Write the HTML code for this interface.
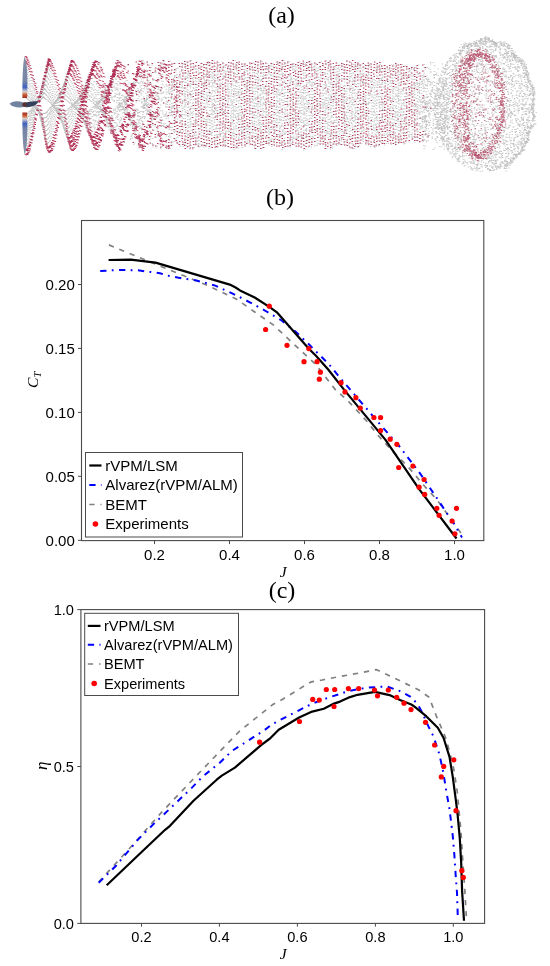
<!DOCTYPE html>
<html><head><meta charset="utf-8"><title>Figure</title>
<style>
html,body{margin:0;padding:0;background:#fff;}
svg{display:block;}
.s{font-family:"Liberation Sans",Arial,sans-serif;fill:#000;}
.t{font-family:"Liberation Serif","Times New Roman",serif;font-size:24px;fill:#000;}
.j{font-family:"Liberation Serif","Times New Roman",serif;font-style:italic;font-size:15.5px;fill:#000;}
</style></head>
<body>
<svg width="550" height="966" viewBox="0 0 550 966">
<rect width="550" height="966" fill="#fff"/>
<g id="wake"><g transform="scale(0.5)"><path d="M50 194l1 0m-1-10l1 0m-1-8l1 0m-1-9l1 0m-1-10l1 0m-1-8l1 0m-1-9l1 0m-1-9l1 0m-1 62l1 0m-1-9l1 0m-1-8l1 0m-1-10l1 0m-1-8l1 0m-1-9l1 0m-1-9l1 0m0-8l1 0m-2 62l1 0m-1-9l1 0m-1-9l1 0m0-8l1 0m-1-9l1 0m-1-9l1 0m-1-8l1 0m-1-9l1 0m-1 61l1 0m-1-8l1 0m-1-9l1 0m-1-8l1 0m0-8l1 0m-1-9l1 0m-1-9l1 0m0-8l1 0m-3 60l1 0m0-8l1 0m-1-9l1 0m0-8l1 0m-2-8l1 0m0-8l1 0m-1-8l1 0m0-8l1 0m-3 58l1 0m-1-8l1 0m0-8l1 0m-1-8l1 0m0-7l1 0m-1-8l1 0m-1-8l1 0m0-8l1 0m-3 56l1 0m0-7l1 0m0-8l1 0m-1-7l1 0m-1-8l1 0m0-7l1 0m-1-8l1 0m-1-7l1 0m-3 53l1 0m0-7l1 0m0-7l1 0m-1-7l1 0m0-7l1 0m0-7l1 0m-1-6l1 0m0-7l1 0m-4 49l1 0m0-6l1 0m-1-6l1 0m0-7l1 0m0-6l1 0m-1-6l1 0m0-7l1 0m0-6l1 0m-5 45l1 0m0-5l1 0m0-6l1 0m0-6l1 0m-1-5l1 0m0-6l1 0m0-5l1 0m0-6l1 0m-5 40l1 0m0-4l1 0m0-5l1 0m0-5l1 0m-1-5l1 0m1-6l1 0m-1-4l1 0m0-5l1 0m-5 36l1 0m0-4l1 0m0-4l1 0m-1-5l1 0m0-4l1 0m0-4l1 0m1-4l1 0m-1-4l1 0m-6 30l1 0m1-3l1 0m-1-3l1 0m0-4l1 0m0-3l1 0m0-3l1 0m1-4l1 0m-1-3l1 0m-6 25l1 0m1-3l1 0m-1-2l1 0m0-3l1 0m0-2l1 0m0-3l1 0m0-2l1 0m0-3l1 0m-6 19l1 0m0-1l1 0m0-2l1 0m0-2l1 0m0-1l1 0m0-2l1 0m0-2l1 0m0-1l1 0m-7 13l1 0m1-1l1 0m-1 0l1 0m0-1l1 0m1-1l1 0m0-1l1 0m0-1l1 0m0-1l1 0m-7 8l1 0m0 0l1 0m1 0l1 0m-1 0l1 0m0 0l1 0m1 0l1 0m0 0l1 0m0 0l1 0m-8 2l1 0m1 1l1 0m0 0l1 0m0 1l1 0m0 1l1 0m0 1l1 0m0 1l1 0m1 1l1 0m-8-5l1 0m0 2l1 0m0 2l1 0m0 1l1 0m0 2l1 0m1 2l1 0m0 2l1 0m0 1l1 0m-8-10l1 0m0 2l1 0m0 3l1 0m0 2l1 0m1 3l1 0m0 2l1 0m0 3l1 0m0 3l1 0m-8-17l1 0m0 4l1 0m1 3l1 0m0 3l1 0m0 4l1 0m1 3l1 0m0 3l1 0m0 3l1 0m-9-21l1 0m1 4l1 0m0 4l1 0m0 4l1 0m0 4l1 0m1 5l1 0m0 3l1 0m0 4l1 0m-9-27l1 0m0 5l1 0m1 5l1 0m0 5l1 0m0 5l1 0m1 4l1 0m0 5l1 0m0 5l1 0m-9-33l1 0m0 6l1 0m1 6l1 0m0 5l1 0m0 5l1 0m0 6l1 0m1 5l1 0m0 5l1 0m-9-36l1 0m0 6l1 0m1 6l1 0m0 6l1 0m0 6l1 0m0 6l1 0m1 6l1 0m0 6l1 0m-9-41l1 0m0 7l1 0m1 6l1 0m0 7l1 0m0 7l1 0m1 6l1 0m0 6l1 0m0 7l1 0m-9-45l1 0m0 7l1 0m1 7l1 0m0 7l1 0m0 7l1 0m1 7l1 0m0 7l1 0m0 8l1 0m-9-50l1 0m0 9l1 0m0 7l1 0m1 8l1 0m0 6l1 0m0 8l1 0m1 8l1 0m0 8l1 0m-9-52l1 0m0 7l1 0m0 8l1 0m1 8l1 0m0 8l1 0m0 7l1 0m0 8l1 0m1 8l1 0m-9-54l1 0m0 8l1 0m0 8l1 0m1 8l1 0m0 8l1 0m0 8l1 0m0 9l1 0m1 8l1 0m-9-56l1 0m0 8l1 0m0 8l1 0m1 8l1 0m0 9l1 0m0 8l1 0m0 8l1 0m0 9l1 0m-8-59l1 0m0 9l1 0m0 8l1 0m1 9l1 0m0 8l1 0m0 9l1 0m0 8l1 0m1 9l1 0m-9-60l1 0m0 9l1 0m0 9l1 0m0 8l1 0m1 9l1 0m-1 7l1 0m1 10l1 0m0 8l1 0m-8-60l1 0m0 9l1 0m1 8l1 0m0 9l1 0m0 8l1 0m0 8l1 0m0 9l1 0m1 8l1 0m-9-59l1 0m1 8l1 0m0 8l1 0m0 9l1 0m0 9l1 0m1 8l1 0m0 8l1 0m0 8l1 0m-9-58l1 0m0 8l1 0m1 8l1 0m1 8l1 0m0 8l1 0m0 8l1 0m0 8l1 0m1 8l1 0m-9-57l1 0m0 9l1 0m0 7l1 0m1 7l1 0m0 8l1 0m1 8l1 0m0 8l1 0m0 8l1 0m-10-55l1 0m1 7l1 0m0 7l1 0m1 8l1 0m1 7l1 0m0 7l1 0m0 8l1 0m1 7l1 0m-10-52l1 0m0 7l1 0m1 6l1 0m0 7l1 0m1 7l1 0m0 8l1 0m1 7l1 0m0 7l1 0m-10-50l1 0m0 6l1 0m0 7l1 0m1 6l1 0m1 6l1 0m1 7l1 0m0 7l1 0m1 6l1 0m-12-46l1 0m1 5l1 0m1 6l1 0m1 6l1 0m0 6l1 0m0 6l1 0m1 6l1 0m1 5l1 0m-11-42l1 0m1 6l1 0m0 5l1 0m1 5l1 0m0 5l1 0m1 6l1 0m1 5l1 0m0 5l1 0m-12-38l1 0m2 5l1 0m0 4l1 0m1 5l1 0m1 4l1 0m0 5l1 0m1 5l1 0m1 4l1 0m-12-34l1 0m1 4l1 0m0 4l1 0m1 4l1 0m1 4l1 0m1 4l1 0m1 4l1 0m0 4l1 0m-12-29l1 0m1 3l1 0m0 3l1 0m1 3l1 0m1 4l1 0m1 3l1 0m1 3l1 0m0 4l1 0m-12-25l1 0m1 3l1 0m1 3l1 0m1 2l1 0m0 2l1 0m1 3l1 0m1 2l1 0m1 2l1 0m-13-18l1 0m1 2l1 0m1 1l1 0m1 2l1 0m1 2l1 0m1 1l1 0m1 2l1 0m0 1l1 0m-12-12l1 0m1 0l1 0m1 1l1 0m0 1l1 0m2 1l1 0m0 1l1 0m2 0l1 0m0 1l1 0m-13-7l1 0m1 0l1 0m1 0l1 0m1 0l1 0m1 0l1 0m1 0l1 0m1 0l1 0m1-1l1 0m-14-1l1 0m2-1l1 0m1-1l1 0m0 0l1 0m2-1l1 0m0-1l1 0m2-1l1 0m0-1l1 0m-13 5l1 0m1-2l1 0m1-2l1 0m1-1l1 0m1-2l1 0m1-1l1 0m1-2l1 0m1-2l1 0m-14 10l1 0m1-2l1 0m2-3l1 0m1-2l1 0m1-2l1 0m1-2l1 0m0-3l1 0m2-3l1 0m-14 16l1 0m1-4l1 0m1-3l1 0m1-3l1 0m1-3l1 0m1-3l1 0m2-3l1 0m0-4l1 0m-14 21l1 0m2-4l1 0m0-4l1 0m1-4l1 0m2-3l1 0m1-4l1 0m1-4l1 0m1-4l1 0m-15 26l1 0m2-5l1 0m1-4l1 0m1-5l1 0m1-4l1 0m1-5l1 0m2-5l1 0m1-4l1 0m-15 31l1 0m1-6l1 0m1-5l1 0m1-5l1 0m2-5l1 0m1-6l1 0m1-5l1 0m1-5l1 0m-15 35l1 0m1-6l1 0m2-6l1 0m1-5l1 0m1-6l1 0m1-6l1 0m2-6l1 0m1-6l1 0m-16 40l1 0m2-6l1 0m1-7l1 0m1-6l1 0m1-6l1 0m2-6l1 0m1-7l1 0m1-7l1 0m-16 44l1 0m2-7l1 0m1-6l1 0m1-8l1 0m2-6l1 0m1-7l1 0m1-7l1 0m2-7l1 0m-16 47l1 0m1-7l1 0m1-7l1 0m2-6l1 0m1-8l1 0m1-8l1 0m1-7l1 0m2-7l1 0m-17 50l1 0m2-8l1 0m1-8l1 0m1-7l1 0m2-7l1 0m1-8l1 0m1-8l1 0m1-7l1 0m-16 52l1 0m2-7l1 0m1-9l1 0m1-7l1 0m2-8l1 0m1-8l1 0m1-8l1 0m1-8l1 0m-16 55l1 0m1-8l1 0m1-8l1 0m2-8l1 0m1-8l1 0m2-8l1 0m-12 39l1 0m1-8l1 0m1-7l1 0m1-8l1 0m2-9l1 0m1-8l1 0m-12 40l1 0m1-8l1 0m1-8l1 0m2-8l1 0m2-8l1 0m1-8l1 0m-13 41l1 0m2-8l1 0m1-8l1 0m2-9l1 0m1-8l1 0m2-8l1 0m-13 41l1 0m2-8l1 0m1-8l1 0m1-8l1 0m2-8l1 0m2-8l1 0m-13 40l1 0m1-7l1 0m3-9l1 0m1-8l1 0m2-7l1 0m1-8l1 0m-13 40l1 0m1-8l1 0m2-7l1 0m2-8l1 0m2-8l1 0m2-7l1 0m-14 39l1 0m2-7l1 0m1-8l1 0m3-7l1 0m1-7l1 0m2-7l1 0m-13 36l1 0m2-7l1 0m1-7l1 0m2-6l1 0m2-7l1 0m2-6l1 0m-14 35l1 0m2-7l1 0m2-6l1 0m2-6l1 0m2-7l1 0m2-6l1 0m-14 32l1 0m2-6l1 0m1-5l1 0m3-6l1 0m2-5l1 0m2-6l1 0m-15 29l1 0m3-5l1 0m2-5l1 0m1-4l1 0m3-7l1 0m1-4l1 0m-13 27l1 0m2-5l1 0m1-4l1 0m2-5l1 0m3-4l1 0m1-4l1 0m-14 23l1 0m3-4l1 0m1-3l1 0m2-4l1 0m2-4l1 0m2-4l1 0m-14 21l1 0m2-4l1 0m2-2l1 0m2-3l1 0m2-4l1 0m2-2l1 0m-15 16l1 0m2-2l1 0m3-3l1 0m2-2l1 0m1-3l1 0m3-1l1 0m-14 12l1 0m1-1l1 0m3-2l1 0m1-2l1 0m3-1l1 0m2-2l1 0m-15 10l1 0m2-1l1 0m2-1l1 0m2 0l1 0m2-1l1 0m2 0l1 0m-15 5l1 0m3-1l1 0m1 1l1 0m3-1l1 0m2 0l1 0m2 1l1 0m-16 1l1 0m3 1l1 0m2 1l1 0m2 1l1 0m3 0l1 0m1 2l1 0m-15-3l1 0m3 1l1 0m1 2l1 0m3 1l1 0m2 2l1 0m2 2l1 0m-15-7l1 0m2 3l1 0m2 2l1 0m2 4l1 0m2 0l1 0m2 2l1 0m-14-9l1 0m2 3l1 0m1 3l1 0m2 3l1 0m2 2l1 0m3 4l1 0m-15-14l1 0m2 4l1 0m1 4l1 0m3 3l1 0m2 5l1 0m2 3l1 0m-15-18l1 0m3 6l1 0m1 2l1 0m2 4l1 0m2 6l1 0m3 5l1 0m-15-21l1 0m2 3l1 0m1 7l1 0m3 6l1 0m1 6l1 0m3 2l1 0m-15-23l1 0m2 5l1 0m2 7l1 0m2 4l1 0m1 6l1 0m2 4l1 0m-14-25l1 0m2 7l1 0m2 5l1 0m2 7l1 0m2 4l1 0m2 9l1 0m-14-32l1 0m1 6l1 0m3 7l1 0m1 7l1 0m2 7l1 0m2 8l1 0m-14-33l1 0m2 7l1 0m3 6l1 0m0 8l1 0m2 8l1 0m2 8l1 0m-14-36l1 0m2 6l1 0m2 9l1 0m2 7l1 0m1 8l1 0m2 8l1 0m-13-38l1 0m2 8l1 0m1 7l1 0m2 7l1 0m1 9l1 0m2 6l1 0m-13-37l1 0m2 6l1 0m1 9l1 0m2 9l1 0m2 7l1 0m2 8l1 0m-14-39l1 0m2 8l1 0m1 8l1 0m3 9l1 0m1 8l1 0m1 7l1 0m-12-39l1 0m2 7l1 0m1 10l1 0m2 5l1 0m1 9l1 0m1 9l1 0m-12-40l1 0m2 8l1 0m2 6l1 0m0 8l1 0m3 10l1 0m0 8l1 0m-11-41l1 0m1 8l1 0m1 6l1 0m3 8l1 0m1 11l1 0m1 7l1 0m-12-42l1 0m2 10l1 0m3 6l1 0m0 10l1 0m1 6l1 0m2 7l1 0m-12-37l1 0m2 6l1 0m1 6l1 0m1 12l1 0m2 3l1 0m1 10l1 0m-11-39l1 0m0 8l1 0m2 7l1 0m2 7l1 0m3 8l1 0m2 2l1 0m-14-31l1 0m2 2l1 0m2 9l1 0m0 11l1 0m3 3l1 0m1 8l1 0m-12-36l1 0m1 7l1 0m0 8l1 0m3 3l1 0m3 8l1 0m0 6l1 0m-12-32l1 0m1 5l1 0m2 6l1 0m2 7l1 0m1 2l1 0m3 7l1 0m-14-30l1 0m1 4l1 0m4 7l1 0m0 2l1 0m2 11l1 0m3 2l1 0m-14-25l1 0m2 5l1 0m1 4l1 0m3 2l1 0m-1 10l1 0m3 3l1 0m-13-25l1 0m2 4l1 0m1 6l1 0m2 0l1 0m1 3l1 0m3 6l1 0m-14-23l1 0m2 7l1 0m2 0l1 0m2 3l1 0m2 6l1 0m1-5l1 0m-13-12l1 0m2 3l1 0m0-3l1 0m3 9l1 0m2 2l1 0m0 4l1 0m-13-15l1 0m4 1l1 0m1 3l1 0m1-2l1 0m0 7l1 0m2 0l1 0m-11-10l1 0m0-2l1 0m4 5l1 0m2-3l1 0m2 3l1 0m0 5l1 0m-12-11l1 0m2 1l1 0m0-3l1 0m3 5l1 0m0 0l1 0m4-4l1 0m-14-1l1 0m1-3l1 0m3 1l1 0m1-2l1 0m1 5l1 0m2-3l1 0m-13 1l1 0m2-3l1 0m2 1l1 0m1-5l1 0m3 2l1 0m1-8l1 0m-12 13l1 0m1-4l1 0m0 0l1 0m4-1l1 0m3-4l1 0m-1-2l1 0m-15 8l1 0m3-2l1 0m2-3l1 0m2-3l1 0m2-3l1 0m2-3l1 0m-13 13l1 0m2-4l1 0m2 0l1 0m2-4l1 0m0-9l1 0m1 0l1 0m-12 15l1 0m2-5l1 0m3-4l1 0m0-5l1 0m2-6l1 0m3-1l1 0m-13 20l1 0m0-4l1 0m0-3l1 0m4-8l1 0m0-7l1 0m3 2l1 0m-13 19l1 0m4-6l1 0m-1-5l1 0m3-7l1 0m-1-6l1 0m3-4l1 0m-11 27l1 0m-1-4l1 0m3-11l1 0m0-5l1 0m2-5l1 0m4-3l1 0m-13 23l1 0m1-1l1 0m1-8l1 0m3-3l1 0m1-11l1 0m2-4l1 0m-13 31l1 0m2-5l1 0m-2-7l1 0m3-13l1 0m4-6l1 0m1 0l1 0m-14 31l1 0m2-5l1 0m2-12l1 0m2-5l1 0m1-8l1 0m2-7l1 0m-13 34l1 0m2-9l1 0m3-6l1 0m1-6l1 0m0-4l1 0m1-12l1 0m-12 39l1 0m1-9l1 0m2-7l1 0m4-10l1 0m-1-4l1 0m1-8l1 0m-11 35l1 0m2-6l1 0m1-6l1 0m2-7l1 0m0-9l1 0m3-10l1 0m-12 41l1 0m0-12l1 0m1-4l1 0m3-13l1 0m3-4l1 0m1-10l1 0m-12 45l1 0m0-17l1 0m4-2l1 0m-1-8l1 0m3-9l1 0m1-7l1 0m-11 42l1 0m-2-9l1 0m4-8l1 0m1-8l1 0m1-8l1 0m3-8l1 0m-13 40l1 0m2-5l1 0m2-10l1 0m2-7l1 0m0-2l1 0m3-14l1 0m-13 37l1 0m1-9l1 0m1-6l1 0m4-4l1 0m0-9l1 0m1-8l1 0m-9 36l1 0m0-12l1 0m6-7l1 0m0-8l1 0m-1-1l1 0m-11 27l1 0m6-14l1 0m1 0l1 0m1-4l1 0m1-13l1 0m-14 35l1 0m3-5l1 0m2-6l1 0m3-8l1 0m0-8l1 0m2-3l1 0m-14 32l1 0m3-6l1 0m0-3l1 0m5-9l1 0m-2-4l1 0m4-8l1 0m-13 31l1 0m1-8l1 0m1-5l1 0m3 0l1 0m2-1l1 0m0-10l1 0m-13 26l1 0m5-8l1 0m-1-6l1 0m3 1l1 0m7-10l1 0m-14 21l1 0m3-5l1 0m1-11l1 0m-1 4l1 0m4-10l1 0m-12 26l1 0m1-4l1 0m2-5l1 0m1 0l1 0m2-5l1 0m2 1l1 0m-9 8l1 0m3-5l1 0m2-5l1 0m3 9l1 0m-12 8l1 0m-1-2l1 0m2 2l1 0m1 1l1 0m5-4l1 0m2-3l1 0m-16 8l1 0m1 0l1 0m2-1l1 0m1-2l1 0m4-1l1 0m-11 5l1 0m4 0l1 0m2-6l1 0m1 8l1 0m2-7l1 0m-17 6l1 0m5 3l1 0m3 5l1 0m3-3l1 0m-1-8l1 0m-5 8l1 0m5 4l1 0m2-1l1 0m-12-6l1 0m1 6l1 0m3 0l1 0m3 1l1 0m3 6l1 0m-16-7l1 0m4 2l1 0m2 3l1 0m5 7l1 0m-13-13l1 0m4 0l1 0m3 7l1 0m-1 10l1 0m5 3l1 0m-14-20l1 0m0 7l1 0m5 6l1 0m3 7l1 0m2 0l1 0m-13-19l1 0m-1 9l1 0m3-1l1 0m4 10l1 0m1 7l1 0m-1 7l1 0m-4-15l1 0m-1 0l1 0m3 12l1 0m2 1l1 0m-16-27l1 0m7 9l1 0m-1 3l1 0m4 12l1 0m2 6l1 0m-17-25l1 0m3 7l1 0m5-1l1 0m5 22l1 0m-12-31l1 0m2 3l1 0m4 7l1 0m0 15l1 0m1 4l1 0m3 9l1 0m-14-34l1 0m0 6l1 0m3 6l1 0m1 1l1 0m2 9l1 0m-9-25l1 0m3 23l1 0m4 3l1 0m3 18l1 0m-16-43l1 0m8 15l1 0m6 14l1 0m-2 7l1 0m-13-33l1 0m3 2l1 0m0 12l1 0m4 12l1 0m1 7l1 0m-12-40l1 0m2 10l1 0m3 17l1 0m-2 0l1 0m5 9l1 0m-11-27l1 0m7 19l1 0m-2 9l1 0m7 7l1 0m-14-39l1 0m2 20l1 0m5 4l1 0m-2 9l1 0m-5-26l1 0m-2 10l1 0m4 3l1 0m-7-26l1 0m-1 9l1 0m9 23l1 0m-12-25l1 0m4-1l1 0m3 12l1 0m1 3l1 0m1 11l1 0m0 4l1 0m-10-34l1 0m4 3l1 0m0 6l1 0m0 13l1 0m3 10l1 0m0 2l1 0m-13-39l1 0m4 8l1 0m-1 7l1 0m4 14l1 0m2 13l1 0m-7-35l1 0m-3 6l1 0m5 6l1 0m4 7l1 0m-13-26l1 0m3 7l1 0m0 13l1 0m1-4l1 0m2 2l1 0m-1 7l1 0m-9-23l1 0m2 4l1 0m1-1l1 0m3 6l1 0m1-6l1 0m1 14l1 0m-3-20l1 0m-2 8l1 0m6 4l1 0m-9-17l1 0m-2 11l1 0m-3-9l1 0m7 3l1 0m3 7l1 0m-3-13l1 0m0 16l1 0m-8-10l1 0m0-9l1 0m0 3l1 0m-5 2l1 0m7-7l1 0m1 6l1 0m4-1l1 0m-5-6l1 0m-7 1l1 0m1 3l1 0m0-7l1 0m7-10l1 0m-9 10l1 0m9-10l1 0m-14 10l1 0m3-8l1 0m1 3l1 0m8-9l1 0m-12 9l1 0m4-1l1 0m7-10l1 0m-10 8l1 0m3-10l1 0m6-3l1 0m-11 11l1 0m2-7l1 0m-4 16l1 0m1-8l1 0m1-15l1 0m5 0l1 0m-12 11l1 0m9-9l1 0m-1-9l1 0m-3 19l1 0m0-9l1 0m-3 11l1 0m4-17l1 0m2-2l1 0m-3-12l1 0m7-11l1 0m-10 36l1 0m7-30l1 0m-5 18l1 0m3 1l1 0m-2-11l1 0m-6 27l1 0m-2-4l1 0m10-6l1 0m1-19l1 0m-6 13l1 0m5-7l1 0m-11 25l1 0m0 6l1 0m0 0l1 0m11-25l1 0m-7 14l1 0m3-2l1 0m0-2l1 0m-11 12l1 0m14-27l1 0m-2 26l1 0m4 0l1 0m4-16l1 0m-18 21l1 0m1 6l1 0m4-9l1 0m-1 11l1 0m3-3l1 0m11-7l1 0m-9 11l1 0m4 3l1 0m-13 1l1 0m13 1l1 0m-5 1l1 0m2 9l1 0m3 14l1 0m-7-8l1 0m5 7l1 0m4 1l1 0m4-5l1 0m-310-4l1 0m-1 8l1 0m-1 9l1 0m-1 10l1 0m-1 8l1 0m-1 9l1 0m-1 9l1 0m-1 9l1 0m0-63l1 0m-1 9l1 0m-1 10l1 0m0 8l1 0m-2 9l1 0m-1 9l1 0m-1 9l1 0m0 9l1 0m-1-62l1 0m0 8l1 0m-2 9l1 0m0 8l1 0m-2 9l1 0m0 9l1 0m-1 9l1 0m-1 9l1 0m0-62l1 0m-1 8l1 0m-1 9l1 0m-1 9l1 0m-1 8l1 0m-1 8l1 0m-1 9l1 0m-1 8l1 0m-1-60l1 0m-1 9l1 0m0 7l1 0m-1 9l1 0m-1 7l1 0m0 9l1 0m-1 8l1 0m-1 9l1 0m-2-58l1 0m0 7l1 0m-1 8l1 0m-1 8l1 0m0 8l1 0m-1 8l1 0m-1 7l1 0m-1 9l1 0m-1-56l1 0m-1 7l1 0m0 7l1 0m-2 7l1 0m0 8l1 0m-1 7l1 0m0 8l1 0m-1 7l1 0m-2-53l1 0m-1 7l1 0m-1 7l1 0m0 7l1 0m-1 6l1 0m-1 7l1 0m0 7l1 0m-1 7l1 0m-3-49l1 0m0 7l1 0m0 6l1 0m-1 5l1 0m-1 7l1 0m0 6l1 0m-1 6l1 0m-1 7l1 0m-2-45l1 0m-1 5l1 0m-1 6l1 0m0 6l1 0m-1 6l1 0m0 4l1 0m-1 6l1 0m0 6l1 0m-3-40l1 0m0 4l1 0m-2 5l1 0m0 5l1 0m0 5l1 0m-1 5l1 0m0 4l1 0m-1 5l1 0m-3-35l1 0m-1 4l1 0m0 4l1 0m-1 4l1 0m0 5l1 0m0 4l1 0m-1 4l1 0m0 4l1 0m-4-30l1 0m0 3l1 0m-1 3l1 0m0 4l1 0m0 3l1 0m-1 4l1 0m-1 3l1 0m0 3l1 0m-4-25l1 0m0 2l1 0m-1 3l1 0m0 2l1 0m0 3l1 0m0 3l1 0m-1 2l1 0m0 3l1 0m-5-20l1 0m0 2l1 0m0 2l1 0m-1 1l1 0m0 2l1 0m0 2l1 0m0 2l1 0m-1 1l1 0m-4-13l1 0m0 0l1 0m-1 1l1 0m0 1l1 0m0 1l1 0m-1 1l1 0m0 0l1 0m0 2l1 0m-5-8l1 0m0 0l1 0m0 0l1 0m0 0l1 0m-1 0l1 0m0 0l1 0m0 0l1 0m-1 0l1 0m-4-2l1 0m0-1l1 0m0-1l1 0m-1 0l1 0m0-1l1 0m0-1l1 0m0-1l1 0m-1-1l1 0m-5 5l1 0m0-2l1 0m0-2l1 0m0-2l1 0m0-1l1 0m0-2l1 0m-1-2l1 0m0-1l1 0m-5 10l1 0m0-3l1 0m-1-2l1 0m1-3l1 0m0-2l1 0m-1-3l1 0m0-2l1 0m0-2l1 0m-6 15l1 0m0-3l1 0m0-3l1 0m0-4l1 0m0-3l1 0m0-3l1 0m0-3l1 0m0-4l1 0m-6 22l1 0m0-4l1 0m0-5l1 0m0-3l1 0m0-4l1 0m0-4l1 0m0-4l1 0m0-4l1 0m-6 27l1 0m0-5l1 0m0-5l1 0m0-5l1 0m-1-4l1 0m0-5l1 0m0-5l1 0m0-4l1 0m-7 31l1 0m1-5l1 0m0-6l1 0m0-5l1 0m0-5l1 0m0-6l1 0m0-5l1 0m0-6l1 0m-7 37l1 0m1-6l1 0m0-6l1 0m0-7l1 0m0-5l1 0m-1-6l1 0m1-6l1 0m0-7l1 0m-7 42l1 0m0-7l1 0m0-6l1 0m-1-7l1 0m1-7l1 0m0-6l1 0m0-7l1 0m0-7l1 0m-7 46l1 0m0-7l1 0m-1-7l1 0m1-7l1 0m0-8l1 0m0-7l1 0m0-7l1 0m0-6l1 0m-8 48l1 0m1-7l1 0m0-8l1 0m0-8l1 0m0-7l1 0m0-7l1 0m0-8l1 0m1-7l1 0m-8 52l1 0m0-8l1 0m0-8l1 0m0-8l1 0m0-8l1 0m0-8l1 0m0-8l1 0m0-8l1 0m-8 55l1 0m0-9l1 0m1-7l1 0m-1-9l1 0m0-7l1 0m1-8l1 0m0-9l1 0m0-8l1 0m-9 57l1 0m1-9l1 0m0-8l1 0m0-8l1 0m0-8l1 0m0-9l1 0m1-9l1 0m0-8l1 0m-9 58l1 0m0-8l1 0m0-9l1 0m0-8l1 0m1-8l1 0m0-9l1 0m0-9l1 0m0-8l1 0m-9 59l1 0m0-9l1 0m0-8l1 0m1-8l1 0m0-9l1 0m0-8l1 0m0-8l1 0m0-8l1 0m-9 59l1 0m0-9l1 0m1-8l1 0m0-9l1 0m0-8l1 0m1-8l1 0m0-9l1 0m0-9l1 0m-9 59l1 0m0-8l1 0m0-8l1 0m1-8l1 0m0-9l1 0m1-8l1 0m0-8l1 0m0-8l1 0m-10 58l1 0m1-8l1 0m0-8l1 0m0-8l1 0m1-8l1 0m0-8l1 0m1-8l1 0m1-8l1 0m-11 57l1 0m1-8l1 0m0-8l1 0m1-8l1 0m0-8l1 0m1-7l1 0m0-8l1 0m1-7l1 0m-11 54l1 0m1-7l1 0m0-8l1 0m1-7l1 0m1-7l1 0m0-8l1 0m1-7l1 0m1-8l1 0m-12 53l1 0m1-7l1 0m0-7l1 0m1-7l1 0m0-7l1 0m2-7l1 0m0-7l1 0m1-7l1 0m-12 50l1 0m1-7l1 0m1-6l1 0m1-6l1 0m1-7l1 0m0-7l1 0m1-6l1 0m1-6l1 0m-13 46l1 0m2-6l1 0m1-6l1 0m1-6l1 0m0-6l1 0m1-6l1 0m1-5l1 0m1-6l1 0m-12 42l1 0m0-5l1 0m1-5l1 0m1-5l1 0m1-6l1 0m1-5l1 0m0-5l1 0m2-5l1 0m-13 38l1 0m1-5l1 0m1-4l1 0m1-5l1 0m1-5l1 0m1-5l1 0m1-4l1 0m1-5l1 0m-14 34l1 0m1-4l1 0m1-4l1 0m2-4l1 0m0-4l1 0m2-4l1 0m1-4l1 0m1-3l1 0m-14 29l1 0m1-4l1 0m1-3l1 0m1-3l1 0m1-3l1 0m2-3l1 0m1-4l1 0m1-2l1 0m-14 23l1 0m0-2l1 0m2-3l1 0m1-2l1 0m1-3l1 0m1-2l1 0m1-3l1 0m1-2l1 0m-14 19l1 0m1-2l1 0m1-2l1 0m1-1l1 0m2-2l1 0m1-1l1 0m1-2l1 0m1-2l1 0m-15 13l1 0m2-1l1 0m1-1l1 0m1 0l1 0m1-1l1 0m2-1l1 0m1 0l1 0m1-1l1 0m-15 7l1 0m1 0l1 0m2 0l1 0m1 0l1 0m1 0l1 0m1 0l1 0m2 0l1 0m1 0l1 0m-16 1l1 0m1 1l1 0m2 1l1 0m1 1l1 0m2 1l1 0m1 1l1 0m1 0l1 0m2 1l1 0m-17-4l1 0m1 2l1 0m2 1l1 0m2 2l1 0m1 2l1 0m1 1l1 0m2 1l1 0m1 2l1 0m-16-9l1 0m1 2l1 0m2 2l1 0m1 3l1 0m1 2l1 0m1 2l1 0m2 3l1 0m1 2l1 0m-16-15l1 0m2 3l1 0m1 3l1 0m1 3l1 0m1 4l1 0m2 3l1 0m1 3l1 0m2 3l1 0m-17-21l1 0m1 4l1 0m2 4l1 0m1 4l1 0m2 4l1 0m1 4l1 0m1 4l1 0m2 4l1 0m-17-26l1 0m1 4l1 0m2 5l1 0m1 5l1 0m2 4l1 0m1 5l1 0m1 4l1 0m2 5l1 0m-17-31l1 0m1 5l1 0m2 6l1 0m1 5l1 0m2 4l1 0m1 6l1 0m1 6l1 0m2 5l1 0m-17-36l1 0m1 6l1 0m2 6l1 0m1 6l1 0m2 6l1 0m1 6l1 0m1 5l1 0m2 6l1 0m-17-40l1 0m2 7l1 0m1 6l1 0m1 6l1 0m2 6l1 0m1 7l1 0m1 6l1 0m2 7l1 0m-17-44l1 0m1 7l1 0m2 7l1 0m1 7l1 0m2 6l1 0m1 7l1 0m1 7l1 0m2 7l1 0m-17-47l1 0m1 8l1 0m2 7l1 0m2 6l1 0m1 8l1 0m1 7l1 0m1 7l1 0m2 7l1 0m-17-49l1 0m1 7l1 0m2 8l1 0m1 7l1 0m2 8l1 0m0 8l1 0m2 7l1 0m2 8l1 0m-17-53l1 0m1 8l1 0m2 8l1 0m1 8l1 0m1 7l1 0m2 8l1 0m1 8l1 0m2 8l1 0m-17-54l1 0m1 7l1 0m2 9l1 0m2 8l1 0m0 8l1 0m2 8l1 0m-12-40l1 0m1 8l1 0m1 8l1 0m2 8l1 0m2 8l1 0m0 8l1 0m-11-39l1 0m1 6l1 0m2 9l1 0m1 8l1 0m1 9l1 0m2 7l1 0m-12-40l1 0m2 8l1 0m0 8l1 0m2 8l1 0m1 8l1 0m2 9l1 0m-12-41l1 0m2 8l1 0m1 7l1 0m2 8l1 0m1 9l1 0m1 7l1 0m-12-40l1 0m2 8l1 0m1 8l1 0m2 8l1 0m1 7l1 0m2 8l1 0m-13-39l1 0m2 7l1 0m1 7l1 0m2 9l1 0m2 7l1 0m1 7l1 0m-13-38l1 0m2 7l1 0m1 7l1 0m2 7l1 0m2 8l1 0m2 6l1 0m-13-36l1 0m1 7l1 0m2 7l1 0m2 6l1 0m1 8l1 0m2 6l1 0m-13-35l1 0m2 7l1 0m2 6l1 0m1 6l1 0m2 6l1 0m2 6l1 0m-14-32l1 0m3 6l1 0m1 5l1 0m2 6l1 0m2 6l1 0m1 6l1 0m-13-30l1 0m2 5l1 0m2 6l1 0m2 5l1 0m1 4l1 0m2 6l1 0m-13-27l1 0m1 4l1 0m2 5l1 0m2 4l1 0m2 5l1 0m1 4l1 0m-13-24l1 0m2 4l1 0m2 4l1 0m2 4l1 0m1 3l1 0m2 4l1 0m-14-20l1 0m2 2l1 0m2 4l1 0m1 4l1 0m3 2l1 0m1 3l1 0m-13-17l1 0m2 3l1 0m1 2l1 0m2 3l1 0m2 2l1 0m1 2l1 0m-12-13l1 0m1 1l1 0m2 2l1 0m2 2l1 0m2 0l1 0m1 4l1 0m-13-11l1 0m2 1l1 0m2 0l1 0m1 1l1 0m2 1l1 0m2 3l1 0m-13-7l1 0m2-1l1 0m1 0l1 0m2 1l1 0m2 0l1 0m2 1l1 0m-14-3l1 0m2 0l1 0m1-2l1 0m3-1l1 0m1 0l1 0m1 0l1 0m-12 2l1 0m2-3l1 0m2-1l1 0m1 0l1 0m3-3l1 0m0 0l1 0m-12 5l1 0m1-1l1 0m2-3l1 0m1-2l1 0m2-4l1 0m2-2l1 0m-13 10l1 0m2-2l1 0m1-2l1 0m3-4l1 0m2-4l1 0m1-2l1 0m-13 13l1 0m2-3l1 0m2-5l1 0m1-3l1 0m2-5l1 0m2-2l1 0m-13 17l1 0m1-5l1 0m2-4l1 0m1-4l1 0m2-4l1 0m2-5l1 0m-13 21l1 0m2-5l1 0m1-6l1 0m2-5l1 0m2-5l1 0m1-3l1 0m-13 22l1 0m3-5l1 0m1-7l1 0m1-3l1 0m3-6l1 0m1-7l1 0m-13 27l1 0m2-5l1 0m2-7l1 0m1-7l1 0m1-6l1 0m2-6l1 0m-13 31l1 0m3-8l1 0m1-6l1 0m2-6l1 0m1-7l1 0m1-6l1 0m-13 31l1 0m3-7l1 0m1-6l1 0m2-8l1 0m2-5l1 0m1-10l1 0m-13 37l1 0m1-9l1 0m2-5l1 0m2-10l1 0m1-8l1 0m3-6l1 0m-14 36l1 0m2-6l1 0m2-10l1 0m1-9l1 0m2-6l1 0m1-7l1 0m-12 37l1 0m1-5l1 0m1-12l1 0m1-4l1 0m3-9l1 0m1-9l1 0m-11 40l1 0m1-9l1 0m1-7l1 0m1-9l1 0m1-7l1 0m3-8l1 0m-12 40l1 0m0-8l1 0m1-7l1 0m2-10l1 0m2-9l1 0m0-7l1 0m-11 41l1 0m2-10l1 0m1-5l1 0m3-8l1 0m0-8l1 0m1-8l1 0m-12 39l1 0m2-9l1 0m2-6l1 0m1-8l1 0m1-8l1 0m2-7l1 0m-11 40l1 0m0-10l1 0m3-6l1 0m0-7l1 0m3-7l1 0m1-10l1 0m-13 40l1 0m2-9l1 0m2-7l1 0m1-6l1 0m2-8l1 0m1-10l1 0m-11 39l1 0m0-6l1 0m3-7l1 0m1-5l1 0m2-8l1 0m1-7l1 0m-13 37l1 0m3-8l1 0m1-9l1 0m1-8l1 0m2-5l1 0m2-6l1 0m-12 35l1 0m0-7l1 0m2-4l1 0m2-10l1 0m2-4l1 0m3-5l1 0m-15 30l1 0m3-5l1 0m2-4l1 0m1-9l1 0m2-2l1 0m2-12l1 0m-14 34l1 0m2-6l1 0m1-7l1 0m3-3l1 0m3-4l1 0m1-8l1 0m-14 30l1 0m3-3l1 0m1-6l1 0m2-5l1 0m2-4l1 0m2-5l1 0m-15 23l1 0m1-4l1 0m2-2l1 0m3-5l1 0m2-3l1 0m1-4l1 0m-12 21l1 0m0-5l1 0m2-5l1 0m2 1l1 0m3-8l1 0m3 1l1 0m-15 15l1 0m2-2l1 0m1-1l1 0m2-2l1 0m2-3l1 0m3-3l1 0m-16 13l1 0m4-3l1 0m1 1l1 0m2-2l1 0m4-3l1 0m1-1l1 0m-16 10l1 0m3-1l1 0m3-2l1 0m0 2l1 0m2-5l1 0m2 3l1 0m-15 3l1 0m2 3l1 0m2-3l1 0m3 3l1 0m4-1l1 0m-1 1l1 0m-14 0l1 0m3 0l1 0m2 1l1 0m1 2l1 0m2 2l1 0m4-1l1 0m-16-1l1 0m1 0l1 0m3 3l1 0m3 0l1 0m1 0l1 0m2 2l1 0m-16-6l1 0m2 3l1 0m3 4l1 0m3-2l1 0m3 7l1 0m1 2l1 0m-15-11l1 0m3 2l1 0m2 1l1 0m1 4l1 0m2 4l1 0m0 0l1 0m-13-10l1 0m2 4l1 0m1 7l1 0m3 1l1 0m3 5l1 0m0 3l1 0m-14-19l1 0m2 5l1 0m3 6l1 0m2 2l1 0m2 5l1 0m1 8l1 0m-14-22l1 0m2 2l1 0m1 5l1 0m2 10l1 0m2 0l1 0m3 7l1 0m-15-26l1 0m2 5l1 0m2 7l1 0m3 6l1 0m1 3l1 0m1 12l1 0m-14-34l1 0m5 7l1 0m-1 6l1 0m3 6l1 0m0 13l1 0m2 1l1 0m-13-28l1 0m1 6l1 0m3 4l1 0m1 13l1 0m2-1l1 0m1 13l1 0m-14-37l1 0m3 10l1 0m3 4l1 0m2 8l1 0m1 7l1 0m3 8l1 0m-17-34l1 0m3 8l1 0m2 8l1 0m2 6l1 0m1 4l1 0m1 8l1 0m-12-35l1 0m1 8l1 0m3 6l1 0m3 9l1 0m0 8l1 0m3 8l1 0m-15-41l1 0m1 11l1 0m6 7l1 0m-1 11l1 0m3 9l1 0m-3 4l1 0m-10-38l1 0m2 3l1 0m3 13l1 0m0 7l1 0m1 6l1 0m3 5l1 0m-15-37l1 0m3 11l1 0m0 5l1 0m3 10l1 0m1 9l1 0m1 8l1 0m-11-40l1 0m-1 9l1 0m4 7l1 0m2 9l1 0m0 5l1 0m3 11l1 0m-12-43l1 0m0 11l1 0m3 10l1 0m-1 2l1 0m4 10l1 0m0 5l1 0m-12-37l1 0m3 8l1 0m2 4l1 0m0 10l1 0m4 6l1 0m1 11l1 0m-14-41l1 0m3 7l1 0m0 11l1 0m1 9l1 0m1 4l1 0m3 4l1 0m-12-38l1 0m1 11l1 0m1 9l1 0m2 4l1 0m4 8l1 0m0-3l1 0m-13-26l1 0m1 10l1 0m1 2l1 0m3 9l1 0m1 1l1 0m4 11l1 0m-14-32l1 0m3 3l1 0m2 8l1 0m2 14l1 0m2 3l1 0m-11-32l1 0m3 6l1 0m1 6l1 0m0 2l1 0m3 5l1 0m0 13l1 0m-14-35l1 0m1 7l1 0m5 5l1 0m0 9l1 0m3 7l1 0m-1-2l1 0m-11-24l1 0m1 4l1 0m4 4l1 0m-1 4l1 0m4 9l1 0m0-2l1 0m-13-21l1 0m0 2l1 0m2 3l1 0m2 6l1 0m5 8l1 0m-3-2l1 0m-6-16l1 0m2 4l1 0m5 3l1 0m0 7l1 0m-15-19l1 0m2 3l1 0m2 4l1 0m4-2l1 0m-4 0l1 0m-6-6l1 0m2 1l1 0m0 1l1 0m2 6l1 0m3-7l1 0m0 11l1 0m-13-9l1 0m1-1l1 0m2-2l1 0m4 1l1 0m1 2l1 0m3-7l1 0m-14 1l1 0m5 3l1 0m0 0l1 0m6-5l1 0m-12 3l1 0m-2 1l1 0m8-4l1 0m0-2l1 0m0-3l1 0m-14 4l1 0m8-4l1 0m-2-1l1 0m2 0l1 0m3 5l1 0m-11-1l1 0m1-8l1 0m4 2l1 0m1-5l1 0m1-3l1 0m-14 14l1 0m3-7l1 0m3-3l1 0m1-1l1 0m-10 6l1 0m6-6l1 0m-3 5l1 0m6-13l1 0m2-7l1 0m-11 22l1 0m4-4l1 0m1-10l1 0m4-5l1 0m-1 0l1 0m-13 17l1 0m3-4l1 0m-3-2l1 0m6-10l1 0m-7 10l1 0m1-1l1 0m2-7l1 0m1-1l1 0m7-11l1 0m-15 28l1 0m1-9l1 0m1-5l1 0m2-12l1 0m1-9l1 0m3-1l1 0m-12 30l1 0m2-4l1 0m-1-6l1 0m1-4l1 0m5-10l1 0m2-3l1 0m-15 28l1 0m3-17l1 0m3-7l1 0m0-5l1 0m2 3l1 0m-6 9l1 0m5-12l1 0m-1-11l1 0m-9 31l1 0m0-4l1 0m6-17l1 0m3-8l1 0m-13 34l1 0m-1-3l1 0m0-9l1 0m2-7l1 0m4-9l1 0m1-5l1 0m-10 28l1 0m2-7l1 0m7-25l1 0m-11 36l1 0m5-2l1 0m-5-9l1 0m7-16l1 0m-8 23l1 0m3-20l1 0m2-2l1 0m-11 29l1 0m13-30l1 0m0-12l1 0m-2 24l1 0m-11 21l1 0m11-32l1 0m-6 20l1 0m-2-5l1 0m5-1l1 0m2-6l1 0m1-11l1 0m-1 8l1 0m-10 19l1 0m1-9l1 0m5 0l1 0m1-23l1 0m-3 21l1 0m1-2l1 0m1-10l1 0m-11 30l1 0m2-4l1 0m4-12l1 0m3-4l1 0m0-6l1 0m-11 31l1 0m3-12l1 0m0 8l1 0m5-22l1 0m-11 24l1 0m2-13l1 0m3-4l1 0m4 4l1 0m-5 7l1 0m5-3l1 0m0 8l1 0m-12 4l1 0m4-4l1 0m-1 0l1 0m7-7l1 0m-14 14l1 0m3 4l1 0m1-9l1 0m1 6l1 0m3 3l1 0m1-2l1 0m-13 5l1 0m2 2l1 0m3-14l1 0m4 7l1 0m-10 4l1 0m12 8l1 0m-17-6l1 0m10 6l1 0m6 2l1 0m-17-7l1 0m3 6l1 0m6-1l1 0m0 6l1 0m-2 2l1 0m-11-11l1 0m11 13l1 0m2-1l1 0m-1 12l1 0m-11-23l1 0m5 12l1 0m4 14l1 0m-10-21l1 0m5 8l1 0m1 2l1 0m6 16l1 0m-10-22l1 0m6 11l1 0m-5-3l1 0m0 3l1 0m-5-4l1 0m12 19l1 0m-16-30l1 0m8 14l1 0m-2 1l1 0m6 20l1 0m-5-22l1 0m-8-6l1 0m4 8l1 0m2-5l1 0m-1 4l1 0m-4-4l1 0m5 29l1 0m2 10l1 0m0 2l1 0m-7-30l1 0m10 9l1 0m-3-8l1 0m-9-10l1 0m8 9l1 0m-3 1l1 0m7 19l1 0m-5-13l1 0m-9-24l1 0m7 12l1 0m2 14l1 0m-5-19l1 0m12 2l1 0m-18-19l1 0m12 7l1 0m1-15l1 0m1-9l1 0m8-6l1 0m3-4l1 0m-8 7l1 0m13-8l1 0m-7-19l1 0m0 5l1 0m-105 4l1 0m3-17l1 0m2-1l1 0m1-30l1 0m2 100l1 0m-3 1l1 0m7-62l1 0m-1 17l1 0m-1 49l1 0m-4 34l1 0m1 0l1 0m-3 3l1 0m-2 4l1 0m2-1l1 0m-5 3l1 0m7-115l1 0m-2 4l1 0m2 58l1 0m-1 3l1 0m-3 5l1 0m0 16l1 0m1 10l1 0m-3 6l1 0m-1 20l1 0m-3 3l1 0m6-105l1 0m-3 3l1 0m3 3l1 0m-2 11l1 0m-4 3l1 0m-1 15l1 0m1 2l1 0m-3 2l1 0m-1 26l1 0m2-1l1 0m-4 4l1 0m5-102l1 0m2-1l1 0m-5 18l1 0m2-1l1 0m0 18l1 0m-5 49l1 0m1 0l1 0m-2 7l1 0m0 0l1 0m-1 11l1 0m0 23l1 0m0 8l1 0m-6 8l1 0m3 4l1 0m-3 2l1 0m7-175l1 0m-4 4l1 0m4 1l1 0m-4 25l1 0m-5 3l1 0m2 10l1 0m1 0l1 0m-4 41l1 0m0 29l1 0m2-1l1 0m-5 8l1 0m0 11l1 0m-2 4l1 0m-1 9l1 0m1 14l1 0m1 11l1 0m4-148l1 0m-2 4l1 0m-1 5l1 0m-4 4l1 0m2 0l1 0m0 44l1 0m-5 1l1 0m-1 3l1 0m-1 6l1 0m1 1l1 0m-2 5l1 0m-2 18l1 0m1 1l1 0m-3 2l1 0m-1 18l1 0m4 15l1 0m-3 6l1 0m2-147l1 0m3 2l1 0m-2 11l1 0m-2 13l1 0m-3 3l1 0m2 4l1 0m-3 2l1 0m-2 3l1 0m1 0l1 0m-4 3l1 0m2 3l1 0m-4 4l1 0m0 2l1 0m1 1l1 0m1 5l1 0m-5 25l1 0m-2 3l1 0m0 8l1 0m1 1l1 0m-2 2l1 0m-2 27l1 0m3-1l1 0m-6 4l1 0m3 3l1 0m-2 15l1 0m-3 2l1 0m7-138l1 0m-2 7l1 0m-3 5l1 0m2 1l1 0m-2 4l1 0m0 15l1 0m-3 2l1 0m1 21l1 0m-5 2l1 0m3 3l1 0m-3 25l1 0m-3 4l1 0m3 1l1 0m-3 3l1 0m1 5l1 0m-1 16l1 0m-2 6l1 0m-3 7l1 0m1 1l1 0m-1 9l1 0m-1 6l1 0m2 9l1 0m-1-157l1 0m3 15l1 0m-1 14l1 0m-3 2l1 0m0 65l1 0m-1 4l1 0m-1 18l1 0m-3 2l1 0m1 11l1 0m-3 16l1 0m1 13l1 0m-2 4l1 0m3-155l1 0m1 3l1 0m-2 3l1 0m-2 27l1 0m1-1l1 0m0 15l1 0m-5 13l1 0m2 9l1 0m1 18l1 0m-2 5l1 0m-4 21l1 0m2 15l1 0m-1 7l1 0m0 18l1 0m-3 4l1 0m5-171l1 0m0 5l1 0m-3 5l1 0m0 3l1 0m-2 35l1 0m-2 3l1 0m-1 3l1 0m2 1l1 0m-3 7l1 0m-4 2l1 0m1 3l1 0m0 2l1 0m-3 4l1 0m2 0l1 0m-2 6l1 0m1 11l1 0m-5 3l1 0m2 8l1 0m-2 6l1 0m1 20l1 0m-3 13l1 0m-1 4l1 0m0 19l1 0m5-162l1 0m-3 4l1 0m0 3l1 0m-1 6l1 0m0 10l1 0m-4 5l1 0m2 2l1 0m-1 20l1 0m-2 1l1 0m-3 6l1 0m0 3l1 0m2 0l1 0m-4 12l1 0m-1 4l1 0m-2 8l1 0m-2 12l1 0m3-1l1 0m-4 14l1 0m-1 5l1 0m3 1l1 0m-5 5l1 0m1 1l1 0m-1 3l1 0m-1 16l1 0m0 12l1 0m-5 2l1 0m4 8l1 0m-2 5l1 0m-4 4l1 0m6-176l1 0m-2 2l1 0m0 6l1 0m1 5l1 0m-5 29l1 0m-1 7l1 0m-1 25l1 0m2-1l1 0m-5 30l1 0m-1 4l1 0m2 2l1 0m2-1l1 0m-4 4l1 0m-2 15l1 0m2-1l1 0m-4 4l1 0m-1 2l1 0m3-113l1 0m0 3l1 0m2 0l1 0m-4 6l1 0m0 0l1 0m-2 2l1 0m1 5l1 0m-3 3l1 0m-1 13l1 0m1 0l1 0m-3 7l1 0m-1 5l1 0m2 0l1 0m-3 4l1 0m-2 8l1 0m-1 7l1 0m2 0l1 0m-4 5l1 0m-2 6l1 0m2 0l1 0m-3 13l1 0m-2 4l1 0m0 2l1 0m2 0l1 0m-4 4l1 0m0 14l1 0m0 0l1 0m-4 6l1 0m2-1l1 0m-1 13l1 0m-3 3l1 0m1 8l1 0m-1 12l1 0m-2 4l1 0m6-174l1 0m-2 8l1 0m-4 4l1 0m2 7l1 0m-2 12l1 0m0 1l1 0m-3 8l1 0m1 4l1 0m1 4l1 0m-4 5l1 0m-2 3l1 0m2 0l1 0m-4 3l1 0m-1 3l1 0m2 0l1 0m-3 3l1 0m-1 1l1 0m1 0l1 0m-4 7l1 0m2 7l1 0m-2 13l1 0m0 5l1 0m-3 5l1 0m1 0l1 0m-2 3l1 0m0 3l1 0m-2 23l1 0m-2 2l1 0m2-1l1 0m-4 4l1 0m-2 8l1 0m2 0l1 0m-2 3l1 0m-3 3l1 0m3 1l1 0m-5 0l1 0m0 5l1 0m-1 2l1 0m0 10l1 0m-4 3l1 0m3 3l1 0m4-169l1 0m-4 16l1 0m-2 5l1 0m4 9l1 0m-4 2l1 0m2 4l1 0m-5 6l1 0m2-1l1 0m-3 3l1 0m1 4l1 0m-3 6l1 0m1-1l1 0m-2 8l1 0m-2 1l1 0m-1 7l1 0m-1 10l1 0m2-1l1 0m-5 6l1 0m2 1l1 0m-3 4l1 0m1-1l1 0m-4 4l1 0m2 3l1 0m-3 7l1 0m2-1l1 0m-2 3l1 0m-1 14l1 0m-4 8l1 0m2 1l1 0m-4 5l1 0m2 0l1 0m-1 7l1 0m-1 17l1 0m-4 4l1 0m2 2l1 0m4-163l1 0m1 13l1 0m-4 1l1 0m1 3l1 0m-3 7l1 0m2-1l1 0m-4 3l1 0m-3 4l1 0m1-2l1 0m-3 5l1 0m3 3l1 0m-4 2l1 0m2 5l1 0m-3 2l1 0m-2 3l1 0m1 3l1 0m0 20l1 0m-1 8l1 0m-1 3l1 0m-4 5l1 0m4 3l1 0m-5 2l1 0m1 5l1 0m-1 5l1 0m-2 13l1 0m-2 3l1 0m0 2l1 0m0 6l1 0m-1 7l1 0m-5 2l1 0m0 3l1 0m1-2l1 0m-1 15l1 0m-3 5l1 0m1-1l1 0m2-145l1 0m2-1l1 0m-3 13l1 0m2 5l1 0m-1 7l1 0m-3 5l1 0m-3 3l1 0m2 5l1 0m0 7l1 0m-3 0l1 0m-3 10l1 0m2 5l1 0m-4 4l1 0m2 2l1 0m-3 16l1 0m2 3l1 0m-3 2l1 0m-1 3l1 0m-2 18l1 0m1 7l1 0m-1 6l1 0m0 7l1 0m-4 1l1 0m2 1l1 0m-5 9l1 0m1-1l1 0m-2 8l1 0m-2 3l1 0m2 1l1 0m5-160l1 0m-1 8l1 0m-4 10l1 0m0 4l1 0m-1 5l1 0m-3 3l1 0m2 0l1 0m0 7l1 0m-4 4l1 0m1 1l1 0m0 7l1 0m-1 6l1 0m-1 6l1 0m-3 6l1 0m-4 2l1 0m4 3l1 0m-1 13l1 0m-5 4l1 0m4 9l1 0m-2 6l1 0m-6 2l1 0m4 1l1 0m-3 8l1 0m1 0l1 0m-2 3l1 0m-1 9l1 0m-2 7l1 0m0 0l1 0m-2 3l1 0m1 2l1 0m-1 6l1 0m-3 19l1 0m-1 3l1 0m6-165l1 0m-4 2l1 0m1 10l1 0m-5 3l1 0m4 3l1 0m-2 2l1 0m0 4l1 0m-1 6l1 0m-1 5l1 0m-4 7l1 0m-1 3l1 0m-1 3l1 0m1 0l1 0m0 5l1 0m0 7l1 0m-4 2l1 0m-1 11l1 0m2-1l1 0m-4 3l1 0m-2 9l1 0m-1 5l1 0m1-1l1 0m-2 5l1 0m-2 8l1 0m2 0l1 0m-4 7l1 0m2 1l1 0m0 13l1 0m-5 2l1 0m1 2l1 0m-1 6l1 0m-1 4l1 0m1 13l1 0m-6 4l1 0m4 4l1 0m-3 3l1 0m1 1l1 0m-3 4l1 0m5-169l1 0m-4 3l1 0m4 1l1 0m-6 5l1 0m2-1l1 0m-2 5l1 0m-2 8l1 0m1 1l1 0m-2 7l1 0m2 1l1 0m-5 2l1 0m0 2l1 0m-2 7l1 0m1 0l1 0m-1 6l1 0m-2 5l1 0m-2 7l1 0m2 0l1 0m-4 3l1 0m-2 4l1 0m1-1l1 0m-2 4l1 0m-1 1l1 0m-1 4l1 0m1 3l1 0m-4 3l1 0m0 2l1 0m2-1l1 0m-4 4l1 0m-2 3l1 0m2 0l1 0m-4 2l1 0m-1 5l1 0m1 3l1 0m-2 2l1 0m1 1l1 0m-4 5l1 0m2 0l1 0m-3 7l1 0m0 5l1 0m0 7l1 0m-3 2l1 0m0 8l1 0m-2 2l1 0m0 3l1 0m1 3l1 0m-1 6l1 0m-3 3l1 0m-1 3l1 0m-2 3l1 0m2 4l1 0m-4 2l1 0m1 3l1 0m0 4l1 0m1-162l1 0m1 4l1 0m0 7l1 0m-3 2l1 0m-2 2l1 0m2 0l1 0m-3 3l1 0m-2 4l1 0m1 1l1 0m-5 1l1 0m1 4l1 0m1 7l1 0m0 4l1 0m-5 2l1 0m-1 5l1 0m0 1l1 0m-1 5l1 0m2 1l1 0m0 3l1 0m-5 4l1 0m-2 4l1 0m2-1l1 0m-2 7l1 0m0 0l1 0m-1 2l1 0m-2 3l1 0m-2 7l1 0m1-1l1 0m-3 7l1 0m0 3l1 0m1 4l1 0m-4 3l1 0m-1 2l1 0m1-1l1 0m-3 7l1 0m3 0l1 0m-5 6l1 0m1 0l1 0m-3 6l1 0m1 1l1 0m-3 4l1 0m1-1l1 0m0 8l1 0m-4 5l1 0m1 1l1 0m-3 2l1 0m3 3l1 0m-5 4l1 0m2 2l1 0m-1 12l1 0m3-171l1 0m0 6l1 0m-4 3l1 0m3 4l1 0m-1 6l1 0m-5 3l1 0m3 3l1 0m-3 6l1 0m2 5l1 0m-6 3l1 0m1 3l1 0m-2 4l1 0m-2 3l1 0m2-1l1 0m-3 4l1 0m-2 3l1 0m-1 7l1 0m1 0l1 0m0 6l1 0m-3 2l1 0m-1 3l1 0m2 0l1 0m-5 6l1 0m1-1l1 0m-3 7l1 0m0 7l1 0m1 0l1 0m-1 4l1 0m-5 3l1 0m1 4l1 0m2 1l1 0m-3 2l1 0m-3 3l1 0m3 0l1 0m-5 6l1 0m1-1l1 0m-2 3l1 0m-2 5l1 0m1 1l1 0m-3 4l1 0m2 0l1 0m-4 2l1 0m-1 4l1 0m3-1l1 0m-4 7l1 0m2 1l1 0m-3 6l1 0m-4 3l1 0m3 3l1 0m-1 4l1 0m-5 10l1 0m2 4l1 0m1 4l1 0m-6 3l1 0m7-168l1 0m2 2l1 0m-5 6l1 0m2 0l1 0m-2 7l1 0m0 7l1 0m-5 4l1 0m1-1l1 0m-2 5l1 0m-1 7l1 0m2 1l1 0m-4 7l1 0m0 2l1 0m-3 4l1 0m3 0l1 0m-7 2l1 0m2 4l1 0m0 12l1 0m1-1l1 0m-4 7l1 0m-2 2l1 0m3 3l1 0m-3 7l1 0m1 1l1 0m-4 5l1 0m-1 5l1 0m3 0l1 0m-4 13l1 0m1 1l1 0m-1 6l1 0m-3 2l1 0m0 9l1 0m-4 4l1 0m3 3l1 0m-2 2l1 0m0 3l1 0m-1 4l1 0m-1 8l1 0m-2 12l1 0m-4 3l1 0m8-174l1 0m0 8l1 0m-5 6l1 0m1 0l1 0m0 12l1 0m-1 7l1 0m-5 5l1 0m2 1l1 0m-1 6l1 0m-3 6l1 0m2 0l1 0m0 6l1 0m-2 5l1 0m-4 3l1 0m1 9l1 0m0 6l1 0m-4 3l1 0m2 4l1 0m-1 6l1 0m-2 3l1 0m1 2l1 0m-1 7l1 0m-5 4l1 0m2 0l1 0m-4 3l1 0m1 4l1 0m-3 3l1 0m2 3l1 0m-4 4l1 0m0 2l1 0m-2 6l1 0m0 12l1 0m2 2l1 0m-1 5l1 0m-4 3l1 0m1 3l1 0m-4 2l1 0m1 4l1 0m-4 1l1 0m9-158l1 0m-2 5l1 0m-4 5l1 0m1 3l1 0m1 2l1 0m-1 8l1 0m-4 5l1 0m1 0l1 0m-2 3l1 0m-3 8l1 0m3 14l1 0m-4 3l1 0m0 2l1 0m-1 6l1 0m-4 4l1 0m3 3l1 0m-4 2l1 0m3 3l1 0m-4 2l1 0m2 4l1 0m-2 6l1 0m-4 4l1 0m3 3l1 0m-6 2l1 0m3 21l1 0m0 8l1 0m-4 1l1 0m-1 5l1 0m1-1l1 0m0 5l1 0m-6 8l1 0m0 5l1 0m1 0l1 0m-3 6l1 0m2 1l1 0m-4 2l1 0m2 3l1 0m-3 1l1 0m6-167l1 0m0 6l1 0m-5 5l1 0m3 2l1 0m0 6l1 0m-2 6l1 0m-4 2l1 0m2 3l1 0m-5 2l1 0m1 5l1 0m2 3l1 0m-4 4l1 0m1 4l1 0m-4 9l1 0m2 4l1 0m-4 3l1 0m2 2l1 0m-4 2l1 0m2 4l1 0m-2 7l1 0m-2 6l1 0m1 6l1 0m-4 2l1 0m3 4l1 0m-3 4l1 0m-4 4l1 0m4 4l1 0m-5 2l1 0m2 4l1 0m-1 6l1 0m-2 4l1 0m-3 3l1 0m-1 10l1 0m3-1l1 0m-5 8l1 0m1-1l1 0m0 6l1 0m-1 8l1 0m0 5l1 0m-4 2l1 0m5-163l1 0m-3 2l1 0m3 6l1 0m-3 5l1 0m-4 2l1 0m3 5l1 0m0 4l1 0m-5 3l1 0m0 3l1 0m2 2l1 0m-4 1l1 0m2 5l1 0m-4 2l1 0m-2 3l1 0m2 5l1 0m-4 3l1 0m-2 7l1 0m0 2l1 0m1 0l1 0m-3 6l1 0m2 1l1 0m-1 5l1 0m-4 6l1 0m2 7l1 0m-3 1l1 0m2 3l1 0m-3 6l1 0m-5 9l1 0m2 4l1 0m1 2l1 0m-1 4l1 0m0 4l1 0m-1 9l1 0m-1 5l1 0m-3 3l1 0m0 8l1 0m-2 8l1 0m0 5l1 0m-2 5l1 0m-3 4l1 0m8-171l1 0m-2 4l1 0m-2 3l1 0m0 6l1 0m-3 4l1 0m0 5l1 0m-1 4l1 0m-3 2l1 0m3 2l1 0m-1 7l1 0m-5 3l1 0m4 1l1 0m-7 3l1 0m3 3l1 0m-4 4l1 0m0 11l1 0m2 0l1 0m-4 5l1 0m2 1l1 0m-3 2l1 0m-3 4l1 0m2-1l1 0m-3 3l1 0m-1 3l1 0m2-1l1 0m-4 4l1 0m-2 3l1 0m2 0l1 0m-4 7l1 0m2-2l1 0m-3 8l1 0m-1 4l1 0m2 6l1 0m-4 3l1 0m-1 5l1 0m2-1l1 0m-4 4l1 0m-2 2l1 0m2 0l1 0m-4 3l1 0m1 3l1 0m-3 4l1 0m0 2l1 0m2 6l1 0m-3 2l1 0m1 3l1 0m-3 6l1 0m0 15l1 0m-4 2l1 0m8-164l1 0m-4 2l1 0m1 2l1 0m-1 7l1 0m0 6l1 0m-6 3l1 0m4 3l1 0m-4 4l1 0m2 1l1 0m-4 7l1 0m3 0l1 0m-4 4l1 0m-2 8l1 0m3 0l1 0m-5 6l1 0m-1 3l1 0m2 4l1 0m-3 1l1 0m-1 5l1 0m1 0l1 0m-3 2l1 0m1 4l1 0m-3 2l1 0m1 3l1 0m-4 6l1 0m-1 6l1 0m2 0l1 0m-3 6l1 0m2-1l1 0m-6 8l1 0m3 1l1 0m-4 1l1 0m2 4l1 0m-3 5l1 0m2 2l1 0m-4 1l1 0m-2 3l1 0m2 1l1 0m-4 5l1 0m1 0l1 0m-2 6l1 0m1-1l1 0m-4 5l1 0m3 3l1 0m-3 2l1 0m0 3l1 0m-2 13l1 0m-2 8l1 0m1 4l1 0m-5 3l1 0m9-175l1 0m-5 3l1 0m2 2l1 0m0 7l1 0m-2 5l1 0m-3 6l1 0m2 1l1 0m-4 2l1 0m-2 4l1 0m2 0l1 0m-2 3l1 0m-2 2l1 0m-1 4l1 0m-2 3l1 0m2 1l1 0m-2 2l1 0m-2 3l1 0m1 2l1 0m-3 4l1 0m-1 5l1 0m1 0l1 0m-2 3l1 0m-3 4l1 0m1 5l1 0m1 1l1 0m-4 6l1 0m2-1l1 0m-4 7l1 0m1 1l1 0m-3 2l1 0m-1 3l1 0m1 1l1 0m-3 2l1 0m-1 3l1 0m0 3l1 0m-2 3l1 0m2-1l1 0m-5 4l1 0m-1 2l1 0m2 0l1 0m-3 7l1 0m2 0l1 0m-4 6l1 0m-2 6l1 0m2 0l1 0m-3 6l1 0m1-1l1 0m-3 7l1 0m2-1l1 0m-5 7l1 0m0-1l1 0m-3 3l1 0m0 3l1 0m-1 8l1 0m2 4l1 0m5-156l1 0m-2 6l1 0m1 6l1 0m-4 3l1 0m-1 1l1 0m2 9l1 0m-6 2l1 0m0 2l1 0m1 1l1 0m-5 2l1 0m3 2l1 0m-3 4l1 0m-1 3l1 0m2-1l1 0m-4 7l1 0m2 1l1 0m-3 5l1 0m-2 3l1 0m0 3l1 0m-3 5l1 0m3 0l1 0m-4 7l1 0m-1 3l1 0m-1 3l1 0m1 0l1 0m-1 7l1 0m0 6l1 0m-3 2l1 0m-3 3l1 0m3-1l1 0m-5 3l1 0m0 3l1 0m1 0l1 0m-1 5l1 0m-3 7l1 0m3 0l1 0m-6 3l1 0m0 3l1 0m-1 6l1 0m2 0l1 0m-3 7l1 0m1 0l1 0m-4 13l1 0m2-1l1 0m-2 6l1 0m-3 2l1 0m2 3l1 0m-5 3l1 0m3 9l1 0m4-168l1 0m-4 3l1 0m3 3l1 0m-4 2l1 0m2 9l1 0m-5 7l1 0m1-1l1 0m0 7l1 0m-3 2l1 0m-1 3l1 0m2-1l1 0m-3 3l1 0m1 7l1 0m-5 1l1 0m2 4l1 0m-3 2l1 0m-2 3l1 0m1 1l1 0m-3 2l1 0m2 2l1 0m-2 6l1 0m0 7l1 0m-4 6l1 0m2 0l1 0m-4 6l1 0m3 0l1 0m-5 6l1 0m2 0l1 0m-5 6l1 0m1 0l1 0m-2 3l1 0m3 3l1 0m-5 3l1 0m2 2l1 0m-4 3l1 0m1 9l1 0m2-1l1 0m-3 6l1 0m-6 5l1 0m1 3l1 0m2 0l1 0m0 7l1 0m-5 5l1 0m2 0l1 0m-3 3l1 0m1 3l1 0m-4 1l1 0m3 12l1 0m-5 1l1 0m1 4l1 0m-3 2l1 0m7-165l1 0m-3 2l1 0m1 4l1 0m-4 3l1 0m2 3l1 0m-5 2l1 0m5 4l1 0m-3 12l1 0m-3 6l1 0m2 1l1 0m-3 1l1 0m0 4l1 0m-4 3l1 0m4 4l1 0m-3 17l1 0m0 5l1 0m-4 4l1 0m1 9l1 0m-2 5l1 0m-2 4l1 0m1 3l1 0m0 5l1 0m-2 13l1 0m-2 3l1 0m0 3l1 0m1 6l1 0m-6 2l1 0m-1 4l1 0m2 1l1 0m0 4l1 0m-4 4l1 0m-1 2l1 0m-3 8l1 0m4 4l1 0m-4 3l1 0m6-162l1 0m0 6l1 0m-3 4l1 0m0 5l1 0m-5 2l1 0m3 3l1 0m2-2l1 0m-5 8l1 0m1 1l1 0m-3 1l1 0m0 3l1 0m-3 7l1 0m1 5l1 0m-1 7l1 0m0 5l1 0m-2 8l1 0m0 4l1 0m-4 4l1 0m1 9l1 0m-4 3l1 0m2 3l1 0m-3 2l1 0m0 5l1 0m-4 2l1 0m4 4l1 0m-5 2l1 0m3 3l1 0m-1 13l1 0m-3 2l1 0m1 3l1 0m-2 5l1 0m1 5l1 0m-5 8l1 0m1 0l1 0m-2 6l1 0m2 0l1 0m-4 2l1 0m1 2l1 0m-3 5l1 0m0 2l1 0m0 7l1 0m-4 3l1 0m7-164l1 0m-4 6l1 0m-1 7l1 0m3 1l1 0m-5 8l1 0m1 3l1 0m1 6l1 0m-3 6l1 0m0 6l1 0m-3 4l1 0m2 4l1 0m-1 10l1 0m-6 8l1 0m3 4l1 0m0 5l1 0m-5 3l1 0m5 5l1 0m-8 8l1 0m3 2l1 0m0 8l1 0m-3 9l1 0m1 2l1 0m-5 9l1 0m2 2l1 0m-4 7l1 0m2 0l1 0m-3 3l1 0m0 3l1 0m-3 3l1 0m1 7l1 0m-4 6l1 0m0 2l1 0m3 0l1 0m-5 3l1 0m1 2l1 0m7-165l1 0m-3 6l1 0m-4 3l1 0m2 2l1 0m-4 3l1 0m3 4l1 0m-1 5l1 0m-3 3l1 0m1 5l1 0m-4 10l1 0m2 0l1 0m-5 3l1 0m0 4l1 0m-2 3l1 0m0 2l1 0m1 0l1 0m-3 5l1 0m1 0l1 0m-2 4l1 0m1 4l1 0m-4 5l1 0m2 0l1 0m-4 3l1 0m-1 4l1 0m2 6l1 0m-5 2l1 0m0 3l1 0m1 0l1 0m-4 10l1 0m2 2l1 0m-3 6l1 0m0 10l1 0m0 1l1 0m0 7l1 0m-1 5l1 0m-3 4l1 0m-2 3l1 0m2 0l1 0m0 5l1 0m-1 7l1 0m-3 6l1 0m-1 13l1 0m6-167l1 0m-3 12l1 0m-3 2l1 0m2 3l1 0m-4 10l1 0m3 3l1 0m-2 5l1 0m0 6l1 0m-4 3l1 0m-2 3l1 0m1 0l1 0m-2 6l1 0m1 0l1 0m-3 4l1 0m-1 3l1 0m3 1l1 0m-5 4l1 0m2 1l1 0m-4 6l1 0m-2 3l1 0m0 2l1 0m1-1l1 0m-1 4l1 0m-3 3l1 0m1 0l1 0m-3 7l1 0m-1 5l1 0m2-1l1 0m-3 3l1 0m-2 4l1 0m2-1l1 0m-5 4l1 0m0 3l1 0m3 1l1 0m-6 1l1 0m0 4l1 0m2-1l1 0m-2 6l1 0m-4 4l1 0m3 10l1 0m-5 1l1 0m2 5l1 0m0 5l1 0m-3 4l1 0m0 2l1 0m-4 4l1 0m2 3l1 0m-1 5l1 0m-1 7l1 0m5-174l1 0m-1 7l1 0m-5 4l1 0m3 1l1 0m-2 5l1 0m0 9l1 0m-3 1l1 0m-2 15l1 0m1-2l1 0m-3 10l1 0m2 0l1 0m-4 6l1 0m2 0l1 0m-3 3l1 0m-2 3l1 0m2 0l1 0m0 4l1 0m-5 7l1 0m1-2l1 0m-4 8l1 0m1 0l1 0m-4 4l1 0m2 1l1 0m-2 7l1 0m2 1l1 0m-5 2l1 0m0 3l1 0m3 0l1 0m-4 3l1 0m-2 3l1 0m2-1l1 0m-4 6l1 0m2 1l1 0m-5 2l1 0m0 3l1 0m3 0l1 0m-6 8l1 0m-1 5l1 0m1-1l1 0m-2 7l1 0m3-1l1 0m-5 3l1 0m-1 4l1 0m2-2l1 0m-4 6l1 0m-2 3l1 0m2 0l1 0m-3 5l1 0m1 0l1 0m0 6l1 0m-1 14l1 0m0 4l1 0m-4 3l1 0m7-173l1 0m-3 6l1 0m-3 1l1 0m2 4l1 0m-4 2l1 0m0 3l1 0m2-1l1 0m-5 8l1 0m1 0l1 0m-1 4l1 0m-1 9l1 0m-4 3l1 0m0 1l1 0m1-1l1 0m-3 8l1 0m0 0l1 0m-2 6l1 0m2-1l1 0m-3 6l1 0m2 0l1 0m-5 4l1 0m-1 3l1 0m1 0l1 0m-3 6l1 0m2-1l1 0m-4 4l1 0m0 3l1 0m3-1l1 0m-5 13l1 0m2 0l1 0m-5 6l1 0m2 1l1 0m-3 5l1 0m2 0l1 0m-6 6l1 0m3 0l1 0m-4 3l1 0m0 3l1 0m1 1l1 0m-4 6l1 0m2 0l1 0m-4 5l1 0m0 6l1 0m-2 5l1 0m2 7l1 0m-3 3l1 0m-2 3l1 0m2 6l1 0m-1 5l1 0m-3 3l1 0m2 7l1 0m-5 0l1 0m3-169l1 0m3 9l1 0m-1 6l1 0m-5 3l1 0m3 9l1 0m0 4l1 0m-5 7l1 0m0 6l1 0m-1 4l1 0m-1 4l1 0m1 0l1 0m-4 4l1 0m-2 1l1 0m1 0l1 0m-3 3l1 0m0 3l1 0m2 0l1 0m-3 3l1 0m1 3l1 0m-3 5l1 0m2-2l1 0m-5 8l1 0m-1 6l1 0m2-1l1 0m-3 7l1 0m1 1l1 0m-3 6l1 0m2-1l1 0m-6 4l1 0m0 2l1 0m2-1l1 0m-4 4l1 0m2 5l1 0m-4 4l1 0m2 1l1 0m0 5l1 0m-2 6l1 0m-5 2l1 0m3 3l1 0m-4 4l1 0m1 7l1 0m-3 3l1 0m-1 3l1 0m2 2l1 0m0 8l1 0m4-159l1 0m-1 5l1 0m-1 6l1 0m0 9l1 0m-2 4l1 0m-4 3l1 0m2 4l1 0m-1 4l1 0m0 7l1 0m-4 7l1 0m-3 5l1 0m1 1l1 0m-3 2l1 0m2 2l1 0m-3 8l1 0m2 0l1 0m-1 6l1 0m-2 6l1 0m-4 6l1 0m0 2l1 0m1 4l1 0m2 5l1 0m-5 3l1 0m-2 3l1 0m3 1l1 0m-5 2l1 0m2 4l1 0m-5 2l1 0m3 3l1 0m-1 6l1 0m-2 7l1 0m-3 5l1 0m2 1l1 0m-4 2l1 0m0 3l1 0m-3 3l1 0m2 3l1 0m-2 8l1 0m-1 6l1 0m-1 9l1 0m6-167l1 0m-3 3l1 0m-3 1l1 0m2 1l1 0m-3 6l1 0m1 1l1 0m-1 5l1 0m-3 2l1 0m1 2l1 0m-3 8l1 0m1-1l1 0m-3 4l1 0m1 4l1 0m1 6l1 0m-5 2l1 0m0 2l1 0m2 0l1 0m-2 6l1 0m-3 2l1 0m1 5l1 0m-1 5l1 0m-4 4l1 0m3 4l1 0m-2 3l1 0m-4 3l1 0m3 4l1 0m-3 19l1 0m-4 3l1 0m3 10l1 0m-4 1l1 0m1 4l1 0m0 7l1 0m-3 3l1 0m1 1l1 0m-1 7l1 0m-4 3l1 0m2 3l1 0m-1 6l1 0m-3 2l1 0m1 5l1 0m-1 5l1 0m-2 4l1 0m6-157l1 0m-4 5l1 0m-1 2l1 0m-1 12l1 0m2 0l1 0m-1 6l1 0m-3 3l1 0m1 1l1 0m-1 6l1 0m-5 3l1 0m2 5l1 0m-1 3l1 0m-2 9l1 0m0 6l1 0m0 5l1 0m-2 5l1 0m0 7l1 0m-3 6l1 0m-4 3l1 0m3 4l1 0m-1 6l1 0m0 6l1 0m0 6l1 0m-3 5l1 0m-3 3l1 0m-1 4l1 0m2 1l1 0m-2 5l1 0m-3 5l1 0m3 0l1 0m-6 6l1 0m2 1l1 0m-3 5l1 0m2 0l1 0m-4 4l1 0m0 3l1 0m6-161l1 0m-3 3l1 0m-2 7l1 0m1 3l1 0m-2 2l1 0m-2 4l1 0m-1 2l1 0m4 3l1 0m-6 4l1 0m1 2l1 0m-2 3l1 0m1 4l1 0m-3 2l1 0m1 4l1 0m-1 5l1 0m-4 3l1 0m2 4l1 0m-5 2l1 0m2 4l1 0m-2 6l1 0m1 4l1 0m-4 4l1 0m3 2l1 0m-3 8l1 0m0 6l1 0m-3 3l1 0m1 3l1 0m-1 4l1 0m0 7l1 0m-2 7l1 0m-2 6l1 0m-1 6l1 0m-4 2l1 0m0 4l1 0m2-1l1 0m0 7l1 0m-5 3l1 0m0 2l1 0m-3 3l1 0m4 2l1 0m-6 10l1 0m4 3l1 0m2-162l1 0m-3 10l1 0m3 4l1 0m-4 5l1 0m2 0l1 0m-3 7l1 0m-1 11l1 0m-3 12l1 0m2 1l1 0m-4 2l1 0m0 4l1 0m1 1l1 0m-3 1l1 0m1 4l1 0m-1 5l1 0m-4 4l1 0m0 2l1 0m2-1l1 0m-3 3l1 0m-3 4l1 0m2 1l1 0m-3 6l1 0m2-1l1 0m-1 6l1 0m-1 8l1 0m-4 2l1 0m-1 3l1 0m2-1l1 0m-4 5l1 0m2 2l1 0m-5 6l1 0m3 0l1 0m-5 3l1 0m0 1l1 0m2 1l1 0m-4 2l1 0m2 3l1 0m-1 6l1 0m-5 4l1 0m0 4l1 0m1 0l1 0m-1 6l1 0m-1 3l1 0m-1 9l1 0m-1 7l1 0m6-166l1 0m-6 1l1 0m1 6l1 0m0 8l1 0m-4 6l1 0m3 1l1 0m-2 6l1 0m-3 6l1 0m2 0l1 0m-3 3l1 0m1 3l1 0m-4 4l1 0m-1 1l1 0m2 2l1 0m-4 4l1 0m2 0l1 0m-3 7l1 0m2 0l1 0m-5 5l1 0m0 7l1 0m2-1l1 0m-4 3l1 0m-2 3l1 0m1-1l1 0m-3 8l1 0m2 0l1 0m-5 6l1 0m2-1l1 0m-3 6l1 0m0 1l1 0m2 5l1 0m-6 7l1 0m2 0l1 0m-3 5l1 0m2 0l1 0m-5 7l1 0m2 1l1 0m-4 4l1 0m3 2l1 0m-2 5l1 0m0 4l1 0m-3 3l1 0m-1 5l1 0m1 0l1 0m-1 5l1 0m0 4l1 0m-5 12l1 0m1 3l1 0m-4 3l1 0m2 3l1 0m4-167l1 0m-3 4l1 0m2 3l1 0m-3 8l1 0m-2 3l1 0m1 4l1 0m-1 6l1 0m-2 3l1 0m1-1l1 0m-2 7l1 0m-3 5l1 0m1 0l1 0m0 6l1 0m-4 7l1 0m-1 5l1 0m0 3l1 0m1 3l1 0m-4 4l1 0m2 3l1 0m-4 5l1 0m1 0l1 0m-5 2l1 0m1 4l1 0m2-1l1 0m-4 5l1 0m1 7l1 0m-3 2l1 0m2 1l1 0m-4 5l1 0m2 0l1 0m-3 7l1 0m1 0l1 0m-3 4l1 0m2 1l1 0m-3 2l1 0m-2 3l1 0m2 0l1 0m-2 7l1 0m-4 2l1 0m3 3l1 0m-2 8l1 0m-3 2l1 0m1 3l1 0m-4 2l1 0m2 2l1 0m-4 4l1 0m3 4l1 0m-2 6l1 0m5-169l1 0m-5 1l1 0m2 3l1 0m0 7l1 0m-3 5l1 0m0 6l1 0m-3 6l1 0m3 1l1 0m-4 6l1 0m1 0l1 0m-3 2l1 0m-2 2l1 0m0 8l1 0m-2 3l1 0m-1 3l1 0m0 0l1 0m-1 3l1 0m-2 1l1 0m1 1l1 0m-4 7l1 0m2-1l1 0m-4 3l1 0m0 4l1 0m-1 3l1 0m-1 2l1 0m1-2l1 0m-4 6l1 0m-1 2l1 0m0 3l1 0m-1 3l1 0m-1 6l1 0m2 0l1 0m-2 5l1 0m-1 7l1 0m-2 5l1 0m1-1l1 0m-5 7l1 0m2 0l1 0m-3 4l1 0m-1 3l1 0m1 1l1 0m-4 5l1 0m1 0l1 0m-3 4l1 0m0 2l1 0m2 0l1 0m-3 3l1 0m0 3l1 0m-1 6l1 0m1 5l1 0m-2 8l1 0m-1 5l1 0m-2 7l1 0m2-168l1 0m1 4l1 0m-1 5l1 0m-3 3l1 0m-1 4l1 0m2 0l1 0m-3 3l1 0m-2 2l1 0m2 1l1 0m-4 3l1 0m2 2l1 0m-4 18l1 0m2 0l1 0m-3 4l1 0m-2 3l1 0m1 1l1 0m-3 2l1 0m-2 2l1 0m2 1l1 0m-3 6l1 0m-1 2l1 0m0 3l1 0m1 2l1 0m-3 5l1 0m2 1l1 0m-5 1l1 0m-2 3l1 0m2-1l1 0m-3 8l1 0m3 1l1 0m-5 3l1 0m0 3l1 0m1-1l1 0m-5 5l1 0m0 3l1 0m2 3l1 0m-1 7l1 0m-3 8l1 0m-3 1l1 0m4 2l1 0m-2 8l1 0m-3 5l1 0m-1 3l1 0m-1 4l1 0m-4 3l1 0m1 5l1 0m3 4l1 0m-3 5l1 0m0 6l1 0m4-168l1 0m0 6l1 0m-3 4l1 0m0 1l1 0m0 7l1 0m-2 5l1 0m-2 6l1 0m1 7l1 0m-4 5l1 0m-2 3l1 0m2 2l1 0m-6 4l1 0m5 2l1 0m-3 3l1 0m1 5l1 0m-4 2l1 0m-1 3l1 0m1 6l1 0m-2 9l1 0m-3 6l1 0m1 6l1 0m-2 4l1 0m1 0l1 0m-3 2l1 0m-1 4l1 0m1 1l1 0m-2 5l1 0m0 5l1 0m0 7l1 0m0 5l1 0m-6 2l1 0m3 4l1 0m-5 2l1 0m1 4l1 0m-2 9l1 0m2 2l1 0m-3 7l1 0m-1 3l1 0m0 2l1 0m5-155l1 0m-3 2l1 0m2 3l1 0m-6 2l1 0m1 4l1 0m-2 2l1 0m0 3l1 0m2 1l1 0m-2 7l1 0m-3 5l1 0m1 6l1 0m-2 7l1 0m-2 4l1 0m-1 4l1 0m-1 3l1 0m-2 3l1 0m1 2l1 0m-3 8l1 0m1 5l1 0m-3 2l1 0m2 5l1 0m0 4l1 0m-2 11l1 0m-5 5l1 0m3 4l1 0m0 5l1 0m-2 6l1 0m-3 3l1 0m-2 8l1 0m3-1l1 0m-3 4l1 0m-3 3l1 0m1 2l1 0m-5 1l1 0m1 3l1 0m1 0l1 0m-1 7l1 0m-3 3l1 0m-1 3l1 0m1-1l1 0m-1 6l1 0m-2 4l1 0m6-163l1 0m-3 3l1 0m-2 3l1 0m3 0l1 0m-2 6l1 0m-4 12l1 0m2-1l1 0m1 8l1 0m-4 5l1 0m1 6l1 0m-3 10l1 0m1 2l1 0m-3 4l1 0m1 1l1 0m-1 10l1 0m-2 10l1 0m-5 2l1 0m3 5l1 0m-1 10l1 0m-1 6l1 0m-1 6l1 0m0 7l1 0m-2 4l1 0m-1 8l1 0m-4 5l1 0m2-1l1 0m-4 5l1 0m4 5l1 0m-6 10l1 0m1 0l1 0m-3 3l1 0m2 2l1 0m1 5l1 0m-5 5l1 0m7-159l1 0m-5 4l1 0m0 3l1 0m1 1l1 0m-2 3l1 0m-1 2l1 0m0 6l1 0m-2 1l1 0m2 5l1 0m-1 5l1 0m-3 7l1 0m0 6l1 0m-4 2l1 0m3 4l1 0m-6 5l1 0m2 1l1 0m1 12l1 0m-3 5l1 0m-4 4l1 0m0 9l1 0m2 0l1 0m-1 7l1 0m-4 4l1 0m1-1l1 0m0 8l1 0m-3 4l1 0m0 3l1 0m0 5l1 0m-3 5l1 0m-1-2l1 0m1 8l1 0m-3 3l1 0m0 3l1 0m-1 8l1 0m-1 3l1 0m-4 5l1 0m8-158l1 0m-2 3l1 0m0 1l1 0m-1 8l1 0m-1 5l1 0m-1 5l1 0m-1 8l1 0m-1 5l1 0m-1 7l1 0m0 5l1 0m-2 9l1 0m-4 4l1 0m2 0l1 0m-4 2l1 0m-1 4l1 0m2-1l1 0m-4 4l1 0m0 3l1 0m-1 6l1 0m1 0l1 0m-4 5l1 0m1-3l1 0m-3 6l1 0m-1 3l1 0m2 1l1 0m-5 1l1 0m1 5l1 0m1 2l1 0m-3 3l1 0m2 0l1 0m-5 7l1 0m1-1l1 0m-3 7l1 0m1 0l1 0m-2 2l1 0m-2 5l1 0m2 0l1 0m-2 5l1 0m-3 3l1 0m-1 2l1 0m2 6l1 0m-1 8l1 0m-4 2l1 0m2 3l1 0m1 6l1 0m-4 5l1 0m-3 3l1 0m3 4l1 0m3-166l1 0m-3 1l1 0m1 5l1 0m0 6l1 0m-4 2l1 0m1 2l1 0m-4 7l1 0m2 0l1 0m-5 4l1 0m1 2l1 0m2 0l1 0m-4 5l1 0m2 0l1 0m-5 8l1 0m2 0l1 0m-3 4l1 0m1-1l1 0m-4 9l1 0m0 6l1 0m1 0l1 0m-3 3l1 0m-2 2l1 0m2-1l1 0m-3 7l1 0m-1 3l1 0m-1 4l1 0m-2 11l1 0m2-1l1 0m0 6l1 0m-5 7l1 0m1-1l1 0m-3 7l1 0m2 0l1 0m-3 3l1 0m-1 3l1 0m2 0l1 0m-3 2l1 0m-2 4l1 0m-1 7l1 0m2 0l1 0m-3 3l1 0m-2 2l1 0m-1 3l1 0m-1 9l1 0m1-1l1 0m-3 3l1 0m2 2l1 0m-1 8l1 0m-4 4l1 0m2 2l1 0m-2 4l1 0m5-170l1 0m-3 3l1 0m0 9l1 0m-3 4l1 0m1 1l1 0m-4 4l1 0m0 4l1 0m1 1l1 0m-3 2l1 0m3 1l1 0m-3 8l1 0m1 6l1 0m-4 4l1 0m-2 8l1 0m-1 3l1 0m-3 3l1 0m2-2l1 0m1 8l1 0m-4 5l1 0m2 0l1 0m-5 6l1 0m3 2l1 0m-5 0l1 0m0 4l1 0m2 0l1 0m-3 6l1 0m1-1l1 0m-4 12l1 0m2 3l1 0m-4 4l1 0m-1 6l1 0m3 1l1 0m-5 5l1 0m2 0l1 0m-4 6l1 0m-2 3l1 0m-1 3l1 0m2-1l1 0m-3 8l1 0m2 0l1 0m-3 3l1 0m-2 3l1 0m3 0l1 0m-3 3l1 0m-3 3l1 0m2 12l1 0m-4 4l1 0m1 3l1 0m1 5l1 0m-5 3l1 0m6-173l1 0m-4 3l1 0m3 2l1 0m-2 7l1 0m-1 6l1 0m1 12l1 0m-4 1l1 0m-2 5l1 0m-1 3l1 0m3 8l1 0m-4 6l1 0m-3 7l1 0m2-1l1 0m-3 6l1 0m-1 6l1 0m0 0l1 0m-1 6l1 0m1 0l1 0m-1 6l1 0m-4 7l1 0m0 3l1 0m-1 3l1 0m-2 6l1 0m0 0l1 0m2 5l1 0m-4 7l1 0m1 0l1 0m-2 10l1 0m-4 5l1 0m2 2l1 0m-2 7l1 0m1 0l1 0m-3 3l1 0m-2 2l1 0m-1 7l1 0m-1 8l1 0m1 3l1 0m0 6l1 0m5-170l1 0m-4 4l1 0m1 4l1 0m0 7l1 0m-1 12l1 0m-2 2l1 0m-5 5l1 0m5 3l1 0m-5 7l1 0m0 6l1 0m-1 2l1 0m0 4l1 0m-3 3l1 0m-1 3l1 0m1 0l1 0m-3 9l1 0m1 2l1 0m-4 7l1 0m0 3l1 0m1 4l1 0m-4 4l1 0m0-2l1 0m-2 14l1 0m0 3l1 0m1 3l1 0m-3 6l1 0m1 1l1 0m-2 7l1 0m-2 2l1 0m1 1l1 0m-2 8l1 0m0 7l1 0m-1 4l1 0m0 8l1 0m0 4l1 0m-5 3l1 0m2 3l1 0m-1 7l1 0m4-164l1 0m-3 4l1 0m1 2l1 0m-3 12l1 0m-3 4l1 0m1 3l1 0m1 0l1 0m-2 3l1 0m-2 3l1 0m1-1l1 0m-2 4l1 0m-3 2l1 0m-1 2l1 0m0 3l1 0m-2 11l1 0m1 3l1 0m-3 2l1 0m3 3l1 0m-3 8l1 0m-2 1l1 0m0 3l1 0m-2 11l1 0m2 3l1 0m-5 3l1 0m2 1l1 0m-4 3l1 0m2 5l1 0m-2 4l1 0m-1 6l1 0m-3 3l1 0m1 4l1 0m1 6l1 0m-4 3l1 0m1 3l1 0m0 6l1 0m-3 5l1 0m-3 4l1 0m3 4l1 0m-5 2l1 0m2 2l1 0m-5 3l1 0m0 4l1 0m2 1l1 0m-3 1l1 0m-2 6l1 0m6-167l1 0m-3 3l1 0m-1 3l1 0m1 0l1 0m-3 4l1 0m-1 3l1 0m2-1l1 0m0 5l1 0m0 6l1 0m-5 7l1 0m2 1l1 0m-3 5l1 0m-3 3l1 0m2 2l1 0m-3 11l1 0m2 9l1 0m-3 6l1 0m-1 2l1 0m-3 7l1 0m4 3l1 0m-5 3l1 0m2 1l1 0m-2 8l1 0m0 6l1 0m-2 12l1 0m-3 2l1 0m2 3l1 0m-4 2l1 0m1 5l1 0m-3 2l1 0m2 5l1 0m-4 10l1 0m0 7l1 0m-1 4l1 0m-2 1l1 0m2-1l1 0m-5 4l1 0m2 9l1 0m6-159l1 0m-6 2l1 0m0 4l1 0m2-2l1 0m-2 6l1 0m1 6l1 0m-2 7l1 0m-4 6l1 0m1-1l1 0m-3 3l1 0m0 5l1 0m3-2l1 0m-4 5l1 0m-3 3l1 0m2 0l1 0m-5 4l1 0m4 2l1 0m-3 5l1 0m-2 4l1 0m0 9l1 0m0 5l1 0m-3 3l1 0m1 4l1 0m-1 6l1 0m-2 5l1 0m-4 3l1 0m2 3l1 0m-5 4l1 0m4 3l1 0m-1 5l1 0m-3 4l1 0m1 2l1 0m-1 7l1 0m-3 4l1 0m-2 2l1 0m2 4l1 0m-4 4l1 0m-1 3l1 0m0 3l1 0m-1 4l1 0m-1 3l1 0m1 1l1 0m-2 4l1 0m0 5l1 0m0 6l1 0m3-169l1 0m0 11l1 0m-2 7l1 0m-4 3l1 0m3 4l1 0m-4 4l1 0m2 1l1 0m-3 8l1 0m-3 2l1 0m1 2l1 0m-3 3l1 0m-1 3l1 0m2-1l1 0m-2 7l1 0m-2 6l1 0m2 0l1 0m-2 6l1 0m-3 4l1 0m-2 3l1 0m3-2l1 0m-5 8l1 0m1-1l1 0m-2 6l1 0m2-1l1 0m-5 8l1 0m2 1l1 0m0 5l1 0m-2 5l1 0m-4 4l1 0m2 10l1 0m-4 10l1 0m1 0l1 0m-3 7l1 0m2-2l1 0m-6 6l1 0m2 1l1 0m-1 3l1 0m0 4l1 0m0 4l1 0m-1 9l1 0m1 5l1 0m-6 2l1 0m1 2l1 0m6-164l1 0m-6 3l1 0m2 1l1 0m-3 3l1 0m2 8l1 0m0 6l1 0m0 8l1 0m-4 4l1 0m1 2l1 0m-6 8l1 0m1 4l1 0m2-1l1 0m-4 7l1 0m2-1l1 0m-4 6l1 0m2 0l1 0m-4 7l1 0m2 0l1 0m-3 2l1 0m-3 3l1 0m3 0l1 0m-3 3l1 0m-2 4l1 0m-2 2l1 0m0 4l1 0m1 0l1 0m-3 5l1 0m2 0l1 0m-3 6l1 0m1-1l1 0m-5 4l1 0m0 3l1 0m2 1l1 0m-5 5l1 0m-3 3l1 0m2 4l1 0m2 0l1 0m-6 3l1 0m1 2l1 0m2 0l1 0m-4 7l1 0m2 1l1 0m-5 11l1 0m1 0l1 0m-1 9l1 0m1 2l1 0m-3 6l1 0m1 7l1 0m1-163l1 0m0 4l1 0m1 3l1 0m-4 14l1 0m2 0l1 0m-4 5l1 0m2 0l1 0m-4 5l1 0m1 1l1 0m-2 14l1 0m-2 2l1 0m3 3l1 0m-5 5l1 0m2 0l1 0m-5 4l1 0m0 2l1 0m2-1l1 0m-4 8l1 0m2-1l1 0m-3 4l1 0m-2 2l1 0m-2 3l1 0m0 4l1 0m2 1l1 0m-3 2l1 0m-1 3l1 0m2 2l1 0m-4 2l1 0m-1 2l1 0m2 0l1 0m-5 6l1 0m1 0l1 0m-2 3l1 0m-2 2l1 0m1 1l1 0m-3 6l1 0m2 0l1 0m-4 6l1 0m2-1l1 0m-4 3l1 0m0 4l1 0m1 1l1 0m-3 2l1 0m2 0l1 0m-6 4l1 0m0 5l1 0m2 1l1 0m-1 6l1 0m-4 2l1 0m-2 6l1 0m2 2l1 0m0 5l1 0m-2 9l1 0m1 7l1 0m-5 2l1 0m8-175l1 0m-6 3l1 0m2 3l1 0m0 5l1 0m-2 5l1 0m0 20l1 0m-3 5l1 0m2 0l1 0m-4 3l1 0m1 5l1 0m-3 4l1 0m1 0l1 0m-3 7l1 0m2 0l1 0m-4 6l1 0m1-1l1 0m-4 6l1 0m-2 2l1 0m1 4l1 0m1 0l1 0m-3 2l1 0m-1 4l1 0m-1 6l1 0m2 1l1 0m-2 2l1 0m-4 3l1 0m1 1l1 0m-2 2l1 0m-2 4l1 0m0 5l1 0m-2 6l1 0m2 0l1 0m-3 3l1 0m-1 5l1 0m1 0l1 0m-3 5l1 0m2-1l1 0m-5 7l1 0m-1 2l1 0m-1 3l1 0m0 0l1 0m1 7l1 0m-4 3l1 0m1 1l1 0m-1 7l1 0m-2 4l1 0m0 3l1 0m1 7l1 0m3-171l1 0m-3 3l1 0m2 3l1 0m-4 3l1 0m1 3l1 0m-4 3l1 0m4 4l1 0m-2 5l1 0m-6 2l1 0m1 4l1 0m1 1l1 0m1 5l1 0m-4 4l1 0m-2 2l1 0m2-1l1 0m-3 6l1 0m2 0l1 0m-2 8l1 0m-4 11l1 0m2 0l1 0m-3 3l1 0m-1 3l1 0m2 0l1 0m-3 5l1 0m-4 5l1 0m0 2l1 0m1 2l1 0m-6 0l1 0m3 4l1 0m-3 4l1 0m0 2l1 0m-1 5l1 0m2 0l1 0m-4 7l1 0m1 0l1 0m-2 6l1 0m1-1l1 0m-4 4l1 0m-1 9l1 0m2 0l1 0m-1 7l1 0m-3 3l1 0m0 15l1 0m0 5l1 0m-5 3l1 0m2 2l1 0m1 10l1 0m2-166l1 0m-4 3l1 0m4 3l1 0m-5 3l1 0m2 4l1 0m1 6l1 0m-3 5l1 0m-1 6l1 0m-3 7l1 0m2 0l1 0m-4 3l1 0m-2 2l1 0m2 1l1 0m-4 2l1 0m-1 9l1 0m3-1l1 0m-4 8l1 0m2 0l1 0m-4 6l1 0m1 0l1 0m-3 3l1 0m1 3l1 0m-1 6l1 0m-3 3l1 0m-1 3l1 0m-1 2l1 0m1 4l1 0m-5 3l1 0m0 5l1 0m0 3l1 0m2 1l1 0m-4 2l1 0m-2 4l1 0m1 6l1 0m0 11l1 0m-3 4l1 0m0 3l1 0m-4 2l1 0m3 2l1 0m-3 8l1 0m1 1l1 0m-1 2l1 0m-3 4l1 0m0 4l1 0m6-157l1 0m-3 3l1 0m-2 2l1 0m-1 2l1 0m1 4l1 0m-2 3l1 0m2 2l1 0m-3 4l1 0m-3 3l1 0m2 6l1 0m-3 7l1 0m1 4l1 0m-4 8l1 0m1 0l1 0m-4 9l1 0m4 4l1 0m-2 10l1 0m-3 4l1 0m1 9l1 0m-4 2l1 0m2 5l1 0m-4 0l1 0m0 8l1 0m0 10l1 0m-1 6l1 0m-4 2l1 0m0 5l1 0m1 12l1 0m0 3l1 0m-4 7l1 0m1 0l1 0m0 11l1 0m-4 8l1 0m3 1l1 0m-5 1l1 0m3-156l1 0m3 0l1 0m-4 5l1 0m1 0l1 0m-1 7l1 0m-3 3l1 0m1 4l1 0m0 4l1 0m-1 8l1 0m-3 4l1 0m2 1l1 0m-6 3l1 0m1 3l1 0m-2 23l1 0m1 1l1 0m-2 5l1 0m-2 5l1 0m2 0l1 0m-1 8l1 0m-4 3l1 0m1 3l1 0m-2 5l1 0m1 13l1 0m-1 5l1 0m-1 8l1 0m-4 2l1 0m2 15l1 0m-3 7l1 0m-2 5l1 0m2 1l1 0m-3 3l1 0m6-166l1 0m-3 11l1 0m2 5l1 0m-4 4l1 0m2 1l1 0m1 5l1 0m-6 6l1 0m1 0l1 0m-3 15l1 0m1 2l1 0m0 13l1 0m-5 3l1 0m3 9l1 0m-1 6l1 0m-5 3l1 0m3 2l1 0m-3 4l1 0m1 3l1 0m-1 7l1 0m-5 2l1 0m0 4l1 0m1 0l1 0m-3 8l1 0m1 3l1 0m-4 5l1 0m3 0l1 0m-4 3l1 0m-2 5l1 0m3 2l1 0m-3 1l1 0m-1 1l1 0m1 13l1 0m-4 2l1 0m2 4l1 0m-2 3l1 0m-1 4l1 0m0 4l1 0m2-157l1 0m0 2l1 0m1 13l1 0m-5 3l1 0m-2 12l1 0m1 9l1 0m2 1l1 0m-5 6l1 0m2 1l1 0m-2 3l1 0m-3 1l1 0m-1 6l1 0m2 0l1 0m-5 5l1 0m1-1l1 0m-2 8l1 0m1 0l1 0m-3 6l1 0m2 0l1 0m-3 3l1 0m-2 4l1 0m1 0l1 0m-3 4l1 0m1 0l1 0m-1 6l1 0m1 7l1 0m-5 7l1 0m0 0l1 0m-2 3l1 0m2 14l1 0m-4 9l1 0m2 2l1 0m-5 2l1 0m2 7l1 0m0 4l1 0m-5 2l1 0m3 2l1 0m0 7l1 0m2-166l1 0m-3 4l1 0m2 2l1 0m-1 12l1 0m-4 7l1 0m3 0l1 0m-6 2l1 0m-1 9l1 0m2 0l1 0m-2 9l1 0m-2 3l1 0m2 0l1 0m-3 2l1 0m0 3l1 0m-2 7l1 0m2 1l1 0m-3 3l1 0m-2 2l1 0m-1 7l1 0m1 1l1 0m-2 1l1 0m-3 3l1 0m2 1l1 0m-4 1l1 0m-1 5l1 0m2 0l1 0m-5 2l1 0m0 3l1 0m2 0l1 0m-3 4l1 0m-1 2l1 0m1-1l1 0m-4 5l1 0m-1 3l1 0m1 4l1 0m-3 7l1 0m2-1l1 0m-4 3l1 0m1 5l1 0m-3 4l1 0m2 0l1 0m-4 7l1 0m3 0l1 0m-6 3l1 0m3 5l1 0m-4 4l1 0m2 0l1 0m-1 4l1 0m-4 4l1 0m2 11l1 0m-3 3l1 0m-2 5l1 0m2 4l1 0m5-172l1 0m-3 8l1 0m-2 9l1 0m2 1l1 0m-5 5l1 0m0 7l1 0m2-1l1 0m-5 4l1 0m0 1l1 0m-1 3l1 0m0 4l1 0m1 0l1 0m-4 7l1 0m2 0l1 0m-2 6l1 0m-5 2l1 0m1 9l1 0m2 0l1 0m-4 6l1 0m2 1l1 0m-4 5l1 0m2-2l1 0m-3 5l1 0m-2 3l1 0m2 1l1 0m-5 2l1 0m3 3l1 0m-3 5l1 0m-2 1l1 0m3 0l1 0m-2 6l1 0m-5 4l1 0m0 2l1 0m-1 7l1 0m2 0l1 0m-5 5l1 0m2 1l1 0m-4 3l1 0m0 2l1 0m1 1l1 0m-4 6l1 0m2 1l1 0m-4 5l1 0m2 0l1 0m-4 3l1 0m0 1l1 0m1 1l1 0m-3 7l1 0m2-2l1 0m-1 6l1 0m0 7l1 0m-5 4l1 0m5-162l1 0m-2 2l1 0m1 4l1 0m-3 4l1 0m2 2l1 0m0 5l1 0m-5 4l1 0m0 7l1 0m0 2l1 0m-2 2l1 0m-2 4l1 0m2 1l1 0m-3 3l1 0m-2 1l1 0m2 0l1 0m-3 7l1 0m2-2l1 0m-5 8l1 0m0 6l1 0m2 0l1 0m-4 4l1 0m0 3l1 0m-2 3l1 0m-2 2l1 0m1 0l1 0m-1 5l1 0m-2 6l1 0m2 1l1 0m-4 4l1 0m-3 2l1 0m1 0l1 0m-2 7l1 0m2-1l1 0m-3 7l1 0m1 1l1 0m-3 2l1 0m-2 2l1 0m-1 7l1 0m1-1l1 0m-2 3l1 0m-2 3l1 0m3 0l1 0m-2 5l1 0m-1 8l1 0m-3 3l1 0m2 2l1 0m-5 3l1 0m2 1l1 0m-2 15l1 0m-4 4l1 0m3 3l1 0m0 4l1 0m-6 2l1 0m9-165l1 0m-3 4l1 0m0 2l1 0m-3 3l1 0m1 3l1 0m-4 3l1 0m3 2l1 0m-1 6l1 0m-2 7l1 0m-1 6l1 0m-5 3l1 0m2 2l1 0m0 6l1 0m-5 2l1 0m4 6l1 0m-3 2l1 0m1 4l1 0m-3 2l1 0m0 4l1 0m-4 2l1 0m-1 1l1 0m3 2l1 0m-5 1l1 0m-1 5l1 0m0 6l1 0m2 0l1 0m-2 6l1 0m0 6l1 0m-5 6l1 0m0 7l1 0m1-1l1 0m-1 4l1 0m-1 9l1 0m0 5l1 0m0 12l1 0m-4 2l1 0m-3 5l1 0m1 7l1 0m0 3l1 0m4-162l1 0m0 5l1 0m-4 7l1 0m2-1l1 0m-4 7l1 0m2-1l1 0m0 8l1 0m-4 3l1 0m-2 2l1 0m2 0l1 0m-4 3l1 0m0 3l1 0m0 2l1 0m0 3l1 0m-4 4l1 0m2 2l1 0m-5 11l1 0m2 2l1 0m-3 1l1 0m-1 4l1 0m3 1l1 0m-4 6l1 0m1 7l1 0m-3 2l1 0m1 3l1 0m-2 12l1 0m0 13l1 0m-4 5l1 0m1 0l1 0m-4 5l1 0m2 1l1 0m-1 6l1 0m-3 6l1 0m2 0l1 0m-1 6l1 0m-5 3l1 0m2 4l1 0m-3 2l1 0m3 3l1 0m-3 7l1 0m0 4l1 0m-3 4l1 0m5-161l1 0m-3 6l1 0m3-1l1 0m-4 4l1 0m-1 3l1 0m-3 5l1 0m2 0l1 0m-4 3l1 0m0 6l1 0m2 3l1 0m-4 4l1 0m1 3l1 0m0 7l1 0m-4 2l1 0m2 1l1 0m-1 7l1 0m-1 6l1 0m0 9l1 0m-6 2l1 0m3 2l1 0m-3 9l1 0m2 4l1 0m-1 6l1 0m-2 3l1 0m-3 11l1 0m2 4l1 0m-2 18l1 0m-3 5l1 0m2-1l1 0m-4 7l1 0m2 6l1 0m-4 3l1 0m2 3l1 0m-4 4l1 0m0 2l1 0m-3 3l1 0m8-162l1 0m-4 3l1 0m1 3l1 0m-1 5l1 0m-2 7l1 0m2 0l1 0m-5 12l1 0m2 0l1 0m-4 3l1 0m-2 9l1 0m2 7l1 0m-1 4l1 0m0 8l1 0m-1 4l1 0m-3 3l1 0m1 5l1 0m-1 4l1 0m-1 6l1 0m-2 7l1 0m0 6l1 0m-3 4l1 0m0 3l1 0m0 5l1 0m-2 3l1 0m-2 3l1 0m1 6l1 0m-2 5l1 0m-1 11l1 0m-4 1l1 0m2-1l1 0m-1 12l1 0m-3 4l1 0m-1 3l1 0m1 7l1 0m6-158l1 0m-6 3l1 0m2 1l1 0m0 5l1 0m-3 2l1 0m1 4l1 0m-2 12l1 0m-2 6l1 0m-2 7l1 0m2 1l1 0m-5 1l1 0m0 7l1 0m0 2l1 0m0 0l1 0m-1 6l1 0m0 5l1 0m-4 3l1 0m-1 5l1 0m2-1l1 0m-4 4l1 0m-1 3l1 0m2-1l1 0m-3 9l1 0m-1 1l1 0m-3 3l1 0m4 5l1 0m-3 3l1 0m-3 6l1 0m1 5l1 0m-3 2l1 0m2 3l1 0m-5 2l1 0m0 3l1 0m2 0l1 0m-3 3l1 0m1 4l1 0m-1 3l1 0m0 2l1 0m-4 3l1 0m1 3l1 0m-2 5l1 0m-5 4l1 0m3 4l1 0m-1 4l1 0m-3 5l1 0m3 1l1 0m2-167l1 0m1 8l1 0m-2 11l1 0m0 12l1 0m-5 4l1 0m2 3l1 0m0 6l1 0m0 5l1 0m-6 6l1 0m2 1l1 0m-4 5l1 0m-1 5l1 0m0 7l1 0m1 1l1 0m-4 2l1 0m0 2l1 0m-3 3l1 0m3 4l1 0m-3 6l1 0m1-1l1 0m-3 7l1 0m2-1l1 0m-5 7l1 0m2 0l1 0m-4 6l1 0m-1 3l1 0m0 2l1 0m0 1l1 0m-2 2l1 0m-2 4l1 0m2 0l1 0m-2 7l1 0m-3 3l1 0m-1 1l1 0m1-1l1 0m-4 8l1 0m2-1l1 0m-4 4l1 0m0 9l1 0m2 1l1 0m-4 9l1 0m3 3l1 0m-1 4l1 0m4-165l1 0m-1 6l1 0m-1 5l1 0m-1 5l1 0m-4 7l1 0m2-1l1 0m-3 6l1 0m-2 1l1 0m2 0l1 0m-4 3l1 0m-1 9l1 0m-1 6l1 0m2 0l1 0m-4 4l1 0m2 1l1 0m-4 4l1 0m-1 3l1 0m1 1l1 0m-4 6l1 0m4-1l1 0m-3 6l1 0m-3 6l1 0m2 0l1 0m-4 3l1 0m-1 3l1 0m3 1l1 0m-5 5l1 0m2 0l1 0m0 8l1 0m-4 4l1 0m2 0l1 0m-5 6l1 0m2 0l1 0m-4 6l1 0m2 0l1 0m-3 3l1 0m-3 4l1 0m3 0l1 0m-5 3l1 0m0 3l1 0m-1 5l1 0m0 1l1 0m-2 6l1 0m2-2l1 0m-4 8l1 0m1 0l1 0m-1 4l1 0m-3 4l1 0m3 1l1 0m0 9l1 0m-2 8l1 0m-4 1l1 0m6-167l1 0m-2 5l1 0m0 5l1 0m-3 7l1 0m1 0l1 0m-5 5l1 0m1 7l1 0m3-1l1 0m-4 4l1 0m-3 2l1 0m2 0l1 0m-3 3l1 0m1 2l1 0m-4 8l1 0m1 0l1 0m-1 4l1 0m-2 1l1 0m2 0l1 0m-5 3l1 0m0 3l1 0m2-1l1 0m-5 8l1 0m1 1l1 0m-2 1l1 0m-2 3l1 0m2 1l1 0m-4 5l1 0m2-1l1 0m-3 4l1 0m-1 2l1 0m2 0l1 0m-5 8l1 0m-1 5l1 0m1 1l1 0m-4 3l1 0m0 3l1 0m3 0l1 0m-2 5l1 0m-3 6l1 0m2 0l1 0m-2 2l1 0m-5 4l1 0m0 3l1 0m-1 4l1 0m3-1l1 0m-4 3l1 0m2 3l1 0m-5 2l1 0m0 4l1 0m3 0l1 0m-2 4l1 0m-5 5l1 0m2 2l1 0m0 7l1 0m1 6l1 0m-4 8l1 0m3-171l1 0m-2 3l1 0m1 4l1 0m-5 2l1 0m3 3l1 0m-2 5l1 0m-2 9l1 0m2 2l1 0m-4 4l1 0m1 4l1 0m-4 5l1 0m2 2l1 0m-4 1l1 0m3 4l1 0m-4 5l1 0m-1 7l1 0m2 1l1 0m-4 5l1 0m-2 7l1 0m2-1l1 0m-2 4l1 0m-3 7l1 0m2-1l1 0m-3 7l1 0m1 0l1 0m-3 3l1 0m0 4l1 0m2 0l1 0m-4 3l1 0m-2 2l1 0m-1 4l1 0m-1 3l1 0m1-1l1 0m-3 4l1 0m0 2l1 0m2 0l1 0m-5 7l1 0m2 0l1 0m-2 7l1 0m-4 5l1 0m2 1l1 0m-2 5l1 0m1 11l1 0m-3 3l1 0m2 5l1 0m-2 4l1 0m-3 5l1 0m-4 5l1 0m8-170l1 0m-3 2l1 0m2 1l1 0m-5 3l1 0m3 3l1 0m-4 6l1 0m2 8l1 0m-4 1l1 0m3 4l1 0m-2 5l1 0m-4 7l1 0m1 0l1 0m-2 6l1 0m-1 6l1 0m1 1l1 0m-1 4l1 0m-4 4l1 0m3 2l1 0m-5 4l1 0m2 3l1 0m-3 6l1 0m2-1l1 0m-1 5l1 0m-5 14l1 0m2-1l1 0m-5 4l1 0m4 4l1 0m-4 1l1 0m-2 6l1 0m3-1l1 0m-4 4l1 0m2 8l1 0m-3 1l1 0m0 3l1 0m0 8l1 0m-6 2l1 0m3 3l1 0m-2 7l1 0m0 6l1 0m-3 1l1 0m1 4l1 0m-2 6l1 0m1 5l1 0m-5 3l1 0m7-165l1 0m-4 2l1 0m-1 4l1 0m1 0l1 0m1 6l1 0m-5 4l1 0m0 2l1 0m0 0l1 0m1 6l1 0m-3 3l1 0m1 2l1 0m-4 4l1 0m-1 3l1 0m3 0l1 0m-6 2l1 0m2 4l1 0m-3 19l1 0m2 3l1 0m-2 14l1 0m-4 9l1 0m-1 5l1 0m3 3l1 0m-1 7l1 0m-4 3l1 0m1 3l1 0m0 5l1 0m-1 7l1 0m-3 4l1 0m0 2l1 0m-2 6l1 0m1 1l1 0m-3 3l1 0m1 2l1 0m-5 2l1 0m2 5l1 0m0 5l1 0m-2 7l1 0m5-158l1 0m0 6l1 0m-3 1l1 0m-3 4l1 0m-1 7l1 0m-2 2l1 0m3 3l1 0m-2 6l1 0m-3 3l1 0m1 4l1 0m-2 2l1 0m1 16l1 0m-4 3l1 0m1 8l1 0m-3 3l1 0m2 3l1 0m-4 4l1 0m2 3l1 0m-4 2l1 0m1 9l1 0m-2 4l1 0m1 3l1 0m-1 5l1 0m-2 18l1 0m-5 4l1 0m3 4l1 0m-3 4l1 0m1 0l1 0m1 6l1 0m-6 11l1 0m1 1l1 0m-2 5l1 0m6-152l1 0m-1 6l1 0m0 6l1 0m0 8l1 0m-2 1l1 0m-1 8l1 0m-2 6l1 0m-4 3l1 0m2 17l1 0m-3 5l1 0m-2 3l1 0m0 2l1 0m-2 3l1 0m2 5l1 0m-3 2l1 0m1 1l1 0m-2 4l1 0m2 5l1 0m-2 5l1 0m-2 4l1 0m2 2l1 0m-4 3l1 0m0 2l1 0m-4 4l1 0m3 5l1 0m-1 4l1 0m-2 4l1 0m0 8l1 0m-4 2l1 0m2 3l1 0m-4 10l1 0m1 2l1 0m-4 5l1 0m2 2l1 0m-3 2l1 0m1 3l1 0m-4 3l1 0m8-162l1 0m-3 2l1 0m0 2l1 0m-3 2l1 0m0 12l1 0m-2 1l1 0m-1 3l1 0m1 7l1 0m0 6l1 0m-3 8l1 0m-3 3l1 0m4 1l1 0m-6 7l1 0m3-1l1 0m-1 7l1 0m-5 3l1 0m1 1l1 0m1-1l1 0m-5 8l1 0m1-1l1 0m-2 7l1 0m0 1l1 0m-2 2l1 0m-2 2l1 0m-1 8l1 0m4 6l1 0m-5 11l1 0m-1 3l1 0m-2 3l1 0m2 7l1 0m-3 5l1 0m0 6l1 0m-2 5l1 0m-1 3l1 0m1 4l1 0m-5 3l1 0m4 4l1 0m-2 5l1 0m-4 4l1 0m2 2l1 0m-4 2l1 0m7-145l1 0m-3 10l1 0m1 1l1 0m-1 4l1 0m-3 4l1 0m1-1l1 0m0 7l1 0m-4 6l1 0m2-1l1 0m-3 3l1 0m-4 6l1 0m0 4l1 0m2 2l1 0m-3 4l1 0m2 0l1 0m-1 6l1 0m-4 6l1 0m2-1l1 0m-3 7l1 0m2 0l1 0m-5 6l1 0m2-1l1 0m-3 7l1 0m2 0l1 0m-5 5l1 0m2 0l1 0m-5 6l1 0m2 0l1 0m-2 4l1 0m1 4l1 0m-5 0l1 0m0 4l1 0m-1 3l1 0m2 2l1 0m-4 5l1 0m2 3l1 0m-3 6l1 0m1 0l1 0m-1 6l1 0m-3 2l1 0m-1 4l1 0m3 5l1 0m-4 6l1 0m-4 4l1 0m10-163l1 0m-2 6l1 0m-2 6l1 0m-6 2l1 0m2 15l1 0m1 2l1 0m-4 4l1 0m1 1l1 0m-3 5l1 0m3-1l1 0m-3 5l1 0m-2 3l1 0m-1 6l1 0m2-1l1 0m-4 7l1 0m2 0l1 0m-5 6l1 0m2 0l1 0m-3 6l1 0m1 0l1 0m-3 5l1 0m3 0l1 0m-3 3l1 0m-3 3l1 0m-1 7l1 0m-2 3l1 0m0 1l1 0m1 2l1 0m-4 5l1 0m2-1l1 0m-3 8l1 0m2-1l1 0m-3 4l1 0m-2 3l1 0m-2 6l1 0m3 0l1 0m-5 5l1 0m3 1l1 0m-4 2l1 0m-2 3l1 0m2 1l1 0m-2 6l1 0m1 1l1 0m-5 14l1 0m3 3l1 0m-2 6l1 0m-2 3l1 0m4-165l1 0m1 5l1 0m-3 3l1 0m1 1l1 0m-4 4l1 0m2 3l1 0m-4 6l1 0m1 0l1 0m0 5l1 0m-3 6l1 0m-1 3l1 0m-1 4l1 0m1 0l1 0m-4 5l1 0m1 0l1 0m-1 5l1 0m0 7l1 0m-4 6l1 0m2 1l1 0m-4 6l1 0m1 0l1 0m-3 6l1 0m3 0l1 0m-5 5l1 0m-2 6l1 0m0 6l1 0m-1 6l1 0m1 1l1 0m-3 3l1 0m-2 2l1 0m0 0l1 0m-1 3l1 0m0 3l1 0m1 1l1 0m-5 6l1 0m2-1l1 0m-5 3l1 0m4 4l1 0m-2 5l1 0m-3 2l1 0m-1 4l1 0m1-2l1 0m-1 10l1 0m-3 2l1 0m0 5l1 0m1 1l1 0m-1 10l1 0m-5 2l1 0m8-168l1 0m-2 4l1 0m1 3l1 0m-4 2l1 0m1 4l1 0m-3 3l1 0m1 2l1 0m-1 7l1 0m-1 7l1 0m-4 3l1 0m-1 2l1 0m1-1l1 0m-3 4l1 0m0 4l1 0m1 0l1 0m0 5l1 0m-3 7l1 0m2-1l1 0m-6 6l1 0m2 1l1 0m-5 6l1 0m2 0l1 0m-3 6l1 0m0 4l1 0m-2 2l1 0m2 0l1 0m-4 5l1 0m1-1l1 0m-3 4l1 0m-1 3l1 0m2 0l1 0m0 5l1 0m-5 14l1 0m1 0l1 0m-3 2l1 0m3 4l1 0m-3 3l1 0m-3 5l1 0m3 3l1 0m-4 2l1 0m3 4l1 0m-7 9l1 0m3 1l1 0m0 8l1 0m-2 6l1 0m-4 10l1 0m8-161l1 0m-1 7l1 0m-2 5l1 0m-3 6l1 0m0 3l1 0m-3 4l1 0m1-1l1 0m-3 4l1 0m2 3l1 0m-3 3l1 0m-2 3l1 0m0 0l1 0m-2 6l1 0m3 0l1 0m-2 13l1 0m-3 5l1 0m3 2l1 0m-7 1l1 0m3 4l1 0m0 6l1 0m-5 3l1 0m-1 1l1 0m2-1l1 0m-3 4l1 0m0 4l1 0m-1 3l1 0m0 2l1 0m-1 7l1 0m-3 3l1 0m0 3l1 0m-3 4l1 0m0 2l1 0m3-1l1 0m-5 3l1 0m1 3l1 0m0 7l1 0m-1 7l1 0m-1 4l1 0m0 8l1 0m-7 3l1 0m3 1l1 0m-2 7l1 0m-4 3l1 0m3 1l1 0m4-148l1 0m-2 2l1 0m0 3l1 0m0 5l1 0m-1 5l1 0m0 8l1 0m-4 3l1 0m-2 2l1 0m1 1l1 0m-3 8l1 0m3 4l1 0m-2 6l1 0m-1 7l1 0m-1 6l1 0m-2 5l1 0m-4 3l1 0m3 2l1 0m-5 4l1 0m1 3l1 0m-2 4l1 0m2 2l1 0m-1 12l1 0m-2 5l1 0m-1 6l1 0m0 7l1 0m-4 3l1 0m1 2l1 0m0 7l1 0m-5 5l1 0m3 0l1 0m-5 3l1 0m3 4l1 0m-1 7l1 0m-1 5l1 0m-4 3l1 0m5-154l1 0m-1 4l1 0m2-1l1 0m-1 6l1 0m-1 7l1 0m-4 7l1 0m-2 2l1 0m0 9l1 0m0-1l1 0m0 10l1 0m-4 8l1 0m2 2l1 0m0 5l1 0m-1 6l1 0m-1 18l1 0m-3 7l1 0m1 10l1 0m-4 3l1 0m-2 8l1 0m3 2l1 0m-4 3l1 0m1 10l1 0m-3 5l1 0m3 0l1 0m-4 3l1 0m2 2l1 0m-3 8l1 0m-2 8l1 0m6-157l1 0m-1 7l1 0m-1 4l1 0m-1 7l1 0m-3 2l1 0m1 6l1 0m-4 5l1 0m1 0l1 0m-2 3l1 0m-3 2l1 0m2 1l1 0m-3 6l1 0m1-1l1 0m0 7l1 0m0 3l1 0m-5 8l1 0m3 7l1 0m-1 4l1 0m-3 4l1 0m0 3l1 0m-4 6l1 0m2 0l1 0m-4 3l1 0m1 5l1 0m-1 5l1 0m-4 3l1 0m0 1l1 0m3-1l1 0m-6 8l1 0m2 0l1 0m0 8l1 0m-5 1l1 0m3 5l1 0m-3 2l1 0m0 1l1 0m-1 8l1 0m-4 1l1 0m3 5l1 0m-4 3l1 0m3 8l1 0m-3 9l1 0m4-159l1 0m1 7l1 0m-1 6l1 0m-2 7l1 0m-4 6l1 0m3-1l1 0m-2 6l1 0m-4 4l1 0m3 2l1 0m-1 6l1 0m-4 3l1 0m-1 4l1 0m1-2l1 0m-3 5l1 0m-2 3l1 0m1 1l1 0m-3 5l1 0m1 2l1 0m-3 4l1 0m2 0l1 0m-4 12l1 0m2 1l1 0m-4 4l1 0m1 3l1 0m-3-1l1 0m3 6l1 0m-2 5l1 0m0 5l1 0m-5 3l1 0m0 3l1 0m1 1l1 0m-4 6l1 0m2 0l1 0m-3 3l1 0m1 2l1 0m-3 3l1 0m2 4l1 0m-2 6l1 0m-2 3l1 0m0 3l1 0m-3 2l1 0m1 4l1 0m-1 10l1 0m3-157l1 0m-2 6l1 0m-2 8l1 0m4 2l1 0m-5 3l1 0m2 3l1 0m0 6l1 0m-5 6l1 0m2-1l1 0m-4 13l1 0m1-1l1 0m-3 6l1 0m2 1l1 0m-4 7l1 0m2 0l1 0m-3 3l1 0m-2 2l1 0m3 0l1 0m-5 6l1 0m-1 5l1 0m1 0l1 0m-3 8l1 0m0 0l1 0m-2 4l1 0m1 1l1 0m-3 7l1 0m1 0l1 0m-3 2l1 0m-1 4l1 0m2 0l1 0m-5 4l1 0m0 1l1 0m2 1l1 0m-3 5l1 0m2-1l1 0m-3 7l1 0m-3 3l1 0m-1 3l1 0m2 1l1 0m-5 5l1 0m2 0l1 0m-4 7l1 0m0 0l1 0m2 6l1 0m-5 3l1 0m3 3l1 0m-1 6l1 0m-5 2l1 0m7-156l1 0m-2 5l1 0m-3 5l1 0m1 4l1 0m-2 5l1 0m2 0l1 0m0 10l1 0m-5 7l1 0m2 0l1 0m-4 4l1 0m0 2l1 0m1-1l1 0m-4 5l1 0m-1 2l1 0m1 1l1 0m-2 3l1 0m-1 2l1 0m3 0l1 0m-5 3l1 0m-2 4l1 0m1 1l1 0m-4 2l1 0m0 3l1 0m0 2l1 0m-1 2l1 0m2-1l1 0m-4 3l1 0m-2 4l1 0m1 1l1 0m-2 6l1 0m-1 6l1 0m1 0l1 0m-5 3l1 0m0 3l1 0m1-1l1 0m-4 5l1 0m0 2l1 0m2 1l1 0m-4 10l1 0m2 0l1 0m-3 7l1 0m-1 5l1 0m2 0l1 0m-5 6l1 0m2 0l1 0m-1 7l1 0m-1 6l1 0m-3 4l1 0m1 1l1 0m-3 5l1 0m1-1l1 0m-3 4l1 0m6-158l1 0m-1 5l1 0m-5 2l1 0m3 3l1 0m-4 3l1 0m2 5l1 0m-4 2l1 0m0 4l1 0m2 1l1 0m-3 2l1 0m0 2l1 0m-1 5l1 0m-3 5l1 0m-1 10l1 0m3-2l1 0m-5 6l1 0m3-1l1 0m-7 7l1 0m2 0l1 0m-3 6l1 0m-1 6l1 0m2 0l1 0m-3 6l1 0m2 1l1 0m-3 3l1 0m-2 2l1 0m-1 3l1 0m2 3l1 0m-5 6l1 0m2 0l1 0m-1 6l1 0m-3 6l1 0m1 1l1 0m-3 3l1 0m1 3l1 0m-5 3l1 0m5 1l1 0m-5 4l1 0m1 2l1 0m-4 5l1 0m-2 5l1 0m1 3l1 0m1 0l1 0m-5 8l1 0m4 5l1 0m-4 2l1 0m1 4l1 0m5-153l1 0m-3 9l1 0m1 5l1 0m-4 3l1 0m1 3l1 0m-1 5l1 0m-1 9l1 0m-1 2l1 0m0 7l1 0m-6 4l1 0m0 3l1 0m1 5l1 0m-1 6l1 0m2 0l1 0m-2 6l1 0m-4 6l1 0m2-1l1 0m-4 4l1 0m0 3l1 0m1 1l1 0m-5 6l1 0m2-1l1 0m-3 6l1 0m-1 2l1 0m-1 4l1 0m2 0l1 0m-5 3l1 0m4 5l1 0m-4 2l1 0m2 3l1 0m-5 6l1 0m1-1l1 0m-3 10l1 0m1 1l1 0m-4 3l1 0m2 4l1 0m-1 6l1 0m-2 2l1 0m1 4l1 0m-2 10l1 0m-3 1l1 0m5-153l1 0m3 4l1 0m-2 5l1 0m-2 8l1 0m-1 4l1 0m-1 7l1 0m-3 5l1 0m-1 7l1 0m1 0l1 0m-4 3l1 0m2 8l1 0m-3 3l1 0m-2 4l1 0m2-1l1 0m-1 5l1 0m0 8l1 0m-5 3l1 0m0 7l1 0m4 1l1 0m-7 4l1 0m3 1l1 0m-3 8l1 0m0 5l1 0m-4 4l1 0m-1 2l1 0m1 7l1 0m-4 3l1 0m4 1l1 0m-2 7l1 0m-1 5l1 0m-5 4l1 0m4 3l1 0m-5 11l1 0m9-144l1 0m-4 4l1 0m-2 2l1 0m2 1l1 0m-2 5l1 0m-5 4l1 0m2 1l1 0m-2 7l1 0m2 6l1 0m-1 6l1 0m-4 3l1 0m2-1l1 0m-3 5l1 0m1 5l1 0m-2 3l1 0m0 3l1 0m-2 6l1 0m-4 3l1 0m3 3l1 0m-1 5l1 0m-3 6l1 0m-2 5l1 0m1 2l1 0m0 13l1 0m-2 1l1 0m-1 4l1 0m-5 9l1 0m4 1l1 0m-5 7l1 0m-1 7l1 0m1 1l1 0m-2 6l1 0m2-1l1 0m-4 4l1 0m-1 1l1 0m-1 10l1 0m5-149l1 0m-2 4l1 0m3 0l1 0m-6 13l1 0m1 0l1 0m-2 6l1 0m2 1l1 0m-2 11l1 0m0 6l1 0m-4 4l1 0m2 2l1 0m-1 5l1 0m-1 6l1 0m-1 14l1 0m-3 1l1 0m1 4l1 0m-2 7l1 0m-3 3l1 0m2 2l1 0m0 5l1 0m-2 6l1 0m-2 6l1 0m0 12l1 0m-3 7l1 0m2-1l1 0m-4 7l1 0m-2 3l1 0m-1 3l1 0m2 1l1 0m-3 2l1 0m1 2l1 0m4-142l1 0m-4 4l1 0m3 2l1 0m-4 3l1 0m0 5l1 0m-4 3l1 0m4 2l1 0m-4 5l1 0m2 0l1 0m-2 7l1 0m-4 3l1 0m-1 3l1 0m1-1l1 0m-2 4l1 0m2 3l1 0m-4 2l1 0m-2 4l1 0m-1 6l1 0m0-1l1 0m-2 6l1 0m2 1l1 0m-4 3l1 0m3 9l1 0m-2 3l1 0m-3 2l1 0m1 0l1 0m-1 6l1 0m-3 3l1 0m2 4l1 0m-4 4l1 0m1 10l1 0m-3 1l1 0m-1 6l1 0m0 1l1 0m-2 6l1 0m-1 4l1 0m2 3l1 0m-2 8l1 0m-3 3l1 0m1 3l1 0m0 6l1 0m-4 3l1 0m7-154l1 0m-5 4l1 0m3 3l1 0m-4 11l1 0m2-1l1 0m-2 6l1 0m-3 12l1 0m-1 2l1 0m2 0l1 0m-4 2l1 0m-1 5l1 0m1-1l1 0m0 5l1 0m-3 4l1 0m-1 3l1 0m2 0l1 0m-4 6l1 0m-3 6l1 0m2 1l1 0m-3 5l1 0m1 1l1 0m-3 5l1 0m1 1l1 0m-3 3l1 0m-1 3l1 0m1 0l1 0m-4 3l1 0m3 3l1 0m-4 5l1 0m2-1l1 0m-3 4l1 0m-2 4l1 0m-1 3l1 0m-1 2l1 0m3-2l1 0m-6 11l1 0m3 3l1 0m-4 12l1 0m1 0l1 0m1 6l1 0m-5 3l1 0m2 3l1 0m-2 6l1 0m0-133l1 0m5 4l1 0m-3 6l1 0m-3 6l1 0m2 0l1 0m-4 3l1 0m-1 2l1 0m3 0l1 0m-6 2l1 0m0 4l1 0m2 0l1 0m-4 6l1 0m2 0l1 0m-5 3l1 0m0 3l1 0m3 0l1 0m-5 6l1 0m-1 2l1 0m-1 5l1 0m2-1l1 0m-3 3l1 0m-1 2l1 0m1 0l1 0m-4 7l1 0m2-2l1 0m-3 4l1 0m-1 4l1 0m2-1l1 0m-4 8l1 0m2-1l1 0m-5 3l1 0m-1 3l1 0m3 7l1 0m-6 11l1 0m1 0l1 0m-3 3l1 0m1 3l1 0m2 0l1 0m-4 3l1 0m-2 3l1 0m2-1l1 0m-2 13l1 0m-1 6l1 0m0 5l1 0m-4 3l1 0m8-156l1 0m-2 13l1 0m-3 13l1 0m1-1l1 0m-4 6l1 0m2 0l1 0m-4 3l1 0m2 30l1 0m-1 3l1 0m-4 7l1 0m1 0l1 0m-3 3l1 0m0 27l1 0m2 0l1 0m-5 3l1 0m-1 3l1 0m3-2l1 0m-5 5l1 0m-1 9l1 0m0 5l1 0m2-2l1 0m0 9l1 0m-3 6l1 0m-3 3l1 0m2 7l1 0m-3 4l1 0m6-148l1 0m-1 17l1 0m-3 19l1 0m2 1l1 0m-4 35l1 0m2 0l1 0m-4 2l1 0m1 5l1 0m-3 4l1 0m-1 31l1 0m2 0l1 0m-3 4l1 0m0 15l1 0m2-104l1 0m2-1l1 0m-1 108l1 0m-4 4l1 0m6-58l1 0m-3 1l1 0m26 49l1 0m91 74l1 0m-96-55l1 0m173-119l1 0m-175 11l1 0m163 77l1 0m-31-134l1 0m-38-13l1 0m-42 126l1 0m-46 41l1 0m11-144l1 0m33 174l1 0m21-179l1 0m-12 74l1 0m55 10l1 0m-109 53l1 0m100-135l1 0m-24 165l1 0m-90-147l1 0m36 181l1 0m-54-119l1 0m16-51l1 0m93 7l1 0m15 86l1 0m-57 29l1 0m26-36l1 0m8-137l1 0m-37 44l1 0m68 173l1 0m-77 1l1 0m-35-181l1 0m138 93l1 0m-33 46l1 0m-32-191l1 0m18 15l1 0m-82 205l1 0m75-74l1 0m-47-97l1 0m-61 9l1 0m18 160l1 0m99-85l1 0m-59-9l1 0m7-29l1 0m-31 113l1 0m70-137l1 0m-115 24l1 0m-11 67l1 0m104-7l1 0m-24-52l1 0m-63-66l1 0m152 106l1 0m-32 63l1 0m-107-9l1 0m106-59l1 0m-25 91l1 0m-90-29l1 0m38-78l1 0m26-75l1 0m-22 130l1 0m-49-96l1 0m41 166l1 0m45-224l1 0m21 101l1 0m-53-120l1 0m75 198l1 0m-23-173l1 0m-70 8l1 0m-17-37l1 0m9 9l1 0m60-4l1 0m17 70l1 0m-54 164l1 0m2-5l1 0m-42-1l1 0m55-136l1 0m23-74l1 0m14 112l1 0m-33-110l1 0m-35 55l1 0m-24-36l1 0m-32 128l1 0m26-22l1 0m-56 2l1 0m133 57l1 0m-81-105l1 0m84-88l1 0m-19 188l1 0m-25-205l1 0m19 76l1 0m-31-37l1 0m-87 96l1 0m52-61l1 0m136 45l1 0m-127-119l1 0m92 44l1 0m-72 22l1 0m12-55l1 0m-63 211l1 0m119-161l1 0m-156 103l1 0m180-19l1 0m-80 104l1 0m-57-45l1 0m7-166l1 0m49-29l1 0m-102 58l1 0m128 106l1 0m-22-152l1 0m-84 77l1 0m91 3l1 0m-3 97l1 0m-106-98l1 0m112-7l1 0m1 14l1 0m-26 92l1 0m-62 13l1 0m127-55l1 0m-161-8l1 0m29-21l1 0m67-125l1 0m-12 87l1 0m69 117l1 0m-154-119l1 0m96 128l1 0m-93-36l1 0m131-163l1 0m16 101l1 0m-115 123l1 0m118-181l1 0m-89 179l1 0m-21-3l1 0m43 11l1 0m72-111l1 0m-125-81l1 0m67 126l1 0m-60-178l1 0m-13 189l1 0m-26-66l1 0m152-28l1 0m-111-13l1 0m74 94l1 0m-65-170l1 0m-8 102l1 0m19 131l1 0m48-166l1 0m2-60l1 0m2 65l1 0m-85-30l1 0m-56 121l1 0m76-102l1 0m10 78l1 0m-2 99l1 0m36-184l1 0m-49-57l1 0m4 164l1 0m-18 48l1 0m18-135l1 0m28-15l1 0m17 39l1 0m-3 5l1 0m-43 137l1 0m-32-69l1 0m109-5l1 0m-78 58l1 0m56-49l1 0m-154 3l1 0m71 53l1 0m-26-235l1 0m-16 30l1 0m35-41l1 0m-53 161l1 0m100-112l1 0m16-19l1 0m-69 168l1 0m63 34l1 0m-127-172l1 0m24-1l1 0m50 118l1 0m-9-120l1 0m3 121l1 0m14-19l1 0m-70-84l1 0m121-2l1 0m12 94l1 0m-47 36l1 0m-7-183l1 0m-51 150l1 0m-29-73l1 0m43 132l1 0m-52-141l1 0m70-89l1 0m44 224l1 0m6-5l1 0m-95-86l1 0m100 4l1 0m-76 118l1 0m11-50l1 0m-98-52l1 0m58 14l1 0m56-35l1 0m-60 3l1 0m91 33l1 0m-38-163l1 0m25 20l1 0m-13 163l1 0m-36 62l1 0m95-107l1 0m-127-101l1 0m28-3l1 0m61 108l1 0m31 23l1 0m-89 52l1 0m-21-151l1 0m0 64l1 0m79-1l1 0m-117 82l1 0m105-188l1 0m23 20l1 0m-105 166l1 0m69-36l1 0m-57-177l1 0m-22 72l1 0m-11-46l1 0m63 57l1 0m1-65l1 0m8 101l1 0m69-5l1 0m-97 103l1 0m64-161l1 0m-142 115l1 0m96-143l1 0m49 72l1 0m-95 144l1 0m96-120l1 0m-34 99l1 0m42-51l1 0m-103-135l1 0m54 97l1 0m-1 43l1 0m-131-55l1 0m74-9l1 0m78 66l1 0m-22-156l1 0m-96 174l1 0m-15 9l1 0m108 2l1 0m0-36l1 0m-60 43l1 0m101-28l1 0m-151-81l1 0m94 103l1 0m37-7l1 0m-95-69l1 0m86-9l1 0m12 28l1 0m-63 23l1 0m-82 45l1 0m112-15l1 0m-88-118l1 0m92 38l1 0m-6 88l1 0m-70-193l1 0m-61 86l1 0m124 132l1 0m-115-20l1 0m128-139l1 0m9-1l1 0m-15-11l1 0m-55 164l1 0m4-153l1 0m-74 20l1 0m-23-24l1 0m134 165l1 0m-134-73l1 0m14-119l1 0m112-4l1 0m-42 190l1 0m8-215l1 0m-57 43l1 0m124 129l1 0m-98 53l1 0m-13-27l1 0m-45-138l1 0m155-15l1 0m-113 19l1 0m-47 56l1 0m-16 28l1 0m192-42l1 0m-146 62l1 0m57-33l1 0m32 62l1 0m50-123l1 0m-19 62l1 0m-143-66l1 0m33-60l1 0m48-27l1 0m77 106l1 0m-77 88l1 0m-38 14l1 0m-74-37l1 0m79-108l1 0m-69-17l1 0m121 11l1 0m-107 136l1 0m84 61l1 0m-12-177l1 0m72 84l1 0m-125 18l1 0m3 61l1 0m104-125l1 0m-39 126l1 0m-39-211l1 0m-1 193l1 0m-49-48l1 0m107-151l1 0m-27 15l1 0m-81 85l1 0m-10-28l1 0m-29 68l1 0m157-45l1 0m-72 91l1 0m-5-165l1 0m-51-23l1 0m33 49l1 0m75 19l1 0m-124 133l1 0m101 8l1 0m62-96l1 0m-154-110l1 0m75 158l1 0m-40-98l1 0m51 84l1 0m48-57l1 0m-24-84l1 0m24 56l1 0m-133-63l1 0m82 63l1 0m22 36l1 0m-86-50l1 0m-74 62l1 0m124-33l1 0m-66-55l1 0m98 160l1 0m-25-47l1 0m-84-71l1 0m63 113l1 0m-97-8l1 0m81-195l1 0m45 225l1 0m-12-195l1 0m-33 160l1 0m52-98l1 0m-11 129l1 0m26-62l1 0m-50 33l1 0m-72-115l1 0m97 43l1 0m-86 55l1 0m37 57l1 0m-41-206l1 0m37 155l1 0m33 20l1 0m-32-98l1 0m76 77l1 0m-14 23l1 0m-151-28l1 0m127-68l1 0m-7-86l1 0m34 45l1 0m-36 150l1 0m-56-143l1 0m9-37l1 0m-64 148l1 0m151-13l1 0m-133 18l1 0m103 11l1 0m-43-1l1 0m-40 42l1 0m113-133l1 0m-18 89l1 0m-68-149l1 0m-105 52l1 0m93 138l1 0m-10-57l1 0m49 26l1 0m8-56l1 0m-86 18l1 0m-6-106l1 0m116 106l1 0m-47-115l1 0m28 179l1 0m22-43l1 0m-153-31l1 0m40-142l1 0m10-8l1 0m36 214l1 0m31-138l1 0m-32 3l1 0m-84 100l1 0m68-176l1 0m86 96l1 0m-64 144l1 0m-39-175l1 0m-70 14l1 0m110 9l1 0m-12-69l1 0m3 197l1 0m-99-94l1 0m43-7l1 0m-8 20l1 0m114-56l1 0m-4-35l1 0m-95 67l1 0m84-53l1 0m-113-25l1 0m-32 157l1 0m42-186l1 0m-35 189l1 0m147-136l1 0m-117 121l1 0m40-165l1 0m-50 69l1 0m65 149l1 0m-34-105l1 0m-72 48l1 0m118-140l1 0m23-5l1 0m-58-21l1 0m-17 80l1 0m-57-30l1 0m102 63l1 0m-114 68l1 0m115-139l1 0m-91 123l1 0m38-151l1 0m1-28l1 0m-26 6l1 0m42 193l1 0m-40-93l1 0m66 122l1 0m3-61l1 0m-85-140l1 0m48-20l1 0m45 196l1 0m-108-149l1 0m16-20l1 0m119 87l1 0m-79 89l1 0m-15-133l1 0m-74 74l1 0m54-19l1 0m0 82l1 0m111-83l1 0m-133 44l1 0m34-171l1 0m-24 130l1 0m19 12l1 0m-62-2l1 0m48-72l1 0m-55 55l1 0m149-90l1 0m-8 141l1 0m10-91l1 0m16 58l1 0m-79-26l1 0m52-94l1 0m-160 87l1 0m186-22l1 0m-37 128l1 0m-114-131l1 0m111 89l1 0m-30-2l1 0m62-19l1 0m-108 96l1 0m53-13l1 0m-75-151l1 0m63 73l1 0m22-129l1 0m-88 149l1 0m68-167l1 0m31 159l1 0m24-41l1 0m-113-119l1 0m13-7l1 0m37 79l1 0m-52 150l1 0m98-127l1 0m-17 37l1 0m-137 58l1 0m146-102l1 0m-162 19l1 0m135 120l1 0m-120-128l1 0m136-61l1 0m-76-41l1 0m-73 154l1 0m52 17l1 0m24 67l1 0m98-118l1 0m-10-37l1 0m-91 163l1 0m57-47l1 0m33-51l1 0m-148 21l1 0m29-170l1 0m87 34l1 0m-47 148l1 0m65-78l1 0m-166-12l1 0m17-22l1 0m50 115l1 0m81-35l1 0m-41 13l1 0m-111 17l1 0m16-158l1 0m49 168l1 0m-10-45l1 0m70 82l1 0m-14-60l1 0m12-51l1 0m-135-33l1 0m135 97l1 0m-118-72l1 0m18 94l1 0m6-3l1 0m77-74l1 0m-4 47l1 0m2-1l1 0m1-102l1 0m-121 20l1 0m6 34l1 0m154 11l1 0m-34-73l1 0m-28-14l1 0m-46 39l1 0m-36-10l1 0m-26 64l1 0m114-97l1 0m-88 125l1 0m149-48l1 0m-147-96l1 0m69 149l1 0m10-131l1 0m42 83l1 0m-62 96l1 0m44-183l1 0m-40 139l1 0m-73-158l1 0m123 81l1 0m-68-108l1 0m-32 106l1 0m126 32l1 0m-132 57l1 0m118-118l1 0m-69 157l1 0m-43-132l1 0m-9-27l1 0m118 44l1 0m-48-49l1 0m38-30l1 0m-151 167l1 0m143-5l1 0m-11-80l1 0m-13 11l1 0m-104 64l1 0m140-55l1 0m-151-61l1 0m89 168l1 0m-22-158l1 0m-85 40l1 0m117-91l1 0m-113 118l1 0m-6 38l1 0m5-67l1 0m74 43l1 0m-88-85l1 0m116-86l1 0m47 190l1 0m-77-81l1 0m-79 100l1 0m-25-58l1 0m122-98l1 0m-94 82l1 0m91-68l1 0m-106 36l1 0m24 84l1 0m7-88l1 0m-35 91l1 0m-8-9l1 0m28 28l1 0m79-125l1 0m-38-87l1 0m-43 188l1 0m-25-47l1 0m33 88l1 0m144-135l1 0m-85 131l1 0m38-45l1 0m-14-155l1 0m37 185l1 0m-140-13l1 0m58-11l1 0m-52-144l1 0m77 188l1 0m-108-68l1 0m131 53l1 0m-83-113l1 0m-19-73l1 0m91 116l1 0m55-20l1 0m-92-51l1 0m70 136l1 0m-60-56l1 0m51-57l1 0m-155 74l1 0m49-70l1 0m78 128l1 0m27-46l1 0m-23-66l1 0m-142 34l1 0m100-142l1 0m-6 34l1 0m62 122l1 0m-69-140l1 0m15 211l1 0m44-119l1 0m-33 89l1 0m23 30l1 0m-88-224l1 0m-28 25l1 0m58-33l1 0m62 170l1 0m-109-135l1 0m99 108l1 0m34-10l1 0m-30 60l1 0m19 7l1 0m-26-147l1 0m2 104l1 0m-122-69l1 0m-24 14l1 0m137 108l1 0m-48-50l1 0m-68-120l1 0m79 196l1 0m43-207l1 0m28 106l1 0m-84 67l1 0m88-91l1 0m-94 110l1 0m42 16l1 0m-15 7l1 0m-27-54l1 0m60-31l1 0m-89-149l1 0m-20 60l1 0m8 137l1 0m129-86l1 0m-49-41l1 0m37 86l1 0m-188-27l1 0m80 52l1 0m-3-172l1 0m93 107l1 0m17-49l1 0m-118 82l1 0m70-20l1 0m40-64l1 0m-22-29l1 0m-106 65l1 0m-26 23l1 0m-19-50l1 0m21 88l1 0m-39-31l1 0m60 81l1 0m20-42l1 0m-29-73l1 0m-41 68l1 0m59 23l1 0m-12-166l1 0m75 199l1 0m-28-208l1 0m63 166l1 0m-65 57l1 0m-5-59l1 0m-31-173l1 0m-40 65l1 0m17 112l1 0m51 59l1 0m-38-27l1 0m21-43l1 0m-46-145l1 0m34 84l1 0m-39-56l1 0m75 122l1 0m-104-108l1 0m134 44l1 0m-104 23l1 0m-29-84l1 0m79-31l1 0m-81 5l1 0m120-16l1 0m-113 181l1 0m90 15l1 0m2-152l1 0m-109 96l1 0m141 64l1 0m-18-196l1 0m-71 59l1 0m-29-32l1 0m128 60l1 0m-14-40l1 0m-15-19l1 0m-42 181l1 0m-2-130l1 0m73 89l1 0m-37-49l1 0m-101-71l1 0m96-64l1 0m43 101l1 0m-38 125l1 0m-124-58l1 0m14 2l1 0m18-144l1 0m67 18l1 0m-32-14l1 0m-31 30l1 0m65 165l1 0m58-106l1 0m-30-107l1 0m-92 205l1 0m48-8l1 0m-37-165l1 0m-67 114l1 0m114-3l1 0m-35-151l1 0m1 208l1 0m-51-135l1 0m20 86l1 0m101-43l1 0m-121-2l1 0m81 54l1 0m29 36l1 0m-99-51l1 0m31-144l1 0m88 152l1 0m-32 35l1 0m-110-48l1 0m28-49l1 0m50 126l1 0m49-169l1 0m-33 72l1 0m-72 85l1 0m22-8l1 0m68-2l1 0m-115-57l1 0m66 86l1 0m17-114l1 0m-84-43l1 0m66-90l1 0m66 122l1 0m-9 35l1 0m-55-141l1 0m-126 135l1 0m37 25l1 0m78 30l1 0m14-127l1 0m46 42l1 0m-19-27l1 0m-56 67l1 0m43 52l1 0m-141-150l1 0m90 182l1 0m64-68l1 0m8-14l1 0m-139-62l1 0m19 114l1 0m-21-167l1 0m7 25l1 0m14-59l1 0m4 186l1 0m-35 26l1 0m64-212l1 0m-88 163l1 0m67 19l1 0m31-50l1 0m-69-90l1 0m77 91l1 0m-30 76l1 0m-13-153l1 0m87 35l1 0m-139 86l1 0m112-160l1 0m43 90l1 0m-24-12l1 0m11 81l1 0m-103-113l1 0m-8 45l1 0m64 56l1 0m-130-62l1 0m31 19l1 0m9 66l1 0m23 2l1 0m87-13l1 0m-33-148l1 0m-59-18l1 0m-7 213l1 0m-26-59l1 0m138-26l1 0m12-49l1 0m-38-4l1 0m-102-69l1 0m6 43l1 0m51-21l1 0m34 117l1 0m-53-172l1 0m94 169l1 0m-83-50l1 0m1 94l1 0m19 37l1 0m-112-115l1 0m-1-14l1 0m152-29l1 0m-136 80l1 0m149-5l1 0m-110 56l1 0m-52-49l1 0m89-55l1 0m-70 84l1 0m54 46l1 0m-47-191l1 0m58-61l1 0m-52 63l1 0m102-12l1 0m-84 3l1 0m24 176l1 0m16-94l1 0m-18 65l1 0m-23-109l1 0m80 75l1 0m3-81l1 0m-13-33l1 0m-133 141l1 0m103-179l1 0m-53 156l1 0m-53 26l1 0m105-3l1 0m-42-117l1 0m74 17l1 0m-96 128l1 0m0-96l1 0m100 62l1 0m-79-52l1 0m-92-7l1 0m155 27l1 0m-77-106l1 0m75 108l1 0m5-19l1 0m-133 70l1 0m15-120l1 0m10 112l1 0m64-85l1 0m56-1l1 0m-49-61l1 0m23-16l1 0m-148 141l1 0m0-3l1 0m42-52l1 0m3-59l1 0m120 29l1 0m-142 125l1 0m69 16l1 0m51-150l1 0m-26 134l1 0m51-119l1 0m-125 152l1 0m13-164l1 0m-6-43l1 0m-10 144l1 0m62-155l1 0m-66 142l1 0m74-115l1 0m-93 146l1 0m-44-109l1 0m82 109l1 0m-36-183l1 0m48 221l1 0m-3-137l1 0m71 98l1 0m12-39l1 0m-59 29l1 0m-78 21l1 0m71-198l1 0m74 99l1 0m-82 73l1 0m63-1l1 0m-154 17l1 0m54 2l1 0m24 35l1 0m-2-219l1 0m21 24l1 0m-16 210l1 0m2-222l1 0m-15 62l1 0m34 29l1 0m-6 98l1 0m-91-39l1 0m96-125l1 0m-22 177l1 0m15-145l1 0m-81-30l1 0m94 82l1 0m0 97l1 0m-140-69l1 0m177-15l1 0m-27-50l1 0m-36 63l1 0m-70 78l1 0m123-110l1 0m8-34l1 0m-41-59l1 0m-53 127l1 0m-91-90l1 0m167-25l1 0m-88 82l1 0m-51-42l1 0m3 136l1 0m-34-134l1 0m133-67l1 0m-66 32l1 0m103 33l1 0m-126 1l1 0m57-46l1 0m42 161l1 0m-143-17l1 0m122-28l1 0m0 17l1 0m-18 26l1 0m6 8l1 0m48-156l1 0m-91 182l1 0m76-193l1 0m-63 107l1 0m-94-101l1 0m-15 69l1 0m163 61l1 0m9-80l1 0m-88-101l1 0m-49 147l1 0m52 66l1 0m-5-166l1 0m-73 74l1 0m160-2l1 0m-159-12l1 0m102-46l1 0m-17 153l1 0m-8-84l1 0m-68-2l1 0m83 10l1 0m-57-116l1 0m118 74l1 0m-124 37l1 0m50-117l1 0m-84 173l1 0m96 46l1 0m-28-191l1 0m101 107l1 0m-37-74l1 0m-93-79l1 0m-3 67l1 0m-37 97l1 0m39-39l1 0m-66-1l1 0m9 23l1 0m109 45l1 0m-74-120l1 0m36 28l1 0m94 50l1 0m-125-109l1 0m78 52l1 0m-21 71l1 0m24 3l1 0m-132-3l1 0m94-137l1 0m-60 78l1 0m54-92l1 0m25 116l1 0m-47-113l1 0m85 112l1 0m-10-40l1 0m-51 129l1 0m65-113l1 0m-127-89l1 0m128 84l1 0m-101 103l1 0m13-31l1 0m-29-1l1 0m27-72l1 0m87-22l1 0m-126 154l1 0m17-169l1 0m-36 120l1 0m12-86l1 0m92-1l1 0m-120-27l1 0m156-10l1 0m-146 74l1 0m5 87l1 0m6-67l1 0m-6-77l1 0m-17 98l1 0m56-163l1 0m31 124l1 0m-86 77l1 0m99-146l1 0m-23 104l1 0m14 31l1 0m-8-53l1 0m-43 91l1 0m-61-109l1 0m74 28l1 0m41-11l1 0m-66-14l1 0m0 118l1 0m-44-61l1 0m106 29l1 0m-7-53l1 0m10-137l1 0m37 145l1 0m-3-20l1 0m-24-89l1 0m-146 12l1 0m59 152l1 0m56-143l1 0m-98 17l1 0m105 121l1 0m-17 17l1 0m-55-216l1 0m-24 0l1 0m76 70l1 0m-79 22l1 0m44 136l1 0m111-131l1 0m-77-121l1 0m44 126l1 0m-34-24l1 0m-89 100l1 0m115 20l1 0m-110-196l1 0m-13 18l1 0m156 80l1 0m-116 29l1 0m-9-130l1 0m-26 186l1 0m7-147l1 0m74 122l1 0m-22-149l1 0m12 17l1 0m46 122l1 0m-80-157l1 0m18 9l1 0m0 134l1 0m-80 45l1 0m112-91l1 0m-136 28l1 0m71 105l1 0m102-117l1 0m-145-82l1 0m57-25l1 0m-94 98l1 0m86-66l1 0m-66 54l1 0m82-104l1 0m-70 72l1 0m128 121l1 0m-22-159l1 0m-120 179l1 0m-12-177l1 0m11 113l1 0m-23 23l1 0m8-19l1 0m31-65l1 0m57-65l1 0m-77 66l1 0m58-64l1 0m-19 208l1 0m-17-150l1 0m80 125l1 0m-81-163l1 0m38 166l1 0m-60-90l1 0m139 9l1 0m-159-44l1 0m124-24l1 0m-65 32l1 0m-63 48l1 0m75-100l1 0m-28 132l1 0m4-1l1 0m-9 8l1 0m-2-112l1 0m-24 76l1 0m-22-2l1 0m25-92l1 0m-5-31l1 0m-26 59l1 0m136 115l1 0m36-72l1 0m-153 89l1 0m80 0l1 0m37-29l1 0m-68-23l1 0m-3 64l1 0m-10-219l1 0m-72 127l1 0m73-98l1 0m-22 29l1 0m68 17l1 0m-90 147l1 0m90-204l1 0m-15 144l1 0m13-121l1 0m50 58l1 0m-89-113l1 0m-19 34l1 0m-50 100l1 0m75-37l1 0m-108 53l1 0m49 59l1 0m-49-43l1 0m109-135l1 0m59 46l1 0m-50 34l1 0m-46-51l1 0m54 189l1 0m-134-142l1 0m157 32l1 0m-136-96l1 0m40 38l1 0m39 137l1 0m62-168l1 0m-129 17l1 0m133-20l1 0m-31-25l1 0m-109 201l1 0m132-134l1 0m-30 159l1 0m-6-211l1 0m31 180l1 0m-68-46l1 0m-25-143l1 0m108 106l1 0m-119-117l1 0m98 107l1 0m-147-70l1 0m25 144l1 0m128-64l1 0m-74-43l1 0m-8 123l1 0m56 19l1 0m-82-124l1 0m-53-21l1 0m99 107l1 0m-6-174l1 0m51 166l1 0m-84-93l1 0m90-14l1 0m-97 31l1 0m89 54l1 0m-1-85l1 0m-15 64l1 0m-103-17l1 0m91-99l1 0m-30 24l1 0m73 133l1 0m-171 12l1 0m7-71l1 0m5 11l1 0m8 38l1 0m99-85l1 0m28 117l1 0m-25-157l1 0m5 148l1 0m14 16l1 0m-57-135l1 0m67 97l1 0m-18-134l1 0m-68 23l1 0m51-45l1 0m-141 145l1 0m152-132l1 0m-138 172l1 0m52-4l1 0m28-47l1 0m-77-14l1 0m105-79l1 0m-87 7l1 0m63 75l1 0m-7-112l1 0m87 101l1 0m-67 26l1 0m-11 79l1 0m24-157l1 0m-67 43l1 0m77 48l1 0m-153-19l1 0m21 42l1 0m151-106l1 0m-120 54l1 0m121-2l1 0m-59 115l1 0m-95-131l1 0m55-77l1 0m19 8l1 0m-42 96l1 0m131-17l1 0m-70 31l1 0m-47-157l1 0m58 16l1 0m-12 152l1 0m38-38l1 0m-137-104l1 0m54 198l1 0m11 16l1 0m-76-43l1 0m126-2l1 0m-133-54l1 0m108 75l1 0m-14 5l1 0m9-101l1 0m6-3l1 0m25-92l1 0m-148 111l1 0m171 40l1 0m-76-146l1 0m-20 97l1 0m-77 7l1 0m5-56l1 0m19 102l1 0m39 63l1 0m45-121l1 0m-73-85l1 0m31-25l1 0m-27 55l1 0m105 99l1 0m-96 10l1 0m-5-112l1 0m-50 112l1 0m116-176l1 0m-85 208l1 0m4 13l1 0m-25-180l1 0m15-10l1 0m-44 69l1 0m148 85l1 0m-107-150l1 0m124 164l1 0m-65-196l1 0m-24 232l1 0m34-23l1 0m-27-88l1 0m76-59l1 0m-73 146l1 0m-50-141l1 0m-6-13l1 0m47-44l1 0m84 172l1 0m-39-113l1 0m-2-10l1 0m-55 6l1 0m10 4l1 0m-70-27l1 0m138-12l1 0m-57 159l1 0m39-129l1 0m-95 63l1 0m14 14l1 0m3 12l1 0m-67-38l1 0m70 105l1 0m-69-144l1 0m0 92l1 0m23 39l1 0m122-183l1 0m-7 126l1 0m-133-102l1 0m162 52l1 0m-91-94l1 0m-64 167l1 0m115-45l1 0m-125 3l1 0m35-81l1 0m99-4l1 0m-105 134l1 0m66-14l1 0m15-103l1 0m-10 178l1 0m24-43l1 0m-55 42l1 0m-71-191l1 0m114 45l1 0m-107 113l1 0m-20-141l1 0m49-23l1 0m-32 162l1 0m47-120l1 0m-16 61l1 0m41-153l1 0m-43 232l1 0m48-176l1 0m-43 125l1 0m93-8l1 0m-74 0l1 0m-17-156l1 0m22 216l1 0m-73-205l1 0m80 117l1 0m-6 96l1 0m-27-125l1 0m1 76l1 0m-40-106l1 0m22 116l1 0m94-3l1 0m-64-160l1 0m-44 180l1 0m5-200l1 0m74 63l1 0m53 72l1 0m-130-108l1 0m117 47l1 0m-73 137l1 0m-57-75l1 0m31-119l1 0m-35 192l1 0m49-84l1 0m-46 4l1 0m121-84l1 0m-156 146l1 0m121-71l1 0m-96-74l1 0m-6 128l1 0m-26-78l1 0m60-66l1 0m109 46l1 0m-60-28l1 0m-29 14l1 0m21 151l1 0m-10 7l1 0m-100-160l1 0m130 49l1 0m-72-72l1 0m65 74l1 0m-26-48l1 0m-117 29l1 0m96 137l1 0m-59-159l1 0m-23 60l1 0m113-104l1 0m5 140l1 0m-74 33l1 0m79 1l1 0m22-132l1 0m-34 104l1 0m-144-66l1 0m107 96l1 0m-56-183l1 0m-48 55l1 0m96-78l1 0m43 199l1 0m-108-66l1 0m20-129l1 0m-12 212l1 0m-35-32l1 0m152-140l1 0m-16 37l1 0m-74 37l1 0m-10 117l1 0m51-220l1 0m-37-21l1 0m19 125l1 0m-73-54l1 0m-9 128l1 0m136-7l1 0m-24-90l1 0m-76-71l1 0m8 10l1 0m111 19l1 0m-70 164l1 0m62-87l1 0m-154-30l1 0m122-87l1 0m15 106l1 0m-54-9l1 0m-23-119l1 0m35 215l1 0m-16-206l1 0m42 36l1 0m-153 114l1 0m188 0l1 0m-70 8l1 0m-13-123l1 0m62 135l1 0m18-16l1 0m-153-115l1 0m-38 64l1 0m15-64l1 0m90 171l1 0m54-87l1 0m-95-135l1 0m27 174l1 0m24-93l1 0m18 45l1 0m-24-121l1 0m-95 100l1 0m94 135l1 0m-45 10l1 0m84-45l1 0m-139-38l1 0m117 73l1 0m9-159l1 0m-27 167l1 0m-71-11l1 0m86 0l1 0m-23-192l1 0m-74 151l1 0m70-6l1 0m-59-86l1 0m54 98l1 0m-95-106l1 0m23-8l1 0m0 69l1 0m45 47l1 0m-70-105l1 0m57 129l1 0m-48-79l1 0m153-54l1 0m-144 142l1 0m103-42l1 0m-7-86l1 0m-76-92l1 0m68 2l1 0m-27 21l1 0m-73 181l1 0m121-124l1 0m-95 64l1 0m43 32l1 0m-48-33l1 0m84-22l1 0m-123-2l1 0m9-115l1 0m102-6l1 0m-62 99l1 0m4 113l1 0m-28-2l1 0m-31-192l1 0m-2 66l1 0m55 148l1 0m94-181l1 0m-54 116l1 0m-7 58l1 0m65-164l1 0m-87-77l1 0m-43 80l1 0m18 108l1 0m-8 4l1 0m24-169l1 0m-44 136l1 0m78-91l1 0m-7-28l1 0m-94 106l1 0m137-82l1 0m-35-57l1 0m35 194l1 0m-166-52l1 0m116 98l1 0m-47-83l1 0m57-8l1 0m-36-48l1 0m21-100l1 0m-54 43l1 0m89 25l1 0m19 97l1 0m-15-33l1 0m-74-26l1 0m41 21l1 0m-119-22l1 0m127-75l1 0m-6 102l1 0m-137 30l1 0m36-114l1 0m2 153l1 0m136-145l1 0m-12 98l1 0m18-25l1 0m-181-61l1 0m81 52l1 0m-81-64l1 0m112 186l1 0m-24-246l1 0m81 178l1 0m-114 22l1 0m6-12l1 0m70-24l1 0m-19-143l1 0m-70 172l1 0m-9-100l1 0m92-54l1 0m-8-15l1 0m29 21l1 0m-62 156l1 0m-38-111l1 0m119 7l1 0m-109 64l1 0m75 58l1 0m-124-187l1 0m7 34l1 0m103 114l1 0m-77-140l1 0m116 78l1 0m-131-41l1 0m-42 57l1 0m-11 1l1 0m144 62l1 0m-117-21l1 0m98 13l1 0m20-25l1 0m-43 81l1 0m38-207l1 0m-36-36l1 0m-16 9l1 0m-89 177l1 0m95 23l1 0m42-73l1 0m-10 84l1 0m-120-114l1 0m-13-21l1 0m127-46l1 0m-86 144l1 0m68 14l1 0m-48-103l1 0m-30 34l1 0m109-81l1 0m-147 90l1 0m122-131l1 0m35 70l1 0m-2-1l1 0m-119 138l1 0m97-80l1 0m-131-20l1 0m9 70l1 0m79 43l1 0m8-9l1 0m-67-187l1 0m67 184l1 0m-106-160l1 0m58 139l1 0m35-81l1 0m78-33l1 0m-87 133l1 0m-14-173l1 0m77 153l1 0m-2-76l1 0m-90 134l1 0m-77-83l1 0m-7-61l1 0m94 112l1 0m-52-163l1 0m91 180l1 0m-120-146l1 0m82 123l1 0m-43-123l1 0m75 16l1 0m-45 146l1 0m90-126l1 0m-158 22l1 0m74 28l1 0m-59 48l1 0m43-41l1 0m-32 54l1 0m107-162l1 0m-59 151l1 0m89-101l1 0m-119 21l1 0m-66-23l1 0m161-86l1 0m-46 15l1 0m-40-34l1 0m-55 85l1 0m5 60l1 0m-6-131l1 0m4 67l1 0m53-97l1 0m-36 150l1 0m-6 65l1 0m80-66l1 0m24-11l1 0m-54-3l1 0m30-114l1 0m-119 30l1 0m87-24l1 0m-39 5l1 0m-54 140l1 0m170-96l1 0m-163 67l1 0m43-78l1 0m46-16l1 0m-89 88l1 0m108-33l1 0m-109 27l1 0m102 63l1 0m11-98l1 0m-98 134l1 0m-21-178l1 0m3 17l1 0m106 88l1 0m-73-89l1 0m-52 91l1 0m50-57l1 0m24-83l1 0m103 120l1 0m-150 42l1 0m59 42l1 0m-102-155l1 0m7-2l1 0m-10 35l1 0m36 65l1 0m106-54l1 0m-15-37l1 0m-121 7l1 0m22 132l1 0m82 19l1 0m-92-174l1 0m73-49l1 0m-41 65l1 0m-22 135l1 0m21-39l1 0m98 24l1 0m-100-12l1 0m110-89l1 0m-172-18l1 0m177 2l1 0m-20-56l1 0m-111 110l1 0m-38 48l1 0m74-114l1 0m-61 43l1 0m68-115l1 0m-31 29l1 0m21 25l1 0m-28 91l1 0m108-39l1 0m-134-66l1 0m87 206l1 0m-32-188l1 0m36-28l1 0m-102 186l1 0m118-140l1 0m-72 166l1 0m12-243l1 0m-25 23l1 0m37 194l1 0m-65 13l1 0m38-100l1 0m42 80l1 0m-21-186l1 0m70 117l1 0m-177 18l1 0m93-35l1 0m74 8l1 0m-155-24l1 0m57 80l1 0m109-11l1 0m-42-156l1 0m-99 183l1 0m90-115l1 0m29-4l1 0m-88-58l1 0m-27 43l1 0m124 33l1 0m-82 95l1 0m20 37l1 0m-7 20l1 0m29-46l1 0m-95-93l1 0m90 82l1 0m-12 18l1 0m-119-24l1 0m145-70l1 0m-33-60l1 0m-89 64l1 0m-36 35l1 0m37-5l1 0m66 79l1 0m-17-72l1 0m-75 14l1 0m170-17l1 0m-22 5l1 0m-49 82l1 0m-106-115l1 0m165 43l1 0m-150-105l1 0m87-68l1 0m54 136l1 0m-8 37l1 0m-31-147l1 0m15 7l1 0m16 163l1 0m12-44l1 0m10-14l1 0m-146 87l1 0m-47-62l1 0m181-77l1 0m-127 45l1 0m73 17l1 0m-27 106l1 0m28-82l1 0m-72-140l1 0m124 99l1 0m-41-18l1 0m-100 81l1 0m60-137l1 0m-106 14l1 0m180 30l1 0m-3-7l1 0m-58-57l1 0m12 188l1 0m-93-39l1 0m101-80l1 0m-11-26l1 0m-63 161l1 0m50-91l1 0m10-118l1 0m42 152l1 0m-132 55l1 0m28-239l1 0m56 62l1 0m2-43l1 0m-21 213l1 0m-26-20l1 0m11 7l1 0m16-4l1 0m-99-99l1 0m51-93l1 0m-42 43l1 0m113-7l1 0m18 72l1 0m-132 54l1 0m-6-141l1 0m38 58l1 0m78-81l1 0m-94 73l1 0m-38-35l1 0m-22 20l1 0m-3 51l1 0m133 70l1 0m19-176l1 0m-150 48l1 0m155-31l1 0m-36-24l1 0m-112 33l1 0m-17 87l1 0m163-71l1 0m14 39l1 0m-3 91l1 0m1-80l1 0m-121-114l1 0m-12 188l1 0m47-43l1 0m2 37l1 0m60-31l1 0m-31 72l1 0m-34-49l1 0m22-149l1 0m-60 4l1 0m-32 67l1 0m154 70l1 0m-114 84l1 0m13-129l1 0m24 116l1 0m-35-68l1 0m84 14l1 0m-62 58l1 0m-5-201l1 0m57 23l1 0m-16 86l1 0m-96-133l1 0m23 229l1 0m58-6l1 0m-15 12l1 0m-54-97l1 0m-47 8l1 0m28 4l1 0m129-38l1 0m-76-84l1 0m-71 85l1 0m-20 57l1 0m95-163l1 0m-38 51l1 0m-70 47l1 0m59 39l1 0m-6-1l1 0m70-3l1 0m-19-42l1 0m-72-57l1 0m60 188l1 0m-71-220l1 0m33 36l1 0m-38 104l1 0m150 1l1 0m-71 76l1 0m73-91l1 0m-118-21l1 0m-20 31l1 0m-33-88l1 0m89 174l1 0m-46-31l1 0m85-193l1 0m-46-29l1 0m-17 213l1 0m0-186l1 0m-37 70l1 0m45 96l1 0m-74 0l1 0m33-78l1 0m99-51l1 0m-65 173l1 0m-21-234l1 0m2 26l1 0m-1 123l1 0m-52 62l1 0m94-126l1 0m-46 56l1 0m74 91l1 0m-30-220l1 0m-6 234l1 0m-12-171l1 0m-50 117l1 0m113-36l1 0m-121 12l1 0m-13-137l1 0m119-7l1 0m-73 203l1 0m88-179l1 0m8 121l1 0m-97-68l1 0m0 21l1 0m45 63l1 0m1-95l1 0m-84-77l1 0m7 6l1 0m-20 45l1 0m40-49l1 0m57 72l1 0m-77 86l1 0m109-13l1 0m-47-148l1 0m9 51l1 0m-105 17l1 0m86 68l1 0m-84-107l1 0m146 35l1 0m-30 34l1 0m-9-77l1 0m2 39l1 0m-23-50l1 0m-9 162l1 0m-12-62l1 0m2-8l1 0m-99-23l1 0m160 81l1 0m-75-159l1 0m-29 204l1 0m50-163l1 0m-9 126l1 0m10-2l1 0m-83-47l1 0m-22 80l1 0m110-159l1 0m-36 180l1 0m-88-138l1 0m120 84l1 0m-60 59l1 0m-48-31l1 0m158-82l1 0m-52 111l1 0m-89-222l1 0m65 106l1 0m15-98l1 0m-53 183l1 0m-17-188l1 0m-35 91l1 0m-4 90l1 0m-1-162l1 0m61 56l1 0m-65 105l1 0m44-63l1 0m-47-24l1 0m30 14l1 0m-17-68l1 0m55 2l1 0m79 95l1 0m5 44l1 0m-154-28l1 0m-3 39l1 0m152-157l1 0m-134 61l1 0m97-94l1 0m12 119l1 0m-12 94l1 0m-115-87l1 0m24-134l1 0m44 106l1 0m73 65l1 0m-153-131l1 0m80 123l1 0m-109-42l1 0m186 39l1 0m-66 14l1 0m-111-38l1 0m125 23l1 0m15-32l1 0m-3 10l1 0m-105-118l1 0m74-18l1 0m16 229l1 0m-19-4l1 0m70-125l1 0m-52-98l1 0m7 152l1 0m-70-64l1 0m97 105l1 0m-168-104l1 0m50 104l1 0m34 18l1 0m-55-87l1 0m106-14l1 0m6 101l1 0m17-17l1 0m-106-32l1 0m6-12l1 0m-33 27l1 0m89 31l1 0m-96-191l1 0m14 153l1 0m-3-149l1 0m80 26l1 0m-12 5l1 0m-57-32l1 0m27 166l1 0m-11-140l1 0m-53 6l1 0m81 147l1 0m-88-122l1 0m62 98l1 0m-5-103l1 0m-44 19l1 0m39-62l1 0m73-19l1 0m-70 213l1 0m13-151l1 0m48 71l1 0m-127 12l1 0m94-99l1 0m-11 184l1 0m-70-163l1 0m40 49l1 0m70-55l1 0m-131 122l1 0m17-70l1 0m119 47l1 0m12-4l1 0m-42-97l1 0m-70-75l1 0m-33 28l1 0m-19 145l1 0m22-108l1 0m40 114l1 0m13-149l1 0m-21 201l1 0m58 10l1 0m-133-105l1 0m173 1l1 0m-11-110l1 0m-64 52l1 0m74 11l1 0m-59 36l1 0m50-18l1 0m-60 140l1 0m20-144l1 0m61 44l1 0m-190-64l1 0m161-36l1 0m-137 93l1 0m149-24l1 0m-21 20l1 0m-60-148l1 0m-9 5l1 0m81 129l1 0m-129 59l1 0m4-103l1 0m23-49l1 0m23-34l1 0m26 184l1 0m-38-6l1 0m0-15l1 0m-41-11l1 0m-51-28l1 0m94 7l1 0m-54-39l1 0m30 103l1 0m-50-33l1 0m150-35l1 0m-35-92l1 0m-34-10l1 0m83 72l1 0m-125-44l1 0m-28 166l1 0m-4-198l1 0m39-17l1 0m58 149l1 0m-123-29l1 0m135-62l1 0m25-12l1 0m-50-2l1 0m-77 142l1 0m15-13l1 0m102-140l1 0m-131-11l1 0m9 183l1 0m75-147l1 0m-9 68l1 0m52-43l1 0m-73 55l1 0m-70-108l1 0m0 56l1 0m-10-11l1 0m149-17l1 0m-176 66l1 0m174-91l1 0m8 101l1 0m-163 9l1 0m29 16l1 0m4-27l1 0m50-62l1 0m-100 16l1 0m23 44l1 0m0 1l1 0m-21 50l1 0m43-148l1 0m70-6l1 0m-73 10l1 0m63 4l1 0m-37 203l1 0m-35-157l1 0m-11-59l1 0m117 171l1 0m-65-204l1 0m82 189l1 0m-125-53l1 0m-8 14l1 0m22 57l1 0m1-71l1 0m-42-31l1 0m5 121l1 0m74-64l1 0m-76-111l1 0m-29 110l1 0m174 27l1 0m-134-72l1 0m39 77l1 0m-6-148l1 0m19-49l1 0m60 212l1 0m-86 4l1 0m-21 23l1 0m-32-167l1 0m-24 86l1 0m114 89l1 0m43-58l1 0m-102 26l1 0m-29-49l1 0m27-53l1 0m-36 66l1 0m132-58l1 0m-151-32l1 0m143-67l1 0m-117 85l1 0m105-35l1 0m-80 11l1 0m107 125l1 0m-10-151l1 0m-103 187l1 0m-18-49l1 0m-22-132l1 0m27-19l1 0m-14 164l1 0m68-79l1 0m51 50l1 0m-72-149l1 0m-41 163l1 0m85-138l1 0m-19 131l1 0m-83-131l1 0m-4 111l1 0m114-39l1 0m16-78l1 0m-1 162l1 0m-94 31l1 0m91-17l1 0m-8-29l1 0m-112 39l1 0m150-111l1 0m-120 33l1 0m101 11l1 0m-62 49l1 0m-16-77l1 0m-107-28l1 0m60 83l1 0m89-165l1 0m-9 216l1 0m3-152l1 0m-96-77l1 0m18-13l1 0m-28 158l1 0m120-34l1 0m-79 109l1 0m60-166l1 0m-132 106l1 0m29-81l1 0m-1 79l1 0m44-173l1 0m21 3l1 0m64 123l1 0m-9-90l1 0m-2 120l1 0m-118-135l1 0m-13 176l1 0m-17-73l1 0m114 70l1 0m-109-95l1 0m11 44l1 0m19 71l1 0m94-7l1 0m15-11l1 0m-107-160l1 0m23 202l1 0m60-18l1 0m-128-58l1 0m-7-86l1 0m110-17l1 0m7-3l1 0m-16-1l1 0m20-36l1 0m-25 69l1 0m-80-43l1 0m-22 111l1 0m104 9l1 0m-89-43l1 0m-36-11l1 0m56-42l1 0m-42 96l1 0m39 50l1 0m5-196l1 0m105 173l1 0m-2-7l1 0m-101-33l1 0m30 36l1 0m-58-107l1 0m131-21l1 0m-95-53l1 0m-32 181l1 0m113-131l1 0m9 107l1 0m-152-119l1 0m-9 43l1 0m151 16l1 0m-47 15l1 0m-52 64l1 0m27-113l1 0m51 89l1 0m-63-60l1 0m-40 56l1 0m21 66l1 0m104-98l1 0m-44 114l1 0m-53-215l1 0m72 83l1 0m-127 96l1 0m58 50l1 0m-67-172l1 0m125-6l1 0m-102 158l1 0m105-207l1 0m8 132l1 0m-94 64l1 0m22-6l1 0m-29-155l1 0m72-36l1 0m-54 118l1 0m0-134l1 0m65 142l1 0m-143-31l1 0m68 75l1 0m-4-178l1 0m24 165l1 0m52-159l1 0m-105 187l1 0m-27-41l1 0m35-73l1 0m97 33l1 0m22 73l1 0m-164-117l1 0m22 125l1 0m-31-130l1 0m114 168l1 0m-56-46l1 0m6-172l1 0m-12 162l1 0m7-51l1 0m109-52l1 0m-46 114l1 0m-86-185l1 0m19 14l1 0m12 202l1 0m78-79l1 0m-61-95l1 0m11 166l1 0m-76-160l1 0m90 175l1 0m-73-32l1 0m100-171l1 0m-76 187l1 0m-60-23l1 0m129-88l1 0m-69-53l1 0m31 31l1 0m24-41l1 0m-82-3l1 0m97-10l1 0m-97 172l1 0m92-83l1 0m-146-16l1 0m156 3l1 0m-103-25l1 0m74 82l1 0m6 4l1 0m-127-21l1 0m125 25l1 0m-54 30l1 0m63-83l1 0m4-57l1 0m-165 87l1 0m152-106l1 0m-101 186l1 0m63-81l1 0m52 12l1 0m-93-162l1 0m-86 139l1 0m195-40l1 0m-119 98l1 0m77-58l1 0m-25-33l1 0m-103-78l1 0m-7 55l1 0m102 59l1 0m-21-109l1 0m21 76l1 0m-25 107l1 0m-35 3l1 0m-44-11l1 0m153-124l1 0m-89 3l1 0m-71-17l1 0m14 77l1 0m79-73l1 0m32-41l1 0m-147 84l1 0m136 76l1 0m-24-83l1 0m27 109l1 0m-65-174l1 0m-9-23l1 0m121 98l1 0m-20 36l1 0m-97-142l1 0m-36 168l1 0m-13-96l1 0m119-20l1 0m1 132l1 0m13-160l1 0m-60 205l1 0m9-107l1 0m-3-1l1 0m66-67l1 0m-4 110l1 0m-88-17l1 0m-50 48l1 0m26-57l1 0m9 89l1 0m75-41l1 0m-127-119l1 0m2 95l1 0m98 20l1 0m-17-153l1 0m-34 205l1 0m11-223l1 0m-32 152l1 0m-27-65l1 0m19 20l1 0m111-19l1 0m-119 59l1 0m-1-16l1 0m61 85l1 0m25-94l1 0m-92-31l1 0m42-73l1 0m16 173l1 0m-30 8l1 0m42 1l1 0m-24-153l1 0m-1 94l1 0m-78-121l1 0m30 132l1 0m-48-7l1 0m124-94l1 0m-100 132l1 0m116-128l1 0m-57-16l1 0m-4 131l1 0m-40-118l1 0m-47 75l1 0m66-158l1 0m69 191l1 0m-140-23l1 0m140-114l1 0m-49 50l1 0m15 152l1 0m54-62l1 0m-124-52l1 0m112-35l1 0m-123-57l1 0m111-20l1 0m-10 176l1 0m-22-165l1 0m0 141l1 0m-28 44l1 0m-3 4l1 0m53-38l1 0m-114-145l1 0m-37 82l1 0m106 102l1 0m-31-181l1 0m66 70l1 0m35 84l1 0m-42-149l1 0m-100-15l1 0m128 130l1 0m-59-170l1 0m17 254l1 0m-44-176l1 0m-71 29l1 0m140 108l1 0m-75-181l1 0m-38 142l1 0m49 36l1 0m75-60l1 0m-144-64l1 0m81 145l1 0m6-222l1 0m-24 174l1 0m-54-44l1 0m74-18l1 0m-53-102l1 0m-22 195l1 0m19-124l1 0m55-74l1 0m-46 172l1 0m38-49l1 0m8-136l1 0m-4 224l1 0m64-45l1 0m-64-156l1 0m62 156l1 0m-33-106l1 0m31 14l1 0m4 46l1 0m-147 0l1 0m39 110l1 0m92-50l1 0m-91 47l1 0m-38-218l1 0m59-16l1 0m-97 62l1 0m134 124l1 0m45-71l1 0m-141 105l1 0m-5-107l1 0m116-15l1 0m-36 117l1 0m-72-198l1 0m-30 44l1 0m105 77l1 0m10-6l1 0m17-77l1 0m-46 100l1 0m-110 24l1 0m58-4l1 0m68 38l1 0m-99-154l1 0m-17 134l1 0m75-140l1 0m-48 40l1 0m91 32l1 0m-97-86l1 0m114 78l1 0m-48 1l1 0m-73-61l1 0m21 173l1 0m49-37l1 0m-104-44l1 0m18 23l1 0m-31-22l1 0m14-38l1 0m-12 5l1 0m13 88l1 0m-10-20l1 0m134 15l1 0m-33-207l1 0m-62 124l1 0m61-88l1 0m-117 87l1 0m3 2l1 0m63 13l1 0m-27-88l1 0m72 159l1 0m4-41l1 0m-109-62l1 0m14 70l1 0m28-149l1 0m6 156l1 0m39 46l1 0m7-202l1 0m-78 163l1 0m-14 22l1 0m9-158l1 0m118 19l1 0m-116 135l1 0m-12-130l1 0m49-43l1 0m113 132l1 0m0-2l1 0m-172-35l1 0m85-80l1 0m87 63l1 0m-58 122l1 0m-14-80l1 0m-1-74l1 0m-53 16l1 0m80-63l1 0m30 119l1 0m-106 75l1 0m-41-155l1 0m73 97l1 0m-81-50l1 0m53 16l1 0m-3-78l1 0m87 93l1 0m-152-99l1 0m162 52l1 0m-147 34l1 0m81-11l1 0m-65 25l1 0m59-22l1 0m0-127l1 0m52 91l1 0m-22 4l1 0m-122 19l1 0m42-16l1 0m71 129l1 0m-127-58l1 0m27-38l1 0m106-40l1 0m-7-58l1 0m-23 95l1 0m-40-92l1 0m-81 131l1 0m106-158l1 0m-69 222l1 0m43-93l1 0m6 49l1 0m52-145l1 0m6 160l1 0m-64 21l1 0m25-61l1 0m55-97l1 0m-174 49l1 0m131 70l1 0m7-56l1 0m-89-19l1 0m-53-12l1 0m39 135l1 0m80-53l1 0m-4 41l1 0m-34-183l1 0m-15 117l1 0m15 70l1 0m36-172l1 0m16 60l1 0m-130-60l1 0m-5 81l1 0m16-72l1 0m60-21l1 0m-17 13l1 0m7 135l1 0m12 21l1 0m35-146l1 0m-59-6l1 0m27-8l1 0m73 15l1 0m-72 133l1 0m-59 0l1 0m-10-34l1 0m105-144l1 0m-80 190l1 0m124-137l1 0m-169 26l1 0m-5-32l1 0m58-2l1 0m15 114l1 0m77-145l1 0m-134 187l1 0m24-204l1 0m24 48l1 0m-8 166l1 0m106-52l1 0m-30 8l1 0m-72-157l1 0m-4-21l1 0m-34 82l1 0m118 7l1 0m8-32l1 0m-26-36l1 0m-13 25l1 0m-78 101l1 0m51 83l1 0m67-92l1 0m-137 0l1 0m24 102l1 0m16-33l1 0m-57-5l1 0m43-29l1 0m15-36l1 0m-66-54l1 0m144 106l1 0m-87 49l1 0m-74-174l1 0m66-52l1 0m19 80l1 0m75 0l1 0m-117-82l1 0m-4 181l1 0m-50-34l1 0m19-6l1 0m45 1l1 0m-15-14l1 0m45 86l1 0m10-54l1 0m-104-101l1 0m44-3l1 0m-14 132l1 0m77-201l1 0m-118 138l1 0m157-66l1 0m-135 73l1 0m12-139l1 0m-4 177l1 0m109-162l1 0m-28 86l1 0m-13-65l1 0m48 100l1 0m20-71l1 0m-11 122l1 0m-51-136l1 0m-8 136l1 0m26-5l1 0m45-32l1 0m-187-45l1 0m83-87l1 0m-51 193l1 0m13-31l1 0m-49-54l1 0m142-89l1 0m-52 158l1 0m-86-71l1 0m36-9l1 0m110 86l1 0m-148-132l1 0m90-47l1 0m-89 153l1 0m160-12l1 0m-156-26l1 0m-29-57l1 0m25 62l1 0m2-29l1 0m-4 23l1 0m4-112l1 0m-12 112l1 0m-17-7l1 0m-3 21l1 0m9-42l1 0m-2 26l1 0m6-2l1 0m7-95l1 0m-14 80l1 0m-32-46l1 0m2 43l1 0m5-11l1 0m-8-22l1 0m43 13l1 0m-41 48l1 0m13-80l1 0m-22 110l1 0m49-68l1 0m0 17l1 0m-3 3l1 0m-29-100l1 0m-2 133l1 0m19 32l1 0m-18-86l1 0m-9-3l1 0m16-16l1 0m17-3l1 0m-3 52l1 0m-36 29l1 0m-5-92l1 0m19 94l1 0m9-16l1 0m-38-81l1 0m32 12l1 0m-32 28l1 0m0 55l1 0m9-124l1 0m10 67l1 0m9 24l1 0m-32 8l1 0m43-90l1 0m-4 123l1 0m-1-98l1 0m4 27l1 0m-22 42l1 0m-1 33l1 0m-29-92l1 0m6-23l1 0m40 17l1 0m-43 17l1 0m22 12l1 0m-15 49l1 0m-5-29l1 0m28 63l1 0m-14-99l1 0m-23 43l1 0m20-5l1 0m-26-3l1 0m27-87l1 0m-28 63l1 0m28 12l1 0m6-5l1 0m-39-58l1 0m31 131l1 0m-28-78l1 0m-1-19l1 0m42 60l1 0m-40-2l1 0m12 54l1 0m-10-96l1 0m29-14l1 0m-19 81l1 0m17-122l1 0m-21 133l1 0m13-114l1 0m-11 110l1 0m-29-35l1 0m21-88l1 0m-1 35l1 0m18 35l1 0m-24-46l1 0m24 57l1 0m-5 10l1 0m-16-27l1 0m-18 29l1 0m15-64l1 0m-15 43l1 0m16-31l1 0m13-13l1 0m-39 57l1 0m45-67l1 0m-6 34l1 0m-36-68l1 0m34 76l1 0m-37-52l1 0m27 3l1 0m-1 31l1 0m-4 63l1 0m-2-61l1 0m-8-46l1 0m-17 46l1 0m23 72l1 0m-17-44l1 0m-5-60l1 0m-14 42l1 0m-2 32l1 0m45-27l1 0m4 68l1 0m-30-10l1 0m-19 29l1 0m23-41l1 0m-20-13l1 0m-8-9l1 0m40-40l1 0m-7-1l1 0m-23 21l1 0m-13-12l1 0m13-10l1 0m27 100l1 0m-15-112l1 0m3 83l1 0m4-135l1 0m-29 65l1 0m35 7l1 0m-14-9l1 0m6 62l1 0m8-57l1 0m-16 20l1 0m-34 75l1 0m22-75l1 0m-22 64l1 0m33-62l1 0m-15-14l1 0m1 1l1 0m-9 62l1 0m-8 14l1 0m29-84l1 0m-35 55l1 0m8-65l1 0m-2-1l1 0m20 85l1 0m10-61l1 0m-36-73l1 0m-6 104l1 0m37-108l1 0m-45 44l1 0m18 43l1 0m0 22l1 0m-12-40l1 0m30 45l1 0m-17-54l1 0m-22 23l1 0m11-4l1 0m23-38l1 0m-41-23l1 0m50 25l1 0m-3 45l1 0m-42 0l1 0m41 35l1 0m-4-26l1 0m-1-62l1 0m-11 40l1 0m-9-25l1 0m-23 59l1 0m37-1l1 0m-1-3l1 0m-19-3l1 0m-5-48l1 0m12-31l1 0m11 52l1 0m-23-59l1 0m-26 126l1 0m14-86l1 0m-15 33l1 0m4 35l1 0m-1 3l1 0m35-76l1 0m-23 115l1 0m3-88l1 0m-19 21l1 0m6 13l1 0m-2-40l1 0m-3 52l1 0m5-77l1 0m4-31l1 0m9 107l1 0m-18-28l1 0m-10-59l1 0m36 76l1 0m-33-85l1 0m32 96l1 0m-23-48l1 0m-18 84l1 0m20-96l1 0m-22 12l1 0m26-31l1 0m-1 65l1 0m17 40l1 0m-13-22l1 0m-14-3l1 0m-6-81l1 0m-13 38l1 0m-4 24l1 0m21 43l1 0m-11-137l1 0m5 27l1 0m-4 8l1 0m-1 31l1 0m22 88l1 0m-20-167l1 0m3 125l1 0m-30-89l1 0m19 110l1 0m-17-85l1 0m7 19l1 0m7 63l1 0m24-18l1 0m-6-35l1 0m3 31l1 0m-7 42l1 0m-32-63l1 0m36 34l1 0m-2-36l1 0m5-6l1 0m-37 47l1 0m23-25l1 0m-9-78l1 0m5 80l1 0m-7-101l1 0m11 114l1 0m-4-19l1 0m8-99l1 0m-27 65l1 0m-9 60l1 0m24-57l1 0m-33 25l1 0m36-68l1 0m-9 33l1 0m14 5l1 0m-19-14l1 0m-32 55l1 0m15-118l1 0m-6 93l1 0m26 36l1 0m-6 1l1 0m-19-50l1 0m-11-31l1 0m33 77l1 0m-29-98l1 0m38 50l1 0m-13 71l1 0m-36-77l1 0m22 77l1 0m-20-28l1 0m-6-52l1 0m39-19l1 0m5-21l1 0m-38 25l1 0m4 35l1 0m-7 6l1 0m36 3l1 0m-21-9l1 0m-6 31l1 0m-13-54l1 0m15-6l1 0m-1 67l1 0m19-31l1 0m-41-9l1 0m30-5l1 0m-32-5l1 0m-7 7l1 0m20 9l1 0m-2-37l1 0m0 54l1 0m20 49l1 0m2-23l1 0m0-15l1 0m3 8l1 0m-11-93l1 0m-19 46l1 0m3-24l1 0m8 53l1 0m1-50l1 0m-5 51l1 0m-7-68l1 0m17 27l1 0m-45 82l1 0m21-138l1 0m8 39l1 0m-30-47l1 0m40 138l1 0m-11-76l1 0m-35-33l1 0m42-4l1 0m0 75l1 0m-38-15l1 0m19 43l1 0m9-34l1 0m-15-58l1 0m1 22l1 0m2-17l1 0m-25 68l1 0m-3-70l1 0m45 14l1 0m-8-43l1 0m-28 43l1 0m26 87l1 0m-28-45l1 0m-3 15l1 0m-14-19l1 0m23 0l1 0m9-30l1 0m5-14l1 0m-4 15l1 0m-34-37l1 0m32 70l1 0m1-12l1 0m-35 42l1 0m20-30l1 0m3-64l1 0m-1 107l1 0m20-82l1 0m-39 37l1 0m-4-13l1 0m-4-8l1 0m0-50l1 0m7 14l1 0m23 108l1 0m-25-77l1 0m-7-25l1 0m-7 67l1 0m0-80l1 0m23 35l1 0m0 86l1 0m-14-160l1 0m25 113l1 0m-4-1l1 0m-31-28l1 0m22-29l1 0m-16 13l1 0m-10 58l1 0m-4-113l1 0m8 112l1 0m35 15l1 0m-28-110l1 0m-1 62l1 0m0-52l1 0m16 117l1 0m-37-50l1 0m6-11l1 0m-6-4l1 0m-1 29l1 0m4-16l1 0m15-12l1 0m-17 15l1 0m1-34l1 0m18-11l1 0m-15 77l1 0m5-66l1 0m21 71l1 0m-32-105l1 0m8 27l1 0m-21 78l1 0m9-29l1 0m-13-95l1 0m39 97l1 0m-40-10l1 0m34-10l1 0m-6 70l1 0m-26-19l1 0m29-107l1 0m-30-4l1 0m7 5l1 0m0 27l1 0m-17 48l1 0m3 39l1 0m39-64l1 0m-19-1l1 0m-16 19l1 0m33-47l1 0m-28 58l1 0m19-42l1 0m4 49l1 0m-42-59l1 0m13-29l1 0m-8 51l1 0m37 15l1 0m-20-3l1 0m-9-73l1 0m2 66l1 0m-19-33l1 0m21 18l1 0m-27-31l1 0m18 80l1 0m7-105l1 0m-20 56l1 0m32 25l1 0m-5-96l1 0m-34 148l1 0m0-12l1 0m5-104l1 0m25 88l1 0m-38 13l1 0m-2-50l1 0m22 45l1 0m-24-59l1 0m-5 50l1 0m18-72l1 0m28-16l1 0m-7-31l1 0m-43 107l1 0m15-99l1 0m-12 97l1 0m37-74l1 0m-21 54l1 0m-10 30l1 0m-7-17l1 0m14-36l1 0m11-42l1 0m-22 90l1 0m3-42l1 0m16-10l1 0m-14 23l1 0m-1 45l1 0m22-42l1 0m-37-7l1 0m-6 19l1 0m1-20l1 0m0 43l1 0m5-96l1 0m31 36l1 0m-35-27l1 0m16-18l1 0m8 39l1 0m-8 54l1 0m-11-37l1 0m30 31l1 0m51-149l1 0m119 145l1 0m-59 101l1 0m12-228l1 0m-48-31l1 0m86 179l1 0m-49 76l1 0m-90-237l1 0m141 98l1 0m-30-76l1 0m29 115l1 0m-15-78l1 0m9 59l1 0m-141-118l1 0m33-11l1 0m-24 9l1 0m116 42l1 0m-5 0l1 0m-73-53l1 0m64 228l1 0m26-130l1 0m-43-76l1 0m29 173l1 0m-54-184l1 0m13 245l1 0m-56-259l1 0m55 19l1 0m-67-4l1 0m73 23l1 0m7 199l1 0m1-5l1 0m28-138l1 0m-63-87l1 0m25 31l1 0m30 143l1 0m-111-166l1 0m116 83l1 0m-45 149l1 0m42-101l1 0m-97-147l1 0m40 261l1 0m48-173l1 0m-142-63l1 0m65-17l1 0m79 95l1 0m-18-53l1 0m5 28l1 0m-21-37l1 0m13 176l1 0m-130-184l1 0m58-25l1 0m18 9l1 0m17 238l1 0m47-111l1 0m-13 68l1 0m-21-177l1 0m10 11l1 0m-109-30l1 0m107 30l1 0m-112-29l1 0m4 0l1 0m7-2l1 0m124 145l1 0m-32 69l1 0m23-105l1 0m-75-114l1 0m67 184l1 0m-14-148l1 0m18 51l1 0m-75-89l1 0m-20-7l1 0m74 42l1 0m-75-43l1 0m40 17l1 0m-87 2l1 0m87 238l1 0m55-134l1 0m-138-107l1 0m118 194l1 0m4-20l1 0m-80-186l1 0m60 39l1 0m16 40l1 0m10 67l1 0m-81-140l1 0m66 197l1 0m-52-194l1 0m63 87l1 0m0 12l1 0m-19 112l1 0m5-15l1 0m1-24l1 0m-33 61l1 0m39-105l1 0m-140-116l1 0m134 157l1 0m4-72l1 0m-102-104l1 0m-15 4l1 0m115 101l1 0m-55 144l1 0m-39-251l1 0m91 143l1 0m-144-121l1 0m77-12l1 0m35 217l1 0m-9-195l1 0m-16 213l1 0m-47-243l1 0m75 46l1 0m-117-39l1 0m98 227l1 0m-14-223l1 0m2 5l1 0m38 181l1 0m10-44l1 0m-85-155l1 0m81 149l1 0m-52-137l1 0m13 20l1 0m-91-26l1 0m110 201l1 0m-58-201l1 0m0 4l1 0m71 145l1 0m-59-145l1 0m19 23l1 0m-58-34l1 0m80 65l1 0m-111-54l1 0m89 220l1 0m7-192l1 0m-14 202l1 0m39-114l1 0m-12 64l1 0m-115-177l1 0m105 39l1 0m-5-9l1 0m-22 193l1 0m42-74l1 0m-16 45l1 0m11-115l1 0m-74-87l1 0m55 47l1 0m-94-46l1 0m111 90l1 0m-10-27l1 0m-49 188l1 0m9-240l1 0m-7 245l1 0m48-85l1 0m-2-88l1 0m-65-84l1 0m12 5l1 0m37 32l1 0m7 142l1 0m-90-178l1 0m13-2l1 0m33 12l1 0m15 22l1 0m6 189l1 0m-5-196l1 0m31 92l1 0m-9-57l1 0m14 79l1 0m-32-107l1 0m-31-32l1 0m52 139l1 0m-41-124l1 0m-54-17l1 0m19 3l1 0m21 1l1 0m-92 1l1 0m144 99l1 0m-93-113l1 0m77 76l1 0m-101-70l1 0m96 210l1 0m15-63l1 0m-1-14l1 0m-132-121l1 0m54-7l1 0m26 242l1 0m9-10l1 0m-45-235l1 0m56 225l1 0m9-167l1 0m16 53l1 0m-51-104l1 0m1 241l1 0m47-110l1 0m-14-79l1 0m-48-52l1 0m59 101l1 0m-103-108l1 0m82 217l1 0m-64-220l1 0m26 7l1 0m-85 7l1 0m89 3l1 0m35 59l1 0m-10 144l1 0m-83-220l1 0m-29 15l1 0m131 154l1 0m-107-170l1 0m103 173l1 0m4-64l1 0m-129-96l1 0m28-15l1 0m6 7l1 0m-16-4l1 0m-2-1l1 0m-27 13l1 0m-18 15l1 0m148 78l1 0m-30-64l1 0m25 135l1 0m1-23l1 0m-150-126l1 0m8-19l1 0m140 143l1 0m-46-121l1 0m-34-20l1 0m63 190l1 0m9-98l1 0m-73-89l1 0m-33-10l1 0m81 217l1 0m1 3l1 0m11-151l1 0m-97-72l1 0m57 11l1 0m39 65l1 0m-7-21l1 0m-24-26l1 0m-113-9l1 0m33-13l1 0m102 185l1 0m-11-150l1 0m4 161l1 0m-23-175l1 0m3 204l1 0m6-197l1 0m6 182l1 0m-85-215l1 0m79 222l1 0m-17 13l1 0m40-116l1 0m-12 77l1 0m-68-195l1 0m55 211l1 0m-13 20l1 0m33-125l1 0m-51-92l1 0m36 44l1 0m0 144l1 0m-4-152l1 0m-36-45l1 0m35 60l1 0m-123-55l1 0m62-6l1 0m-22-8l1 0m55 236l1 0m-58-242l1 0m70 228l1 0m11-143l1 0m13 39l1 0m-2 5l1 0m-41-90l1 0m9 195l1 0m-119-212l1 0m139 67l1 0m-39-58l1 0m-103 4l1 0m149 139l1 0m-83-161l1 0m35 15l1 0m44 82l1 0m-47-82l1 0m42 99l1 0m-14-71l1 0m6 32l1 0m-83-81l1 0m93 168l1 0m-62 81l1 0m5-238l1 0m42 173l1 0m-44-168l1 0m-92 5l1 0m135 151l1 0m-62-167l1 0m63 90l1 0m-14-26l1 0m0 116l1 0m-96-183l1 0m65 242l1 0m43-144l1 0m-54-85l1 0m23 214l1 0m16-155l1 0m10 99l1 0m-126-165l1 0m113 56l1 0m-2-1l1 0m11 54l1 0m-15-60l1 0m11 31l1 0m-58-79l1 0m30 32l1 0m10 24l1 0m-114-57l1 0m-19 19l1 0m146 132l1 0m-13 45l1 0m-28 33l1 0m2-9l1 0m-45-225l1 0m77 131l1 0m-105-130l1 0m23-2l1 0m69 55l1 0m-42 196l1 0m-22-248l1 0m33 22l1 0m6 203l1 0m-64-227l1 0m63 228l1 0m9-10l1 0m-94-212l1 0m81 227l1 0m-4-6l1 0m0-195l1 0m24 150l1 0m9-60l1 0m-22-78l1 0m-25-36l1 0m48 150l1 0m-5-11l1 0m-53 106l1 0m17-27l1 0m22-42l1 0m6-95l1 0m-101-95l1 0m65 240l1 0m-5-220l1 0m46 136l1 0m-81-147l1 0m73 100l1 0m-96-108l1 0m-17 8l1 0m54 3l1 0m13 239l1 0m-15 6l1 0m54-121l1 0m3 5l1 0m-39-104l1 0m37 61l1 0m-17-35l1 0m12 113l1 0m-87-177l1 0m45 244l1 0m36-65l1 0m-54-171l1 0m46 193l1 0m-79-200l1 0m60 46l1 0m-18 199l1 0m8-218l1 0m-48-22l1 0m-4-1l1 0m38 245l1 0m47-97l1 0m1-45l1 0m-24-62l1 0m-122-26l1 0m128 55l1 0m-127-54l1 0m124 180l1 0m-84-202l1 0m70 227l1 0m7-172l1 0m-41 207l1 0m36-37l1 0m-28-206l1 0m-21-2l1 0m63 124l1 0m-72-129l1 0m-35-4l1 0m104 124l1 0m-118-121l1 0m76 20l1 0m29 179l1 0m11-111l1 0m-89-95l1 0m37 250l1 0m33-193l1 0m6 144l1 0m0 1l1 0m-14-158l1 0m13 142l1 0m-10-139l1 0m-25 199l1 0m-94-238l1 0m95 24l1 0m20 173l1 0m-31-187l1 0m-82-9l1 0m-12 4l1 0m102 217l1 0m-45-220l1 0m23 242l1 0m37-198l1 0m-73-54l1 0m56 233l1 0m-2-4l1 0m21-164l1 0m-19-26l1 0m17 159l1 0m-96-191l1 0m86 215l1 0m-38-209l1 0m56 148l1 0m-7 23l1 0m-29-148l1 0m-103-29l1 0m134 96l1 0m-2 37l1 0m-5 38l1 0m-9-120l1 0m-104-50l1 0m102 197l1 0m-26 35l1 0m-26-232l1 0m-26-8l1 0m63 225l1 0m-74-227l1 0m39 9l1 0m-48-5l1 0m21 3l1 0m-19-6l1 0m91 70l1 0m0 116l1 0m-59-181l1 0m-27-7l1 0m-18 6l1 0m53 248l1 0m-60-243l1 0m104 192l1 0m-45 48l1 0m18-215l1 0m-6-1l1 0m-7 212l1 0m35-159l1 0m-86-86l1 0m-52 25l1 0m56-26l1 0m-38 13l1 0m123 147l1 0m-146-130l1 0m108 209l1 0m26-168l1 0m4 14l1 0m-52 168l1 0m37-201l1 0m-22 180l1 0m-6 15l1 0m24-30l1 0m-95-208l1 0m-18 5l1 0m67-3l1 0m50 64l1 0m-68-63l1 0m64 60l1 0m2 12l1 0m8 66l1 0m-73-136l1 0m-16-11l1 0m87 112l1 0m-142-96l1 0m21-8l1 0m108 71l1 0m-56-73l1 0m13 6l1 0m-80-2l1 0m69-4l1 0m16 11l1 0m-87-8l1 0m97 214l1 0m9-4l1 0m9-20l1 0m-7 13l1 0m17-62l1 0m-126-139l1 0m78 230l1 0m47-89l1 0m-17 50l1 0m-34 45l1 0m-48-243l1 0m93 166l1 0" fill="none" stroke="#bdbdbd" stroke-width="1.6" stroke-linecap="round"/><path d="M245 180l1 0m10-51l1 0m-1 13l1 0m0 89l1 0m4-62l1 0m-1 18l1 0m-1 30l1 0m-1 18l1 0m5-10l1 0m-2 6l1 0m-1 18l1 0m0 12l1 0m-3 6l1 0m-1 18l1 0m5-161l1 0m0 24l1 0m-2 12l1 0m-1 23l1 0m0 6l1 0m-2 12l1 0m0 72l1 0m4-89l1 0m-1 91l1 0m-1 5l1 0m-2 7l1 0m0 7l1 0m4-172l1 0m0 4l1 0m-2 26l1 0m-1 126l1 0m0 5l1 0m-1 7l1 0m4-147l1 0m-2 7l1 0m-1 47l1 0m0 56l1 0m-1 17l1 0m-2 6l1 0m5-152l1 0m0 6l1 0m-2 12l1 0m-1 12l1 0m-1 6l1 0m-1 12l1 0m0 12l1 0m-3 71l1 0m0 7l1 0m-1 7l1 0m4-134l1 0m-1 6l1 0m-1 11l1 0m0 13l1 0m-2 24l1 0m-1 6l1 0m0 30l1 0m-1 7l1 0m-1 11l1 0m-1 6l1 0m-2 6l1 0m-1 18l1 0m-2 6l1 0m1 7l1 0m3-159l1 0m0 18l1 0m-1 13l1 0m-1 65l1 0m-1 7l1 0m-1 17l1 0m-1 13l1 0m-1 30l1 0m5-154l1 0m-2 6l1 0m-1 35l1 0m0 7l1 0m-3 12l1 0m0 13l1 0m0 17l1 0m-2 7l1 0m-1 16l1 0m-1 20l1 0m-1 5l1 0m0 18l1 0m4-167l1 0m0 6l1 0m-2 7l1 0m-2 35l1 0m-1 13l1 0m0 19l1 0m-1 10l1 0m-2 7l1 0m-1 5l1 0m-2 5l1 0m0 20l1 0m0 11l1 0m-1 7l1 0m-2 17l1 0m5-161l1 0m-2 6l1 0m0 6l1 0m-1 12l1 0m0 7l1 0m-1 18l1 0m-2 5l1 0m-1 85l1 0m-1 12l1 0m-1 11l1 0m-1 6l1 0m4-173l1 0m-1 7l1 0m0 6l1 0m-1 72l1 0m-2 85l1 0m5-161l1 0m-1 8l1 0m-1 18l1 0m-2 113l1 0m0 12l1 0m-1 11l1 0m4-169l1 0m-2 7l1 0m0 5l1 0m-1 6l1 0m-1 18l1 0m-1 6l1 0m0 5l1 0m-2 31l1 0m0 13l1 0m-2 5l1 0m-2 12l1 0m1 12l1 0m-1 7l1 0m-2 29l1 0m-1 6l1 0m-1 6l1 0m-1 6l1 0m5-169l1 0m-1 5l1 0m-1 7l1 0m-2 7l1 0m0 12l1 0m-1 5l1 0m-1 12l1 0m-1 12l1 0m-2 6l1 0m0 30l1 0m-1 23l1 0m-1 20l1 0m-2 17l1 0m-1 7l1 0m5-164l1 0m0 12l1 0m-2 6l1 0m-1 17l1 0m0 7l1 0m-2 11l1 0m-1 18l1 0m0 7l1 0m-2 6l1 0m0 6l1 0m-2 7l1 0m-1 5l1 0m0 6l1 0m-2 6l1 0m-1 6l1 0m0 6l1 0m-2 6l1 0m-1 18l1 0m4-122l1 0m0 6l1 0m-2 5l1 0m-1 7l1 0m-1 6l1 0m-1 5l1 0m-1 6l1 0m-1 6l1 0m-1 7l1 0m-1 11l1 0m0 6l1 0m-2 6l1 0m-2 6l1 0m0 12l1 0m0 7l1 0m-1 6l1 0m-1 6l1 0m-2 6l1 0m-2 12l1 0m1 5l1 0m3-159l1 0m0 6l1 0m-1 17l1 0m-1 14l1 0m-1 5l1 0m-2 5l1 0m0 7l1 0m-1 5l1 0m-2 6l1 0m0 7l1 0m0 5l1 0m-3 7l1 0m1 12l1 0m-2 6l1 0m-1 5l1 0m-1 12l1 0m-1 7l1 0m-1 12l1 0m-2 6l1 0m0 12l1 0m-2 6l1 0m5-162l1 0m-1 7l1 0m-2 6l1 0m1 6l1 0m-1 6l1 0m-2 6l1 0m-1 6l1 0m-1 19l1 0m-1 5l1 0m-1 18l1 0m-1 36l1 0m-1 6l1 0m-2 5l1 0m0 6l1 0m-1 7l1 0m-1 6l1 0m-1 5l1 0m0 7l1 0m-1 5l1 0m3-166l1 0m0 6l1 0m-1 5l1 0m-1 7l1 0m-1 5l1 0m-1 12l1 0m-2 13l1 0m-1 5l1 0m-1 24l1 0m0 43l1 0m-1 5l1 0m0 7l1 0m-3 12l1 0m0 5l1 0m-2 8l1 0m0 5l1 0m-2 6l1 0m0 6l1 0m4-173l1 0m-1 7l1 0m-1 6l1 0m0 5l1 0m-2 26l1 0m-1 3l1 0m-1 19l1 0m-1 18l1 0m-1 19l1 0m-1 35l1 0m0 13l1 0m-2 6l1 0m-1 6l1 0m-1 6l1 0m4-171l1 0m0 6l1 0m-1 6l1 0m-1 6l1 0m-2 7l1 0m-1 5l1 0m0 5l1 0m-2 6l1 0m-1 25l1 0m-1 30l1 0m-1 49l1 0m-1 5l1 0m0 6l1 0m-2 6l1 0m-1 6l1 0m-1 6l1 0m5-169l1 0m0 7l1 0m-3 5l1 0m-1 7l1 0m1 5l1 0m-2 13l1 0m-1 5l1 0m-1 24l1 0m-1 18l1 0m-2 24l1 0m0 13l1 0m-1 5l1 0m-1 6l1 0m-1 6l1 0m-2 7l1 0m0 5l1 0m-1 6l1 0m0 6l1 0m-3 7l1 0m6-171l1 0m-2 7l1 0m0 12l1 0m-1 7l1 0m-2 5l1 0m-1 13l1 0m0 11l1 0m-2 6l1 0m-1 5l1 0m-1 7l1 0m-1 6l1 0m-1 7l1 0m-1 6l1 0m-1 4l1 0m0 7l1 0m-2 12l1 0m-1 6l1 0m-2 7l1 0m0 11l1 0m-1 12l1 0m-1 6l1 0m-1 6l1 0m5-157l1 0m-1 5l1 0m-1 12l1 0m-1 7l1 0m-1 12l1 0m-1 5l1 0m-1 7l1 0m-1 6l1 0m-2 5l1 0m-1 6l1 0m-1 6l1 0m-1 6l1 0m0 6l1 0m-1 7l1 0m0 5l1 0m-2 6l1 0m-1 6l1 0m-2 5l1 0m-1 7l1 0m0 7l1 0m0 11l1 0m-2 6l1 0m-2 18l1 0m5-165l1 0m-1 7l1 0m-1 5l1 0m-1 6l1 0m0 6l1 0m-2 7l1 0m-2 5l1 0m1 5l1 0m-2 7l1 0m0 7l1 0m-2 5l1 0m0 6l1 0m-2 6l1 0m-2 7l1 0m0 5l1 0m-1 7l1 0m0 6l1 0m-3 5l1 0m0 6l1 0m-1 7l1 0m-1 5l1 0m-1 5l1 0m0 8l1 0m-2 17l1 0m-1 6l1 0m0 7l1 0m3-161l1 0m0 6l1 0m-2 6l1 0m-1 7l1 0m-1 6l1 0m0 12l1 0m-2 6l1 0m0 6l1 0m-1 5l1 0m-1 18l1 0m-1 13l1 0m-2 5l1 0m-1 6l1 0m-2 6l1 0m0 12l1 0m-1 6l1 0m0 6l1 0m-1 6l1 0m-1 6l1 0m-2 5l1 0m-1 7l1 0m0 6l1 0m-1 6l1 0m5-166l1 0m-3 4l1 0m-1 7l1 0m1 6l1 0m-2 6l1 0m0 6l1 0m-2 6l1 0m-2 5l1 0m-1 6l1 0m0 6l1 0m-1 49l1 0m0 6l1 0m-3 18l1 0m0 12l1 0m-1 7l1 0m-2 5l1 0m0 6l1 0m-1 7l1 0m-3 5l1 0m6-167l1 0m-1 6l1 0m0 7l1 0m-2 6l1 0m-1 6l1 0m-1 5l1 0m-1 13l1 0m0 17l1 0m-1 12l1 0m-3 6l1 0m0 30l1 0m0 30l1 0m-2 6l1 0m-2 7l1 0m0 5l1 0m-1 6l1 0m-1 6l1 0m5-172l1 0m-1 6l1 0m-1 7l1 0m-2 5l1 0m-1 138l1 0m0 7l1 0m-2 5l1 0m0 6l1 0m4-169l1 0m-2 6l1 0m0 7l1 0m-2 4l1 0m0 7l1 0m-1 12l1 0m-2 48l1 0m0 6l1 0m0 18l1 0m-2 29l1 0m-2 12l1 0m0 7l1 0m-1 6l1 0m0 6l1 0m3-170l1 0m0 6l1 0m-2 6l1 0m0 6l1 0m-1 13l1 0m-2 13l1 0m0 5l1 0m-1 11l1 0m-2 7l1 0m-1 6l1 0m0 30l1 0m-2 5l1 0m-1 7l1 0m-1 11l1 0m-1 13l1 0m-1 11l1 0m-1 7l1 0m0 6l1 0m-3 6l1 0m6-164l1 0m-1 6l1 0m-2 7l1 0m1 6l1 0m-2 5l1 0m-2 7l1 0m0 12l1 0m-1 5l1 0m-1 7l1 0m-1 6l1 0m-1 6l1 0m-1 5l1 0m-2 7l1 0m0 6l1 0m-1 5l1 0m-1 6l1 0m-1 6l1 0m-1 7l1 0m-1 6l1 0m-2 6l1 0m0 6l1 0m-1 12l1 0m-2 11l1 0m0 6l1 0m0 6l1 0m3-165l1 0m0 8l1 0m-2 6l1 0m-1 18l1 0m-1 11l1 0m-1 7l1 0m-1 6l1 0m-1 5l1 0m-1 6l1 0m0 6l1 0m-2 7l1 0m-1 5l1 0m-2 7l1 0m1 6l1 0m-2 5l1 0m0 7l1 0m-1 6l1 0m-2 6l1 0m-1 6l1 0m-1 6l1 0m0 18l1 0m-2 6l1 0m0 6l1 0m4-160l1 0m-1 18l1 0m-2 6l1 0m0 6l1 0m-2 6l1 0m-1 6l1 0m0 7l1 0m-1 5l1 0m-1 6l1 0m-2 6l1 0m0 5l1 0m-2 7l1 0m0 6l1 0m-2 6l1 0m-1 7l1 0m0 5l1 0m-1 6l1 0m-1 7l1 0m-2 5l1 0m-1 6l1 0m-1 12l1 0m0 6l1 0m-2 7l1 0m-1 11l1 0m6-167l1 0m-2 7l1 0m-2 5l1 0m1 7l1 0m-2 5l1 0m-1 6l1 0m-1 7l1 0m-1 30l1 0m-2 17l1 0m0 12l1 0m-1 6l1 0m-1 12l1 0m-1 6l1 0m-1 6l1 0m-2 6l1 0m1 12l1 0m-2 6l1 0m-1 6l1 0m-1 6l1 0m-1 6l1 0m5-167l1 0m-2 6l1 0m-2 6l1 0m0 6l1 0m-1 6l1 0m-1 7l1 0m-1 6l1 0m0 5l1 0m-2 78l1 0m-1 6l1 0m0 6l1 0m-2 7l1 0m-1 6l1 0m-1 5l1 0m-1 7l1 0m-1 5l1 0m0 7l1 0m3-174l1 0m-1 7l1 0m0 6l1 0m-2 5l1 0m0 7l1 0m-1 6l1 0m-1 6l1 0m-1 30l1 0m-1 53l1 0m-1 37l1 0m-1 6l1 0m-1 6l1 0m-1 5l1 0m5-170l1 0m-2 5l1 0m-1 6l1 0m-2 18l1 0m0 8l1 0m-1 47l1 0m-1 60l1 0m-1 12l1 0m0 6l1 0m-1 7l1 0m4-170l1 0m-1 5l1 0m-2 6l1 0m-1 6l1 0m-1 6l1 0m0 7l1 0m-1 4l1 0m-1 37l1 0m-2 43l1 0m0 11l1 0m-2 6l1 0m0 6l1 0m-1 7l1 0m-2 12l1 0m0 6l1 0m-2 5l1 0m5-163l1 0m0 5l1 0m-2 6l1 0m0 8l1 0m-2 5l1 0m0 6l1 0m-2 6l1 0m-1 6l1 0m-1 7l1 0m-1 11l1 0m-1 12l1 0m-2 7l1 0m0 12l1 0m0 5l1 0m-2 12l1 0m0 6l1 0m-1 6l1 0m-2 6l1 0m-1 12l1 0m-1 7l1 0m-1 5l1 0m-2 7l1 0m0 5l1 0m5-162l1 0m-2 16l1 0m-1 6l1 0m-2 13l1 0m1 6l1 0m-1 12l1 0m-2 6l1 0m-1 6l1 0m0 6l1 0m-1 5l1 0m-2 7l1 0m0 7l1 0m-1 5l1 0m-2 7l1 0m-1 4l1 0m0 7l1 0m-2 6l1 0m-1 6l1 0m-1 6l1 0m-1 6l1 0m-1 6l1 0m-1 5l1 0m0 8l1 0m-1 6l1 0m4-159l1 0m-1 6l1 0m0 11l1 0m-2 13l1 0m-1 5l1 0m-1 6l1 0m-1 6l1 0m-2 6l1 0m-1 7l1 0m0 6l1 0m-1 5l1 0m-2 6l1 0m0 7l1 0m-3 5l1 0m1 7l1 0m-2 6l1 0m-1 5l1 0m0 7l1 0m-1 5l1 0m-1 13l1 0m-2 24l1 0m5-161l1 0m-1 7l1 0m-1 5l1 0m0 13l1 0m-2 5l1 0m-1 7l1 0m-1 6l1 0m-1 6l1 0m-1 6l1 0m-1 6l1 0m-2 5l1 0m0 6l1 0m0 6l1 0m-2 6l1 0m-1 6l1 0m-1 6l1 0m-1 6l1 0m-1 7l1 0m-1 6l1 0m-1 6l1 0m-2 6l1 0m0 12l1 0m-1 11l1 0m-1 6l1 0m0 6l1 0m2-161l1 0m0 7l1 0m0 6l1 0m-2 12l1 0m0 5l1 0m-1 7l1 0m-1 6l1 0m-2 17l1 0m-1 6l1 0m0 24l1 0m-1 7l1 0m-1 11l1 0m-1 18l1 0m-1 6l1 0m-2 13l1 0m-1 5l1 0m0 5l1 0m-2 7l1 0m6-166l1 0m-2 6l1 0m-2 6l1 0m0 6l1 0m-2 11l1 0m0 13l1 0m-1 59l1 0m-1 31l1 0m-1 5l1 0m-1 13l1 0m0 5l1 0m-3 6l1 0m0 6l1 0m-1 7l1 0m5-173l1 0m-2 6l1 0m-1 7l1 0m0 5l1 0m-2 13l1 0m-1 11l1 0m0 12l1 0m-2 18l1 0m0 7l1 0m-1 18l1 0m-2 36l1 0m0 5l1 0m-1 7l1 0m-2 5l1 0m-1 7l1 0m-1 6l1 0m-1 6l1 0m5-171l1 0m-1 6l1 0m-1 6l1 0m-1 5l1 0m-1 7l1 0m-2 25l1 0m0 52l1 0m-2 7l1 0m0 36l1 0m-1 6l1 0m0 6l1 0m-2 6l1 0m-1 6l1 0m-1 7l1 0m4-170l1 0m-2 6l1 0m0 6l1 0m-1 18l1 0m-2 6l1 0m-1 6l1 0m-1 66l1 0m0 6l1 0m-1 5l1 0m0 7l1 0m-2 6l1 0m-1 6l1 0m-2 6l1 0m0 6l1 0m0 6l1 0m-2 6l1 0m-1 6l1 0m4-169l1 0m0 7l1 0m-2 5l1 0m0 7l1 0m-2 5l1 0m-1 6l1 0m0 7l1 0m-2 10l1 0m0 7l1 0m-1 6l1 0m-1 12l1 0m-2 6l1 0m-1 6l1 0m0 6l1 0m-2 18l1 0m0 6l1 0m-1 6l1 0m-1 6l1 0m-1 5l1 0m-2 7l1 0m1 7l1 0m-3 5l1 0m0 7l1 0m-1 4l1 0m4-156l1 0m-1 5l1 0m-1 6l1 0m-1 14l1 0m-1 11l1 0m-1 5l1 0m-1 6l1 0m-2 6l1 0m-1 6l1 0m-1 6l1 0m-1 6l1 0m0 7l1 0m0 5l1 0m-2 6l1 0m-1 6l1 0m0 7l1 0m-2 6l1 0m-1 5l1 0m-1 7l1 0m-1 24l1 0m-1 11l1 0m4-159l1 0m0 12l1 0m-2 6l1 0m0 12l1 0m-2 6l1 0m-1 5l1 0m0 7l1 0m-1 6l1 0m-2 6l1 0m-1 8l1 0m0 4l1 0m-2 6l1 0m0 7l1 0m-1 5l1 0m-1 6l1 0m-2 7l1 0m-1 5l1 0m0 7l1 0m-2 4l1 0m-1 8l1 0m-1 11l1 0m1 6l1 0m-3 12l1 0m0 6l1 0m4-160l1 0m-1 6l1 0m-1 11l1 0m-1 7l1 0m-1 6l1 0m-1 5l1 0m-2 8l1 0m0 4l1 0m0 7l1 0m-2 11l1 0m-1 7l1 0m-1 6l1 0m-1 5l1 0m-1 13l1 0m-2 12l1 0m0 12l1 0m-2 5l1 0m0 6l1 0m-1 6l1 0m-2 7l1 0m0 6l1 0m-1 5l1 0m-1 6l1 0m5-166l1 0m-2 5l1 0m-1 7l1 0m-1 5l1 0m0 6l1 0m-2 7l1 0m-1 5l1 0m0 6l1 0m-1 6l1 0m-2 7l1 0m-1 73l1 0m-1 10l1 0m-1 8l1 0m-1 4l1 0m0 6l1 0m-2 6l1 0m-1 7l1 0m5-167l1 0m-2 6l1 0m0 6l1 0m-2 5l1 0m0 66l1 0m-1 13l1 0m-1 42l1 0m-1 11l1 0m-2 7l1 0m0 5l1 0m-2 6l1 0m5-171l1 0m-1 7l1 0m-1 6l1 0m-2 5l1 0m1 13l1 0m-3 5l1 0m1 7l1 0m-3 6l1 0m0 17l1 0m-1 31l1 0m-1 6l1 0m-1 47l1 0m-1 6l1 0m-1 7l1 0m-2 6l1 0m1 5l1 0m3-169l1 0m0 7l1 0m-2 6l1 0m-1 4l1 0m0 7l1 0m-2 5l1 0m1 12l1 0m-3 7l1 0m0 35l1 0m-1 24l1 0m-2 13l1 0m-1 5l1 0m-1 6l1 0m-2 24l1 0m0 7l1 0m0 5l1 0m4-169l1 0m-1 7l1 0m-1 6l1 0m-2 6l1 0m1 6l1 0m-3 5l1 0m0 7l1 0m-1 11l1 0m-1 7l1 0m-1 12l1 0m-2 6l1 0m-1 12l1 0m-1 11l1 0m-1 12l1 0m-1 13l1 0m1 5l1 0m-3 7l1 0m0 6l1 0m-1 6l1 0m-1 6l1 0m-1 6l1 0m-1 5l1 0m-1 6l1 0m5-163l1 0m-2 6l1 0m-1 6l1 0m-1 7l1 0m-2 23l1 0m0 7l1 0m-2 5l1 0m1 7l1 0m-2 5l1 0m-1 7l1 0m-1 6l1 0m0 6l1 0m-2 5l1 0m-1 7l1 0m-1 5l1 0m-1 6l1 0m-1 7l1 0m0 6l1 0m-1 6l1 0m-2 6l1 0m-1 5l1 0m0 7l1 0m-2 6l1 0m-1 11l1 0m4-163l1 0m0 17l1 0m0 6l1 0m-3 13l1 0m-1 5l1 0m0 7l1 0m-1 5l1 0m-2 7l1 0m0 6l1 0m-1 5l1 0m-1 7l1 0m-1 5l1 0m-1 7l1 0m-1 4l1 0m-2 7l1 0m-1 7l1 0m0 5l1 0m-1 7l1 0m-1 5l1 0m-1 6l1 0m-2 7l1 0m-1 18l1 0m-1 5l1 0m5-160l1 0m-2 13l1 0m0 5l1 0m-1 6l1 0m0 24l1 0m-2 7l1 0m0 6l1 0m-2 6l1 0m0 6l1 0m-2 6l1 0m-1 6l1 0m-2 6l1 0m0 6l1 0m-1 6l1 0m-1 6l1 0m-1 7l1 0m0 5l1 0m-2 12l1 0m0 17l1 0m-2 7l1 0m0 6l1 0m3-167l1 0m-1 6l1 0m0 5l1 0m-1 7l1 0m-2 6l1 0m-1 6l1 0m-1 6l1 0m-1 6l1 0m-1 12l1 0m-1 12l1 0m0 31l1 0m-2 5l1 0m-1 6l1 0m0 5l1 0m-2 7l1 0m-1 23l1 0m-1 6l1 0m-1 7l1 0m0 5l1 0m-1 6l1 0m4-165l1 0m-2 4l1 0m-1 7l1 0m-1 5l1 0m0 6l1 0m-1 7l1 0m-1 6l1 0m-2 5l1 0m0 91l1 0m-1 12l1 0m0 6l1 0m-2 6l1 0m-1 6l1 0m-1 6l1 0m3-172l1 0m-1 6l1 0m0 5l1 0m-1 7l1 0m-2 23l1 0m1 13l1 0m-2 76l1 0m-1 14l1 0m-2 5l1 0m-1 6l1 0m0 6l1 0m-1 7l1 0m0 7l1 0m4-172l1 0m-2 5l1 0m0 7l1 0m-2 4l1 0m0 9l1 0m-2 4l1 0m-1 7l1 0m-1 11l1 0m-1 96l1 0m-1 6l1 0m0 7l1 0m-2 6l1 0m-1 6l1 0m5-170l1 0m0 6l1 0m-3 6l1 0m0 6l1 0m-1 6l1 0m-1 13l1 0m-1 17l1 0m-1 6l1 0m-2 18l1 0m-1 12l1 0m0 30l1 0m0 12l1 0m-1 7l1 0m-3 5l1 0m0 6l1 0m-1 6l1 0m-1 6l1 0m-1 7l1 0m3-164l1 0m0 6l1 0m-1 6l1 0m0 8l1 0m-1 4l1 0m-2 7l1 0m0 18l1 0m-2 24l1 0m-1 6l1 0m-1 11l1 0m-2 6l1 0m1 19l1 0m-2 5l1 0m-1 6l1 0m-1 6l1 0m0 5l1 0m-2 12l1 0m-1 7l1 0m-1 5l1 0m5-163l1 0m-2 13l1 0m0 5l1 0m-1 12l1 0m-1 12l1 0m-1 13l1 0m0 6l1 0m-2 6l1 0m-1 6l1 0m-2 6l1 0m0 6l1 0m-1 5l1 0m-1 7l1 0m-1 6l1 0m-1 6l1 0m-1 6l1 0m-1 5l1 0m-2 7l1 0m0 6l1 0m0 6l1 0m-2 12l1 0m-1 6l1 0m4-154l1 0m-2 19l1 0m-1 6l1 0m0 7l1 0m-1 6l1 0m0 5l1 0m-2 6l1 0m-1 6l1 0m0 5l1 0m-2 8l1 0m-2 5l1 0m0 6l1 0m-1 5l1 0m-1 7l1 0m0 7l1 0m-3 4l1 0m0 8l1 0m-1 5l1 0m-1 7l1 0m-1 6l1 0m-1 5l1 0m0 6l1 0m-1 7l1 0m3-150l1 0m0 8l1 0m-1 6l1 0m0 11l1 0m-2 12l1 0m-1 6l1 0m0 5l1 0m-3 7l1 0m0 6l1 0m-2 6l1 0m0 5l1 0m-1 6l1 0m-1 7l1 0m-1 6l1 0m-1 6l1 0m-2 12l1 0m-1 7l1 0m-1 17l1 0m0 6l1 0m-1 6l1 0m0 6l1 0m-2 6l1 0m-1 6l1 0m4-161l1 0m-1 4l1 0m-1 8l1 0m-1 6l1 0m-1 5l1 0m-1 7l1 0m-2 6l1 0m0 60l1 0m-1 6l1 0m-1 12l1 0m-1 6l1 0m-1 6l1 0m-1 6l1 0m-2 5l1 0m0 8l1 0m-1 4l1 0m0 7l1 0m-1 5l1 0m3-166l1 0m0 6l1 0m-2 7l1 0m-1 4l1 0m0 14l1 0m-2 11l1 0m-1 12l1 0m-1 54l1 0m-1 12l1 0m0 19l1 0m-2 10l1 0m-1 7l1 0m-1 7l1 0m0 5l1 0m-2 7l1 0m5-172l1 0m0 5l1 0m-2 6l1 0m-2 42l1 0m0 6l1 0m-1 31l1 0m-1 11l1 0m0 53l1 0m-3 7l1 0m-1 7l1 0m4-171l1 0m-1 6l1 0m0 6l1 0m-2 6l1 0m0 6l1 0m-1 6l1 0m-1 6l1 0m0 36l1 0m-2 11l1 0m0 48l1 0m-1 7l1 0m-1 6l1 0m-2 6l1 0m-1 6l1 0m-2 6l1 0m0 7l1 0m-1 4l1 0m4-168l1 0m0 7l1 0m-2 5l1 0m-1 6l1 0m0 6l1 0m-2 6l1 0m0 6l1 0m-2 6l1 0m-1 6l1 0m-1 5l1 0m0 7l1 0m-1 6l1 0m-2 6l1 0m0 24l1 0m-1 6l1 0m-2 17l1 0m0 7l1 0m-1 6l1 0m-1 5l1 0m-1 7l1 0m-2 5l1 0m1 7l1 0m-3 5l1 0m5-162l1 0m-1 5l1 0m0 19l1 0m-2 18l1 0m-1 6l1 0m0 6l1 0m-2 6l1 0m-1 12l1 0m-1 6l1 0m-1 6l1 0m-1 6l1 0m-2 6l1 0m0 6l1 0m-1 6l1 0m-1 18l1 0m-1 12l1 0m-1 7l1 0m-1 5l1 0m-1 6l1 0m-1 6l1 0m4-157l1 0m0 22l1 0m-1 7l1 0m-2 6l1 0m-1 6l1 0m-1 6l1 0m-1 5l1 0m0 8l1 0m-2 6l1 0m-1 5l1 0m-1 7l1 0m-1 6l1 0m0 5l1 0m-2 6l1 0m-1 7l1 0m0 6l1 0m-2 5l1 0m0 6l1 0m-2 7l1 0m-1 16l1 0m0 7l1 0m-2 6l1 0m5-159l1 0m-1 5l1 0m-1 7l1 0m-1 12l1 0m-1 11l1 0m-1 13l1 0m-2 6l1 0m0 6l1 0m-1 5l1 0m-1 7l1 0m-1 5l1 0m-1 6l1 0m-1 6l1 0m-1 7l1 0m-1 6l1 0m-1 6l1 0m-2 6l1 0m1 5l1 0m-2 7l1 0m-1 6l1 0m-1 12l1 0m-1 5l1 0m-2 13l1 0m5-160l1 0m0 5l1 0m-2 6l1 0m-1 6l1 0m-1 7l1 0m-1 5l1 0m-1 19l1 0m-1 11l1 0m-1 6l1 0m-1 18l1 0m-2 5l1 0m0 7l1 0m0 6l1 0m-2 6l1 0m0 6l1 0m-1 13l1 0m-1 5l1 0m-2 6l1 0m-2 5l1 0m-1 8l1 0m0 5l1 0m0 6l1 0m3-168l1 0m-1 7l1 0m0 6l1 0m-1 6l1 0m-2 5l1 0m0 7l1 0m-1 6l1 0m-1 7l1 0m0 5l1 0m-3 36l1 0m-1 42l1 0m-1 18l1 0m0 13l1 0m-1 5l1 0m-1 6l1 0m4-167l1 0m-1 7l1 0m-1 6l1 0m-1 5l1 0m-1 20l1 0m0 16l1 0m-2 18l1 0m-1 25l1 0m-2 30l1 0m-1 22l1 0m1 6l1 0m-2 7l1 0m-1 8l1 0m5-173l1 0m-3 7l1 0m0 5l1 0m0 6l1 0m-1 30l1 0m-2 67l1 0m0 23l1 0m-1 12l1 0m-2 6l1 0m-1 6l1 0m1 7l1 0m-3 6l1 0m5-171l1 0m-1 7l1 0m-1 6l1 0m-2 5l1 0m0 7l1 0m-2 5l1 0m-1 7l1 0m1 11l1 0m-2 30l1 0m-1 49l1 0m-2 11l1 0m0 7l1 0m-1 6l1 0m0 6l1 0m-1 5l1 0m-3 6l1 0m5-167l1 0m-1 4l1 0m-1 7l1 0m-1 12l1 0m-1 5l1 0m-1 6l1 0m0 24l1 0m-1 7l1 0m-2 5l1 0m0 13l1 0m-2 6l1 0m0 12l1 0m-1 11l1 0m-2 7l1 0m-1 6l1 0m-1 6l1 0m-1 6l1 0m-1 6l1 0m-1 6l1 0m-1 7l1 0m-1 5l1 0m0 6l1 0m3-163l1 0m-1 12l1 0m1 12l1 0m-2 6l1 0m-1 12l1 0m-2 7l1 0m0 6l1 0m-2 5l1 0m0 6l1 0m-2 5l1 0m0 8l1 0m-1 5l1 0m-1 5l1 0m-1 6l1 0m-1 7l1 0m-2 6l1 0m0 5l1 0m-1 7l1 0m-1 6l1 0m-1 11l1 0m-1 7l1 0m-1 6l1 0m-2 6l1 0m5-159l1 0m-1 7l1 0m-1 18l1 0m0 7l1 0m-3 5l1 0m0 6l1 0m0 6l1 0m-2 7l1 0m0 5l1 0m-2 5l1 0m-1 7l1 0m-1 7l1 0m-1 6l1 0m-1 5l1 0m-2 6l1 0m0 6l1 0m0 6l1 0m-2 6l1 0m-2 6l1 0m0 6l1 0m0 12l1 0m-2 6l1 0m4-141l1 0m-1 6l1 0m0 6l1 0m-1 7l1 0m-2 5l1 0m-1 5l1 0m-1 6l1 0m-1 6l1 0m-1 7l1 0m-1 6l1 0m-2 18l1 0m0 6l1 0m0 6l1 0m-1 6l1 0m-1 6l1 0m-1 5l1 0m-2 6l1 0m0 7l1 0m-1 5l1 0m0 6l1 0m-2 7l1 0m-1 5l1 0m-2 7l1 0m0 6l1 0m-2 5l1 0m4-160l1 0m-1 5l1 0m-1 7l1 0m-1 6l1 0m-1 12l1 0m0 5l1 0m-2 7l1 0m0 6l1 0m-1 12l1 0m-1 36l1 0m-1 5l1 0m-1 19l1 0m-2 12l1 0m-2 12l1 0m1 6l1 0m-2 6l1 0m0 6l1 0m4-160l1 0m-1 6l1 0m-1 5l1 0m-1 6l1 0m-1 6l1 0m-1 6l1 0m0 12l1 0m-2 13l1 0m-1 19l1 0m-1 40l1 0m-1 12l1 0m0 6l1 0m-1 13l1 0m-3 5l1 0m0 7l1 0m-1 5l1 0m6-165l1 0m-2 5l1 0m-1 6l1 0m-2 6l1 0m-1 7l1 0m0 5l1 0m-2 121l1 0m0 6l1 0m-1 5l1 0m-1 7l1 0m5-165l1 0m-1 7l1 0m-2 6l1 0m-1 5l1 0m-1 12l1 0m-1 25l1 0m0 6l1 0m-2 66l1 0m-1 5l1 0m-2 13l1 0m0 5l1 0m-1 6l1 0m-2 7l1 0m6-165l1 0m-2 7l1 0m0 6l1 0m-1 6l1 0m-1 6l1 0m-3 7l1 0m1 17l1 0m-1 48l1 0m-2 7l1 0m1 12l1 0m-2 5l1 0m-2 6l1 0m1 6l1 0m-3 7l1 0m-1 5l1 0m-1 6l1 0m0 6l1 0m-2 7l1 0m4-157l1 0m0 5l1 0m-2 7l1 0m0 17l1 0m-2 19l1 0m0 7l1 0m-2 11l1 0m0 6l1 0m-1 17l1 0m-1 7l1 0m-1 6l1 0m-2 11l1 0m0 7l1 0m-2 6l1 0m0 5l1 0m-1 7l1 0m-1 5l1 0m-1 6l1 0m-1 6l1 0m4-156l1 0m-1 6l1 0m-1 6l1 0m-1 5l1 0m-1 6l1 0m-1 7l1 0m0 11l1 0m-1 6l1 0m-2 6l1 0m0 8l1 0m-2 5l1 0m-1 6l1 0m0 6l1 0m-2 6l1 0m-1 6l1 0m-1 6l1 0m0 5l1 0m-2 7l1 0m-3 5l1 0m2 7l1 0m-2 5l1 0m0 7l1 0m-1 12l1 0m-2 6l1 0m-2 6l1 0m5-153l1 0m0 11l1 0m-1 7l1 0m-2 6l1 0m0 5l1 0m-1 13l1 0m-2 6l1 0m-1 7l1 0m0 5l1 0m-1 6l1 0m-3 6l1 0m1 6l1 0m-1 6l1 0m-2 6l1 0m-1 6l1 0m0 5l1 0m-1 7l1 0m-2 6l1 0m-1 7l1 0m-1 5l1 0m0 12l1 0m-1 6l1 0m-1 5l1 0m3-152l1 0m-1 5l1 0m0 6l1 0m0 6l1 0m-2 6l1 0m-2 25l1 0m0 5l1 0m-1 12l1 0m0 6l1 0m-2 7l1 0m-2 12l1 0m-1 6l1 0m0 17l1 0m-1 6l1 0m-1 6l1 0m-2 5l1 0m0 8l1 0m0 5l1 0m-2 7l1 0m0 5l1 0m3-154l1 0m0 6l1 0m-1 5l1 0m-2 7l1 0m-1 12l1 0m0 5l1 0m-1 6l1 0m-1 30l1 0m-1 18l1 0m-2 7l1 0m-1 5l1 0m-1 18l1 0m0 7l1 0m-1 6l1 0m-2 5l1 0m0 7l1 0m-2 5l1 0m0 6l1 0m4-160l1 0m0 5l1 0m-2 7l1 0m-1 7l1 0m-1 5l1 0m0 6l1 0m-2 12l1 0m-1 78l1 0m-1 25l1 0m-1 6l1 0m-1 6l1 0m-1 5l1 0m4-159l1 0m-2 6l1 0m0 6l1 0m-1 12l1 0m-1 6l1 0m-1 78l1 0m0 30l1 0m-2 6l1 0m0 6l1 0m-1 5l1 0m3-156l1 0m0 5l1 0m-1 6l1 0m-1 6l1 0m-1 12l1 0m-1 6l1 0m-2 6l1 0m0 48l1 0m-2 12l1 0m-1 13l1 0m-1 5l1 0m0 6l1 0m-2 6l1 0m-1 12l1 0m0 6l1 0m-1 7l1 0m4-152l1 0m-2 7l1 0m0 6l1 0m-2 5l1 0m0 5l1 0m-1 7l1 0m-1 5l1 0m-1 8l1 0m-1 24l1 0m1 36l1 0m-2 6l1 0m-1 12l1 0m-3 4l1 0m0 8l1 0m-1 5l1 0m-1 6l1 0m-1 7l1 0m5-151l1 0m-1 5l1 0m-2 7l1 0m-1 5l1 0m0 6l1 0m-1 5l1 0m-3 7l1 0m0 12l1 0m-1 6l1 0m-1 12l1 0m0 7l1 0m-1 7l1 0m-1 4l1 0m-1 7l1 0m-2 6l1 0m-1 5l1 0m-1 12l1 0m-1 7l1 0m-1 5l1 0m0 7l1 0m-2 6l1 0m0 5l1 0m-3 6l1 0m6-145l1 0m-2 13l1 0m-1 5l1 0m0 12l1 0m-2 6l1 0m0 5l1 0m0 7l1 0m-2 5l1 0m-1 7l1 0m-1 6l1 0m-1 5l1 0m-1 7l1 0m-1 7l1 0m-1 5l1 0m-1 6l1 0m-2 7l1 0m0 5l1 0m-1 5l1 0m-1 31l1 0m4-146l1 0m-1 11l1 0m-1 18l1 0m-1 6l1 0m-1 6l1 0m-1 6l1 0m-1 6l1 0m0 6l1 0m-2 6l1 0m0 5l1 0m-2 7l1 0m-2 7l1 0m0 5l1 0m0 6l1 0m-2 6l1 0m-1 6l1 0m-1 5l1 0m0 6l1 0m-1 25l1 0m3-142l1 0m0 5l1 0m-2 8l1 0m0 4l1 0m-2 13l1 0m-1 11l1 0m-1 24l1 0m0 7l1 0m-1 12l1 0m-2 6l1 0m0 5l1 0m-1 7l1 0m-2 6l1 0m0 6l1 0m-1 5l1 0m-1 7l1 0m-1 6l1 0m-1 6l1 0m-1 7l1 0m4-150l1 0m-1 6l1 0m-1 7l1 0m-2 11l1 0m-1 6l1 0m0 18l1 0m-1 43l1 0m-1 24l1 0m-2 4l1 0m0 8l1 0m0 11l1 0m-2 5l1 0m-1 7l1 0m4-135l1 0m0 6l1 0m-1 6l1 0m-1 78l1 0m-1 29l1 0m-1 6l1 0m-2 6l1 0m-1 6l1 0m5-153l1 0m-1 12l1 0m0 49l1 0m-2 5l1 0m0 18l1 0m-1 49l1 0m-3 6l1 0m0 11l1 0m4-145l1 0m-1 18l1 0m-1 61l1 0m0 54l1 0m4 4l1 0m4-56l1 0" fill="none" stroke="#b03558" stroke-width="2.4" stroke-linecap="round"/><path d="M921 229l1 0m21-111l1 0m-29 137l1 0m67 39l1 0m-4-171l1 0m-70 154l1 0m24 16l1 0m21 17l1 0m-23-143l1 0m1 46l1 0m15 103l1 0m1-203l1 0m55 66l1 0m-74-53l1 0m61 125l1 0m-82-112l1 0m59-4l1 0m-14-19l1 0m-37 138l1 0m-21-52l1 0m-1-22l1 0m61-58l1 0m-66 90l1 0m11-34l1 0m70-3l1 0m-45 119l1 0m-16-175l1 0m5 46l1 0m32-53l1 0m5 13l1 0m12 19l1 0m14 66l1 0m-11-66l1 0m-12-11l1 0m11 24l1 0m-8 126l1 0m-59-72l1 0m0 68l1 0m15 21l1 0m53-153l1 0m-59 146l1 0m4-186l1 0m-40 66l1 0m10-23l1 0m-2 4l1 0m12 85l1 0m35-124l1 0m-52 58l1 0m58 119l1 0m-60-128l1 0m19 56l1 0m50-66l1 0m-56 78l1 0m42-118l1 0m-54 9l1 0m50-2l1 0m16 152l1 0m-80-73l1 0m36-90l1 0m32 189l1 0m-57-138l1 0m71 105l1 0m-86-32l1 0m17 67l1 0m1-120l1 0m8-61l1 0m56 17l1 0m-8 120l1 0m-41 54l1 0m54-118l1 0m-73 109l1 0m-3-30l1 0m22-161l1 0m-35 13l1 0m-19 66l1 0m22 50l1 0m-10 3l1 0m14-119l1 0m-8 31l1 0m30-44l1 0m8-3l1 0m-12 203l1 0m38-167l1 0m-23-27l1 0m-41 106l1 0m-4-35l1 0m3 87l1 0m-17-132l1 0m-10 92l1 0m-1 30l1 0m91-54l1 0m-36 91l1 0m-38-127l1 0m8-9l1 0m47-46l1 0m-17 197l1 0m-61-122l1 0m15-20l1 0m1 54l1 0m28 80l1 0m25-173l1 0m-53 156l1 0m-5-157l1 0m9 103l1 0m52 59l1 0m-67-147l1 0m47-30l1 0m-26 1l1 0m-27 46l1 0m-1 127l1 0m79-85l1 0m-20 95l1 0m-14 5l1 0m-46-122l1 0m74 38l1 0m-83 21l1 0m86-2l1 0m-1-51l1 0m-73 28l1 0m0-7l1 0m1 63l1 0m12-158l1 0m35 11l1 0m9 153l1 0m-16-174l1 0m-47 95l1 0m2 70l1 0m-6-14l1 0m7-108l1 0m20-46l1 0m41 99l1 0m-11-57l1 0m-8-36l1 0m-37 3l1 0m52 60l1 0m-92-11l1 0m91 71l1 0m-16 59l1 0m23-99l1 0m-68-78l1 0m-9 176l1 0m38 2l1 0m-8-181l1 0m-58 86l1 0m86 15l1 0m-43 94l1 0m-42-77l1 0m26 81l1 0m49-36l1 0m-24-169l1 0m-35 148l1 0m10-128l1 0m-16 15l1 0m66 115l1 0m-3-91l1 0m-66 57l1 0m59 49l1 0m7-48l1 0m-34-117l1 0m-10 2l1 0m41 145l1 0m-76 33l1 0m24 24l1 0m30-189l1 0m-63 18l1 0m38-26l1 0m-7-13l1 0m-35 60l1 0m3 53l1 0m-3 69l1 0m46 19l1 0m-35-64l1 0m5-120l1 0m41 2l1 0m-39-6l1 0m20-5l1 0m-35 46l1 0m3 30l1 0m4-50l1 0m-18 110l1 0m40 63l1 0m-37-172l1 0m69 16l1 0m8 49l1 0m-60-87l1 0m-28 66l1 0m69 100l1 0m-64-145l1 0m20-23l1 0m-34 58l1 0m83 78l1 0m-90 11l1 0m93-42l1 0m-74-95l1 0m65 133l1 0m-37-142l1 0m-20-9l1 0m12 206l1 0m6-6l1 0m13-182l1 0m13 163l1 0m-39 20l1 0m47-140l1 0m-8 90l1 0m5-80l1 0m-91 30l1 0m49 109l1 0m-25-166l1 0m-21 125l1 0m31 28l1 0m57-49l1 0m-97-21l1 0m-5 9l1 0m66-137l1 0m-50 134l1 0m26 71l1 0m34-28l1 0m-64-133l1 0m16 160l1 0m53-171l1 0m-84 95l1 0m21-24l1 0m38-94l1 0m7 188l1 0m1-183l1 0m-65 25l1 0m20-11l1 0m68 105l1 0m-62 67l1 0m-11-185l1 0m55 9l1 0m-22-21l1 0m28 167l1 0m-30 29l1 0m-1 0l1 0m36-135l1 0m-96-29l1 0m22 133l1 0m-10-61l1 0m50-99l1 0m-35 16l1 0m-33 44l1 0m41 141l1 0m-50-124l1 0m25-14l1 0m24 141l1 0m44-169l1 0m-23 158l1 0m28-103l1 0m-11-53l1 0m-84 66l1 0m54 96l1 0m-14-203l1 0m-39 33l1 0m31 165l1 0m-42-155l1 0m94 24l1 0m-83 21l1 0m18-95l1 0m-12 189l1 0m-17-25l1 0m35 39l1 0m-20-82l1 0m-16 72l1 0m15-72l1 0m-25-56l1 0m95 13l1 0m-23-45l1 0m-73 113l1 0m72 37l1 0m10-138l1 0m-47 160l1 0m42-177l1 0m-90 113l1 0m41 60l1 0m-15-12l1 0m35 19l1 0m10-195l1 0m-59 114l1 0m1-71l1 0m21 159l1 0m-11-38l1 0m68-119l1 0m-95-1l1 0m48 156l1 0m16-202l1 0m-52 61l1 0m72 2l1 0m-88 45l1 0m14 16l1 0m75-56l1 0m-94-26l1 0m18 123l1 0m7 18l1 0m8 16l1 0m-23-176l1 0m13 143l1 0m4-162l1 0m36 170l1 0m-59-25l1 0m88-40l1 0m-71-107l1 0m12 190l1 0m-28-189l1 0m9 77l1 0m42-73l1 0m-38 0l1 0m12-12l1 0m39 177l1 0m14-43l1 0m-11 26l1 0m8-53l1 0m-45 102l1 0m-44-185l1 0m86 56l1 0m-93 5l1 0m81-30l1 0m-77-43l1 0m-4 118l1 0m75-83l1 0m6 17l1 0m-87 104l1 0m46-164l1 0m0-3l1 0m-23-10l1 0m55 140l1 0m-56-108l1 0m60 40l1 0m-17 115l1 0m-48-155l1 0m44 1l1 0m-46-13l1 0m-19 171l1 0m15-175l1 0m11-5l1 0m25 188l1 0m-39 5l1 0m-3-176l1 0m0-6l1 0m37 189l1 0m26-87l1 0m-45-124l1 0m-56 103l1 0m30-68l1 0m-8 15l1 0m-18 3l1 0m14 149l1 0m-5-94l1 0m11 71l1 0m-31-110l1 0m98 70l1 0m0 13l1 0m-56-132l1 0m-26 46l1 0m80 20l1 0m-85-53l1 0m77 86l1 0m-52 92l1 0m-10-35l1 0m-12-93l1 0m11 112l1 0m-9-13l1 0m8-171l1 0m-19 174l1 0m77-80l1 0m-72 78l1 0m-3-59l1 0m32 78l1 0m-40-126l1 0m20-64l1 0m51 150l1 0m-23 47l1 0m-49-13l1 0m80-61l1 0m-102-41l1 0m69-80l1 0m-31 196l1 0m51-169l1 0m-63 95l1 0m-3-98l1 0m37 166l1 0m-54-62l1 0m36-134l1 0m-38 76l1 0m10 90l1 0m-18-21l1 0m46 60l1 0m-15-199l1 0m15 199l1 0m-36-140l1 0m29-71l1 0m37 183l1 0m-30-183l1 0m-30 22l1 0m69 95l1 0m-78-71l1 0m-1 156l1 0m-15-152l1 0m14 43l1 0m-4-58l1 0m-19 35l1 0m19 114l1 0m-15-97l1 0m19 44l1 0m65 52l1 0m-62-149l1 0m-27 81l1 0m5 5l1 0m26 79l1 0m-22-26l1 0m44-163l1 0m-57 105l1 0m17 81l1 0m15-181l1 0m-29 101l1 0m-6-85l1 0m20 139l1 0m-12-55l1 0m16 86l1 0m20-195l1 0m-33 183l1 0m57-3l1 0m-59 8l1 0m28 18l1 0m44-100l1 0m-52-113l1 0m52 117l1 0m-93-50l1 0m13 79l1 0m30-136l1 0m46 115l1 0m-82 49l1 0m62-139l1 0m-58 6l1 0m71 19l1 0m-53 156l1 0m-2-5l1 0m-2-193l1 0m-6-10l1 0m-10 24l1 0m-10 116l1 0m1-69l1 0m66 20l1 0m5-10l1 0m-77 92l1 0m47 20l1 0m-37-164l1 0m-9 14l1 0m69 56l1 0m-29-89l1 0m23 144l1 0m-64 40l1 0m2-105l1 0m20 120l1 0m2-9l1 0m-44-116l1 0m15-44l1 0m8 162l1 0m51-166l1 0m-59 117l1 0m60 21l1 0m-92-128l1 0m40-46l1 0m45 157l1 0m-38-145l1 0m-22 152l1 0m24-159l1 0m-1-8l1 0m-22 205l1 0m8-201l1 0m-17 117l1 0m-21-70l1 0m92 76l1 0m-56-123l1 0m28 20l1 0m-76 60l1 0m15-65l1 0m-15 24l1 0m26-22l1 0m41 184l1 0m-36-194l1 0m-23 23l1 0m13 40l1 0m25-72l1 0m-26 10l1 0m-1 81l1 0m76 50l1 0m-40-139l1 0m-26 2l1 0m47 38l1 0m-50-29l1 0m20-19l1 0m35 56l1 0m-96 52l1 0m66 97l1 0m-2-192l1 0m-51 17l1 0m-7 34l1 0m10 64l1 0m-15 43l1 0m12-53l1 0m-19-12l1 0m93-36l1 0m-68 128l1 0m-12-171l1 0m58 172l1 0m-48-159l1 0m-12 151l1 0m74-88l1 0m-62-45l1 0m-33-3l1 0m9 15l1 0m30 139l1 0m28-190l1 0m33 104l1 0m-79 76l1 0m-4-174l1 0m-4 21l1 0m-2 135l1 0m68-5l1 0m-63-137l1 0m69 102l1 0m-38 67l1 0m-50-155l1 0m8 1l1 0m7 139l1 0m55-127l1 0m-93 53l1 0m21 60l1 0m36-178l1 0m0 7l1 0m9 9l1 0m27 154l1 0m-11-153l1 0m-51-1l1 0m-11 25l1 0m7 3l1 0m24 170l1 0m26-172l1 0m-69-12l1 0m45 174l1 0m-28-7l1 0m-3-171l1 0m59 47l1 0m-76-36l1 0m-17 68l1 0m42 103l1 0m-21-54l1 0m19 54l1 0m-12-163l1 0m-17 84l1 0m-9-21l1 0m-8 37l1 0m29-84l1 0m-11 91l1 0m-3-40l1 0m20 87l1 0m-16-26l1 0m-21-113l1 0m82-19l1 0m14 97l1 0m-81 57l1 0m20 13l1 0m-30-104l1 0m81 16l1 0m-98 7l1 0m5 28l1 0m9-97l1 0m15-32l1 0m56 139l1 0m-12-126l1 0m-5-18l1 0m-56 31l1 0m77 21l1 0m-64-54l1 0m-26 49l1 0m54 135l1 0m23-55l1 0m-76-33l1 0m23-109l1 0m59 123l1 0m2 10l1 0m-7 42l1 0m6-53l1 0m-73-51l1 0m67 70l1 0m1-5l1 0m-92-40l1 0m46-94l1 0m14 188l1 0m-74-65l1 0m52 81l1 0m46-53l1 0m-15-125l1 0m-61-19l1 0m80 127l1 0m-17-10l1 0m-33-126l1 0m-24 20l1 0m40 170l1 0m-46-40l1 0m76-51l1 0m-61-93l1 0m55 62l1 0m-25-61l1 0m-60 5l1 0m29-16l1 0m-40 95l1 0m14 100l1 0m-12-88l1 0m45 106l1 0m36-108l1 0m-83-25l1 0m21-64l1 0m7 192l1 0m-23-65l1 0m51 41l1 0m-75-122l1 0m7 0l1 0m9 15l1 0m13-73l1 0m7 0l1 0m6-5l1 0m34 22l1 0m15 22l1 0m-76-5l1 0m72 118l1 0m-59-132l1 0m58 54l1 0m-80 67l1 0m15-138l1 0m-11 11l1 0m22 199l1 0m17-213l1 0m33 60l1 0m-69-57l1 0m61 92l1 0m-6 58l1 0m7-103l1 0m-64 139l1 0m65-90l1 0m-68-90l1 0m-24 69l1 0m15-59l1 0m62 138l1 0m-58 35l1 0m-8-35l1 0m9 20l1 0m2 33l1 0m24-4l1 0m14-194l1 0m-73 68l1 0m84 53l1 0m-69-16l1 0m1 25l1 0m61 31l1 0m3-127l1 0m-66 123l1 0m-5-8l1 0m-10-30l1 0m67 35l1 0m-61-109l1 0m-7 30l1 0m-14 31l1 0m93-66l1 0m-1 69l1 0m-71-5l1 0m-4-95l1 0m-10 121l1 0m28 52l1 0m39-170l1 0m-52-26l1 0m-11 161l1 0m51 34l1 0m-54-28l1 0m67-97l1 0m-77 67l1 0m51-127l1 0m-46 173l1 0m-1-58l1 0m1 10l1 0m63 31l1 0m3-119l1 0m-72-4l1 0m20-37l1 0m57 90l1 0m-21-70l1 0m-73 55l1 0m84 71l1 0m-3-107l1 0m12 84l1 0m-6-35l1 0m4-35l1 0m-47 152l1 0m20-23l1 0m-21 22l1 0m35-150l1 0m-16 134l1 0m17-104l1 0m-67-68l1 0m-17 88l1 0m7-28l1 0m76 39l1 0m-71 70l1 0m64-120l1 0m-59 82l1 0m6 51l1 0m-6-191l1 0m-40 97l1 0m49-103l1 0m-36 42l1 0m48-44l1 0m-1 6l1 0m-31 180l1 0m66-108l1 0m-54 123l1 0m-32-135l1 0m81 68l1 0m-53-136l1 0m-22 45l1 0m71 57l1 0m-76-84l1 0m31-31l1 0m25 196l1 0m18-102l1 0m-85-41l1 0m20 154l1 0m60-106l1 0m-92-7l1 0m95 65l1 0m-24-139l1 0m14 142l1 0m-53-135l1 0m-12-4l1 0m65 49l1 0m-63-44l1 0m47 20l1 0m-79 3l1 0m28-15l1 0m-3-1l1 0m75 69l1 0m-66 105l1 0m24-193l1 0m-63 126l1 0m96-68l1 0m-67-35l1 0m-31 57l1 0m25 118l1 0m-12-182l1 0m3-17l1 0m65 100l1 0m-80-60l1 0m55 144l1 0m-21 16l1 0m31-18l1 0m-19 11l1 0m-33-175l1 0m-8 114l1 0m2-99l1 0m71 85l1 0m-88 22l1 0m68-116l1 0m-62 93l1 0m44-107l1 0m-21 183l1 0m-25-142l1 0m-23 50l1 0m10 26l1 0m39 73l1 0m-39-72l1 0m4-48l1 0m63-73l1 0m17 115l1 0m-49 79l1 0m-25-144l1 0m-8-10l1 0m74-5l1 0m-2 83l1 0m-19 71l1 0m-72-43l1 0m91-55l1 0m-72-26l1 0m-20-22l1 0m89 85l1 0m-79-98l1 0m82 41l1 0m-92 54l1 0m88-58l1 0m-67-73l1 0m2-11l1 0m-11 117l1 0m70-14l1 0m-48 106l1 0m-33-6l1 0m2-79l1 0m-3 20l1 0m38-123l1 0m22 155l1 0m-66-108l1 0m49 147l1 0m-43-149l1 0m19 138l1 0m-17-14l1 0m-22-38l1 0m28 35l1 0m-27-21l1 0m36-158l1 0m-28 77l1 0m1 77l1 0m27 51l1 0m-38-142l1 0m22 134l1 0m8 3l1 0m-8 7l1 0m44-182l1 0m9 114l1 0m-23-132l1 0m10 155l1 0m8-15l1 0m-51-134l1 0m39 22l1 0m-2-22l1 0m13 46l1 0m-81 60l1 0m-4-19l1 0m3 57l1 0m-4-129l1 0m76 131l1 0m-22-157l1 0m-46 42l1 0m37 157l1 0m23-37l1 0m-47 15l1 0m59-49l1 0m-15-83l1 0m-58 83l1 0m-1 45l1 0m69-112l1 0m-42-66l1 0m-45 63l1 0m57-59l1 0m-61 22l1 0m15 175l1 0m1-71l1 0m28 68l1 0m-17-186l1 0m-40 119l1 0m19 40l1 0m8-164l1 0m53 27l1 0m-23 177l1 0m29-109l1 0m6 15l1 0m-70-110l1 0m16 191l1 0m47-123l1 0m-80 54l1 0m49 70l1 0m-63-149l1 0m57-57l1 0m-36 10l1 0m23 197l1 0m-4-207l1 0m-12 10l1 0m-35 143l1 0m61 53l1 0m-42-98l1 0m23-98l1 0m-40 37l1 0m67 129l1 0m-68-36l1 0m-15-90l1 0m29-27l1 0m1 118l1 0m-19-87l1 0m-6 104l1 0m68 39l1 0m-29 19l1 0m0-207l1 0m-26 29l1 0m-2-6l1 0m-2 168l1 0m24 13l1 0m-41-131l1 0m20 46l1 0m69-25l1 0m-89 25l1 0m12 54l1 0m1-109l1 0m-2 79l1 0m2-20l1 0m71-22l1 0m-72 73l1 0m31 23l1 0m-18-204l1 0m-7 186l1 0m-9-168l1 0m1 170l1 0m11 29l1 0m1-208l1 0m-34 22l1 0m18 61l1 0m34-82l1 0m29 114l1 0m-70-97l1 0m-17 45l1 0m29-56l1 0m57 80l1 0m-73 40l1 0m2-75l1 0m-20 106l1 0m23-148l1 0m12-20l1 0m-18 17l1 0m62 133l1 0m-94 2l1 0m96-41l1 0m-11-74l1 0m-15 170l1 0m-47-191l1 0m-3 40l1 0m3-26l1 0m63 113l1 0m-67 29l1 0m28-156l1 0m-36 8l1 0m-4 35l1 0m18 148l1 0m17-194l1 0m-55 143l1 0m35 54l1 0m-7-34l1 0m-29-5l1 0m20-154l1 0m38-8l1 0m-25 191l1 0m-9-89l1 0m19-105l1 0m-36 149l1 0m82-29l1 0m-56 79l1 0m-30-149l1 0m32 166l1 0m-23-75l1 0m-26 14l1 0m19-135l1 0m-6 86l1 0m82 10l1 0m-76-11l1 0m5 77l1 0m63-82l1 0m-77 4l1 0m28 100l1 0m36-162l1 0m-55 140l1 0m17-178l1 0m26 172l1 0m-52-162l1 0m4 191l1 0m63-110l1 0m7-5l1 0m-75-74l1 0m26 194l1 0m-11-205l1 0m37 31l1 0m-62 158l1 0m1-47l1 0m-26-18l1 0m93 4l1 0m-75-19l1 0m-4-49l1 0m70 104l1 0m-1-8l1 0m8-22l1 0m-35 55l1 0m-32-125l1 0m16-63l1 0m-28 107l1 0m45-98l1 0m-16-17l1 0m-20 197l1 0m44-171l1 0m-66 77l1 0m7-26l1 0m64-20l1 0m-57-43l1 0m-19 115l1 0m19-107l1 0m21 180l1 0m18-13l1 0m-20 23l1 0m-20-185l1 0m36-6l1 0m-76 54l1 0m20-58l1 0m11 28l1 0m-3 143l1 0m-32-89l1 0m90 58l1 0m-64-81l1 0m62 59l1 0m6 22l1 0m-32 22l1 0m14-29l1 0m-33-56l1 0m46 25l1 0m-37-42l1 0m-20 24l1 0m25-43l1 0m-21 17l1 0m23 18l1 0m16-2l1 0m-19-34l1 0m9 81l1 0m-5-3l1 0m-40-90l1 0m40 55l1 0m-25-32l1 0m7 103l1 0m32-10l1 0m-69-6l1 0m46-24l1 0m-14-4l1 0m-32-74l1 0m38-3l1 0m-6 64l1 0m-15 82l1 0m27-117l1 0m-38-19l1 0m57 80l1 0m-62-53l1 0m46 60l1 0m-35 20l1 0m33-103l1 0m-58 36l1 0m50-60l1 0m5 99l1 0m-58-21l1 0m-4-50l1 0m20-17l1 0m-4 19l1 0m13 51l1 0m22 31l1 0m-37-123l1 0m21 87l1 0m-37-60l1 0m1 117l1 0m17-103l1 0m-26 32l1 0m60 47l1 0m-45-71l1 0m49 78l1 0m-55-38l1 0m15-36l1 0m-17 16l1 0m50-37l1 0m-39 13l1 0m-1 48l1 0m35-28l1 0m-41 36l1 0m29-44l1 0m2 42l1 0m18-36l1 0m-68 74l1 0m-4-17l1 0m49 35l1 0m4-122l1 0m-1-6l1 0m-37 133l1 0m15 7l1 0m-13-59l1 0m-31 10l1 0m39-105l1 0m-9 85l1 0m7-6l1 0m-6-67l1 0m17 22l1 0m-9 38l1 0m-45-4l1 0m34 16l1 0m-30-24l1 0m56 30l1 0m-56 13l1 0m32 32l1 0m-20-53l1 0m-24-39l1 0m29 87l1 0m26-112l1 0m13 40l1 0m-20-12l1 0m12 42l1 0m-25-101l1 0m-2 100l1 0m-27-84l1 0m57 34l1 0m-64 40l1 0m64-53l1 0m-46-9l1 0m8 14l1 0m19-33l1 0m3 76l1 0m-14-16l1 0m-29 91l1 0m29-54l1 0m-2-87l1 0m-54 47l1 0m67-4l1 0m-68 18l1 0m65-62l1 0m-44 42l1 0m45-22l1 0m-48 31l1 0m-1 86l1 0m-22-57l1 0m24-28l1 0m11 75l1 0m-26-13l1 0m34 10l1 0m10-57l1 0m0 52l1 0m-23-91l1 0m5 62l1 0m1 27l1 0m7-116l1 0m7 39l1 0m11 47l1 0m-38 19l1 0m5-101l1 0m17 64l1 0m9 32l1 0m-59-85l1 0m13 128l1 0m-16-82l1 0m38-60l1 0m-20 27l1 0m3 108l1 0m-12-31l1 0m18-93l1 0m-18 129l1 0m27-123l1 0m10 76l1 0m-60-60l1 0m30-37l1 0m-34 22l1 0m32-43l1 0m17 68l1 0m13 64l1 0m-58-31l1 0m42 68l1 0m12-127l1 0m-57 20l1 0m14 30l1 0m17-74l1 0m-6-8l1 0m35 95l1 0m-49-75l1 0m49 40l1 0m-41-44l1 0m-34 37l1 0m47 105l1 0m-30-28l1 0m54-23l1 0m-56-57l1 0m-8-21l1 0m-4-19l1 0m0 56l1 0m1-55l1 0m9-17l1 0m-29 102l1 0m55-30l1 0m-24 26l1 0m27-9l1 0m2-33l1 0m-5 0l1 0m-9-6l1 0m-31 21l1 0m6 86l1 0m0-42l1 0m-28-36l1 0m59-63l1 0m-23 72l1 0m11 56l1 0m-21-51l1 0m13-43l1 0m20 17l1 0m-21 100l1 0m6-99l1 0m13 39l1 0m-36-74l1 0m-19 67l1 0m21 56l1 0m2-130l1 0m17 111l1 0m7 1l1 0m5-93l1 0m-27 100l1 0m11 16l1 0m3-106l1 0m0-15l1 0m-1 77l1 0m-61-9l1 0m44 25l1 0m-22-56l1 0m-10-58l1 0m28 15l1 0m-19 44l1 0m8 0l1 0m-5-7l1 0m22 47l1 0m-46-22l1 0m65-24l1 0m-55 38l1 0m19-100l1 0m-20 91l1 0" fill="none" stroke="#b8506c" stroke-width="1.6" stroke-linecap="round"/><path d="M50 122l3 1m-3-10l3 1m-2 8l3 1m-3-10l3 1m-3 10l3 1m-2-10l3 1m-2 11l3 1m-3-10l3 1m-2 10l3 1m-2-9l3 1m-2 11l3 1m-3-9l3 1m-2 12l3 1m-2-9l3 1m-2 12l3 1m-2-8l3 1m-2 12l3 1m-2-7l3 1m-2 11l3 1m-2-6l3 1m-1 11l3 1m-3-5l3 1m-1 11l3 1m-2-5l3 1m-2 11l3 1m-2-5l3 1m-2 11l3 1m-2-4l3 1m-2 10l3 1m-1-2l3 1m-3 9l3 1m-2-2l3 1m-2 8l3 1m-2-1l3 1m-2 8l3 1m-2-1l3 1m-3 7l3 1m-2 0l3 1m-2 6l3 1m-2 2l3 1m-3 3l3 1m-2 3l3 1m-3 3l3 1m-1 3l3 1m-4 3l3 1m-2 3l3 1m-2 1l3 1m-2 4l3 1m-4 0l3 1m-2 6l3 1m-3-3l3 1m-1 6l3 1m-4-2l3 1m-2 6l3 1m-3-4l3 1m-2 7l3 1m-3-6l3 1m-2 7l3 1m-3-6l3 1m-2 7l3 1m-3-7l3 1m-2 6l3 1m-4-7l3 1m-1 8l3 1m-2-2l3 1m36-158l3 1m4-26l3 1m-9 24l3 1m-1-9l3 1m0-10l3 1m0-8l3 1m-10 24l3 1m0-9l3 1m-1-9l3 1m0-9l3 1m-9 24l3 1m-1-8l3 1m0-9l3 1m-1-9l3 1m-9 25l3 1m0-9l3 1m-1-8l3 1m0-9l3 1m-9 24l3 1m0-8l3 1m-1-7l3 1m0-10l3 1m-9 25l3 1m-1-8l3 1m0-8l3 1m0-8l3 1m-10 23l3 1m0-7l3 1m0-7l3 1m0-8l3 1m-10 24l3 1m1-8l3 1m-1-7l3 1m0-7l3 1m-10 20l3 1m0-5l3 1m0-6l3 1m0-5l3 1m-10 18l3 1m0-4l3 1m-1-7l3 1m1-4l3 1m-10 18l3 1m0-5l3 1m1-5l3 1m-1-4l3 1m-10 15l3 1m0-4l3 1m0-4l3 1m-1-4l3 1m-9 14l3 1m0-2l3 1m0-5l3 1m0-3l3 1m-10 12l3 1m0-2l3 1m-1-3l3 1m1-1l3 1m-11 7l3 1m0-1l3 1m0-1l3 1m0 0l3 1m-11 4l3 1m0 1l3 1m1-2l3 1m0 1l3 1m-10 4l3 1m0 1l3 1m-1-3l3 1m0 4l3 1m-10 0l3 1m0 1l3 1m0 1l3 1m0-1l3 1m-11 0l3 1m1 4l3 1m-1 1l3 1m1 0l3 1m-11-3l3 1m0 2l3 1m-1 5l3 1m2 1l3 1m-13-4l3 1m0 3l3 1m1 0l3 1m0 6l3 1m-11-13l3 1m-1 7l3 1m1 7l3 1m1 2l3 1m-12-11l3 1m0 6l3 1m0 5l3 1m0 5l3 1m-11-17l3 1m0 6l3 1m0 4l3 1m-1 5l3 1m-10-11l3 1m1 3l3 1m-1 6l3 1m0 5l3 1m-10-15l3 1m-1 2l3 1m1 8l3 1m-1 5l3 1m-10-18l3 1m0 4l3 1m0 10l3 1m-1 3l3 1m-11-17l3 1m1 8l3 1m-1 6l3 1m1 4l3 1m-11-21l3 1m0 7l3 1m0 6l3 1m-1 8l3 1m-10-21l3 1m0 4l3 1m-1 7l3 1m0 7l3 1m-9-23l3 1m-1 5l3 1m0 7l3 1m-1 7l3 1m-7-15l3 1m-1 6l3 1m0 8l3 1m37-163l3 1m0-5l3 1m-8 14l3 1m1-7l3 1m4-18l3 1m-13 20l3 1m1-6l3 1m1-8l3 1m-1-9l3 1m-8 27l3 1m-2-13l3 1m-1-11l3 1m1-3l3 1m-9 21l3 1m-3-5l3 1m2-15l3 1m-2-5l3 1m-3 21l3 1m-4-5l3 1m2-17l3 1m-11 22l3 1m0-11l3 1m1-3l3 1m1-10l3 1m-12 24l3 1m1-4l3 1m0-9l3 1m-9 18l3 1m2-11l3 1m-1-6l3 1m-3-15l3 1m-6 29l3 1m1-2l3 1m-2-12l3 1m-4 11l3 1m2-23l3 1m-9 34l3 1m0-10l3 1m-2-3l3 1m-4 13l3 1m-2-3l3 1m0-9l3 1m0 4l3 1m-12 2l3 1m1 3l3 1m-2-7l3 1m1-3l3 1m-8 9l3 1m0 2l3 1m-1-1l3 1m-6 10l3 1m3-3l3 1m-4-14l3 1m-8 11l3 1m1 11l3 1m0-12l3 1m-2 7l3 1m-8 18l3 1m-3-13l3 1m2 2l3 1m0-9l3 1m-10 4l3 1m0-4l3 1m-1-1l3 1m-1 8l3 1m-12 4l3 1m8 4l3 1m-13 0l3 1m5 1l3 1m-1-6l3 1m-2-9l3 1m-6 10l3 1m1 17l3 1m-8-5l3 1m-1 0l3 1m0 10l3 1m-1-4l3 1m-11-10l3 1m-1 15l3 1m1-18l3 1m1 8l3 1m-10-13l3 1m1 11l3 1m-3 2l3 1m3 16l3 1m-14-17l3 1m2-1l3 1m0 2l3 1m0 11l3 1m-9-5l3 1m-4 5l3 1m5-1l3 1m-11-6l3 1m2 4l3 1m-2 2l3 1m0 6l3 1m-10-9l3 1m5 4l3 1m-4 1l3 1m-5-12l3 1m-6 4l3 1m1-1l3 1m-7-3l3 1m2 1l3 1m-4 11l3 1m2 1l3 1m-5-12l3 1m-1 14l3 1m-5-7l3 1m-5 1l3 1m0 2l3 1m-2-5l3 1m39-155l3 1m0 7l3 1m2 10l3 1m-3-14l3 1m3-14l3 1m-7 20l3 1m-3 11l3 1m0-16l3 1m7 12l3 1m-4 11l3 1m1 22l3 1m-1 5l3 1m0-20l3 1m-8 10l3 1m-2 8l3 1m6 28l3 1m-10-9l3 1m-4-1l3 1m-305 76l3 1m-3 8l3 1m42-183l3 1m-1-10l3 1m-4 8l3 1m-1-10l3 1m-4 9l3 1m-1-9l3 1m-3 9l3 1m-2-8l3 1m-3 9l3 1m-1-8l3 1m-4 10l3 1m-1-8l3 1m-2 10l3 1m-2-8l3 1m-2 12l3 1m-1-8l3 1m-3 11l3 1m-2-7l3 1m-2 11l3 1m-2-6l3 1m-2 10l3 1m-1-5l3 1m-3 10l3 1m-1-4l3 1m-3 10l3 1m-1-4l3 1m-3 10l3 1m-1-4l3 1m-4 10l3 1m0-3l3 1m-3 9l3 1m-1-2l3 1m-4 8l3 1m0-2l3 1m-4 9l3 1m-1-1l3 1m-4 6l3 1m0 0l3 1m-4 6l3 1m-1 1l3 1m-4 4l3 1m0 3l3 1m-5 2l3 1m0 3l3 1m-5 2l3 1m-1 4l3 1m-4 1l3 1m0 4l3 1m-5 0l3 1m0 4l3 1m-5-1l3 1m0 5l3 1m-5-3l3 1m0 7l3 1m-5-4l3 1m0 6l3 1m-5-5l3 1m-1 7l3 1m-4-6l3 1m-1 7l3 1m-9-23l3 1m-1 7l3 1m0 7l3 1m-1 6l3 1m-9-23l3 1m-1 7l3 1m0 7l3 1m-1 7l3 1m-9-25l3 1m2 15l3 1m-1 7l3 1m38-162l3 1m0-9l3 1m-6 15l3 1m-1-9l3 1m0-8l3 1m0-11l3 1m-10 26l3 1m-1-9l3 1m1-10l3 1m-1-10l3 1m-9 26l3 1m0-10l3 1m0-6l3 1m-1-9l3 1m-10 23l3 1m2-4l3 1m-3-14l3 1m1-12l3 1m-10 29l3 1m0-10l3 1m0-7l3 1m1-7l3 1m-11 21l3 1m1-5l3 1m-1-10l3 1m1-6l3 1m-12 24l3 1m1-10l3 1m0-5l3 1m-1-10l3 1m-10 24l3 1m0-7l3 1m1-8l3 1m0-8l3 1m-10 23l3 1m-1-1l3 1m1-9l3 1m0-10l3 1m-12 21l3 1m2-2l3 1m-1-5l3 1m0-4l3 1m-9 16l3 1m-2-2l3 1m0-11l3 1m2-3l3 1m-12 17l3 1m0-8l3 1m2-3l3 1m-2 3l3 1m-11 7l3 1m0-8l3 1m2 1l3 1m0-4l3 1m-11 17l3 1m0-2l3 1m1-6l3 1m0 3l3 1m-11 4l3 1m0-6l3 1m1 3l3 1m-3-3l3 1m-10 12l3 1m1-14l3 1m0 10l3 1m0-10l3 1m-10 10l3 1m1 0l3 1m-1-2l3 1m0 0l3 1m-12 3l3 1m3 3l3 1m-1-3l3 1m-1 0l3 1m-12-2l3 1m1 8l3 1m1 4l3 1m-1-1l3 1m-9 1l3 1m0-3l3 1m0 3l3 1m0-1l3 1m-11-1l3 1m-2 6l3 1m1 2l3 1m-1 2l3 1m-9-13l3 1m-2 4l3 1m2 13l3 1m1-2l3 1m-11-14l3 1m-2 6l3 1m0 9l3 1m1 4l3 1m-10-19l3 1m-2 9l3 1m1 7l3 1m-1-10l3 1m-10 2l3 1m0 1l3 1m0 5l3 1m1 4l3 1m-13-10l3 1m2 1l3 1m-2 5l3 1m2 8l3 1m-10-21l3 1m0 10l3 1m-3 6l3 1m2 3l3 1m-11-20l3 1m0 8l3 1m-1 6l3 1m0 9l3 1m-10-21l3 1m2 1l3 1m-4 14l3 1m0 1l3 1m-8-18l3 1m-3 6l3 1m3 10l3 1m-1 1l3 1m-11-21l3 1m-1 2l3 1m3 23l3 1m-9-32l3 1m1 18l3 1m42-154l3 1m-4 7l3 1m-2-7l3 1m-3 13l3 1m-1-8l3 1m-2-16l3 1m-7 22l3 1m2-13l3 1m0 2l3 1m-1-5l3 1m-6-14l3 1m-2 15l3 1m-4 11l3 1m-1-7l3 1m-2 4l3 1m5-6l3 1m-10 16l3 1m4-19l3 1m-11 22l3 1m9-21l3 1m-7 17l3 1m-1 8l3 1m-2-11l3 1m-3 21l3 1m-2-10l3 1m-3 2l3 1m2 0l3 1m-5-14l3 1m-7 18l3 1m0-5l3 1m-1 8l3 1m-6 12l3 1m6-11l3 1m-12 13l3 1m8-7l3 1m-2 11l3 1m-11 12l3 1m3-9l3 1m-2-1l3 1m-8 0l3 1m6 3l3 1m-3 14l3 1m-6 10l3 1m4-16l3 1m-4 10l3 1m-5 15l3 1m0 2l3 1m-4 2l3 1m-2 6l3 1m-3 1l3 1m-1-15l3 1m0 20l3 1m-12-20l3 1m3 12l3 1m-1-2l3 1m4 12l3 1" fill="none" stroke="#bc4a6a" stroke-width="2.0" stroke-linecap="round"/><path d="M95 295l3 1m-1-2l3 1m-2 8l3 1m-2-11l3 1m-2 7l3 1m-3-11l3 1m-1 8l3 1m-3-13l3 1m-2 8l3 1m-3-13l3 1m-1 6l3 1m-3-12l3 1m-2 5l3 1m-3-13l3 1m-1 6l3 1m-4-13l3 1m-1 5l3 1m-3-13l3 1m-1 4l3 1m-3-13l3 1m-2 3l3 1m-3-12l3 1m-1 3l3 1m-4-12l3 1m-1 2l3 1m-3-12l3 1m-1 1l3 1m-4-11l3 1m0 0l3 1m-4-10l3 1m-1 0l3 1m-3-10l3 1m-1-1l3 1m-4-10l3 1m0-1l3 1m-4-8l3 1m-1-3l3 1m-3-8l3 1m-1-3l3 1m-3-6l3 1m-1-3l3 1m-4-6l3 1m-1-5l3 1m-3-3l3 1m-1-7l3 1m-4-2l3 1m-1-7l3 1m-3-1l3 1m-1-7l3 1m-4 0l3 1m0-8l3 1m-4 1l3 1m-1-8l3 1m-4 2l3 1m-1-9l3 1m-4 3l3 1m-1-8l3 1m-4 3l3 1m-1-9l3 1m-9 22l3 1m-1-9l3 1m0-9l3 1m-1-10l3 1m-10 23l3 1m0-9l3 1m-1-9l3 1m0-10l3 1m-8 16l3 1m0-10l3 1m38 143l3 1m-1 0l3 1m-1 6l3 1m1 5l3 1m-1 10l3 1m-10-25l3 1m0 6l3 1m0 8l3 1m-1 7l3 1m-9-26l3 1m-1 7l3 1m0 4l3 1m0 6l3 1m-10-26l3 1m-1 7l3 1m-1 7l3 1m2 5l3 1m-10-27l3 1m-1 7l3 1m0 5l3 1m-1 5l3 1m-8-21l3 1m-2 5l3 1m0 6l3 1m1 3l3 1m-9-23l3 1m-1 7l3 1m-1 6l3 1m-1 4l3 1m-8-24l3 1m-1 2l3 1m0 8l3 1m0 2l3 1m-10-22l3 1m0 3l3 1m1 6l3 1m-2 5l3 1m-10-22l3 1m1-3l3 1m-2 12l3 1m0 2l3 1m-10-19l3 1m1-1l3 1m-1 2l3 1m1 2l3 1m-11-15l3 1m-1 6l3 1m2-1l3 1m-1 9l3 1m-9-23l3 1m0 3l3 1m1-1l3 1m-2 0l3 1m-10-15l3 1m1 2l3 1m-1 8l3 1m-2-7l3 1m-9-16l3 1m0 5l3 1m-1 1l3 1m0-4l3 1m-9-1l3 1m-1 2l3 1m0-5l3 1m0 0l3 1m-10-11l3 1m-1 0l3 1m0-3l3 1m0-8l3 1m-9-4l3 1m-1 2l3 1m-1-6l3 1m0-4l3 1m-10 3l3 1m0-4l3 1m1-5l3 1m-1-2l3 1m-10 0l3 1m1-7l3 1m-2 2l3 1m1-11l3 1m-9 0l3 1m-2 2l3 1m0-10l3 1m-1-2l3 1m-10 2l3 1m2-1l3 1m-1-7l3 1m-1-3l3 1m-11 9l3 1m1-7l3 1m0-11l3 1m0-9l3 1m-10 19l3 1m-1-7l3 1m1-12l3 1m-1-2l3 1m-9 9l3 1m-2-9l3 1m0-3l3 1m0-11l3 1m-9 15l3 1m-1-4l3 1m-1-15l3 1m0 2l3 1m-8 14l3 1m-1-16l3 1m-1-4l3 1m1-1l3 1m-10 10l3 1m-1-6l3 1m-1-9l3 1m2-9l3 1m-11 17l3 1m0 0l3 1m-2-16l3 1m-1-9l3 1m-8 25l3 1m-2-13l3 1m1-8l3 1m1-9l3 1m-10 22l3 1m3-28l3 1m-2 8l3 1m46 161l3 1m-8-15l3 1m2 21l3 1m-5-21l3 1m0-3l3 1m-3 17l3 1m-10-27l3 1m7 21l3 1m-5-11l3 1m-5-25l3 1m2 26l3 1m1 1l3 1m-10-16l3 1m-2-4l3 1m-5-22l3 1m1 15l3 1m0 0l3 1m-2 1l3 1m-2-1l3 1m-4-6l3 1m3-10l3 1m-14 5l3 1m6-10l3 1m-5-9l3 1m3 23l3 1m-5-24l3 1m-4-15l3 1m-1 7l3 1m-2-10l3 1m-8-1l3 1m2 2l3 1m4 6l3 1m-15-25l3 1m7-9l3 1m-7-4l3 1m3-1l3 1m-9-2l3 1m-1-12l3 1m1 6l3 1m-5 3l3 1m-3-18l3 1m-3-12l3 1m2-3l3 1m1-14l3 1m-3-1l3 1m-6 1l3 1m2-16l3 1m-4-9l3 1m0 2l3 1m0-7l3 1m0 5l3 1m2-6l3 1m-4-9l3 1m-9 24l3 1m3-19l3 1m-1-7l3 1m-282 170l3 1m-3 7l3 1m-2-11l3 1m-2 8l3 1m-2-12l3 1m-3 7l3 1m-2-13l3 1m-2 8l3 1m-2-14l3 1m-3 8l3 1m-2-14l3 1m-3 6l3 1m-2-13l3 1m-2 5l3 1m-2-13l3 1m-3 5l3 1m-2-13l3 1m-3 4l3 1m-1-13l3 1m-3 4l3 1m-2-14l3 1m-2 3l3 1m-2-13l3 1m-3 3l3 1m-2-13l3 1m-2 2l3 1m-2-12l3 1m-2 0l3 1m-2-10l3 1m-2-1l3 1m-2-10l3 1m-3-1l3 1m-2-9l3 1m-1-3l3 1m-3-8l3 1m-2-3l3 1m-2-7l3 1m-2-4l3 1m-2-6l3 1m-2-5l3 1m-2-4l3 1m-2-5l3 1m-3-4l3 1m-2-7l3 1m-2-2l3 1m-2-6l3 1m-2-2l3 1m-3-7l3 1m-2-2l3 1m-2-7l3 1m-2 2l3 1m-3-10l3 1m-3 4l3 1m-1-9l3 1m-4 3l3 1m-2-10l3 1m-3 5l3 1m-1-9l3 1m-4 5l3 1m-2-9l3 1m-4 6l3 1m-2-10l3 1m40 165l3 1m-5-10l3 1m0 7l3 1m-1 8l3 1m-1 7l3 1m-8-26l3 1m0 6l3 1m-1 7l3 1m-1 7l3 1m-8-26l3 1m-1 7l3 1m0 6l3 1m-1 7l3 1m-9-26l3 1m0 6l3 1m-1 7l3 1m0 6l3 1m-10-27l3 1m0 7l3 1m-1 6l3 1m0 7l3 1m-9-27l3 1m0 6l3 1m-1 7l3 1m0 5l3 1m-10-26l3 1m0 6l3 1m0 5l3 1m-1 5l3 1m-9-23l3 1m-1 5l3 1m0 4l3 1m0 4l3 1m-9-22l3 1m-2 3l3 1m0 5l3 1m0 4l3 1m-9-21l3 1m-1 4l3 1m0 2l3 1m0 5l3 1m-10-20l3 1m0 1l3 1m0 5l3 1m0 1l3 1m-10-17l3 1m-1 1l3 1m0 2l3 1m0 2l3 1m-10-16l3 1m0 2l3 1m0 3l3 1m0 0l3 1m-10-15l3 1m-1 2l3 1m1 0l3 1m-1 1l3 1m-10-12l3 1m0-3l3 1m0 1l3 1m-1 2l3 1m-9-11l3 1m0-3l3 1m-1-1l3 1m1 0l3 1m-10-7l3 1m-1-2l3 1m0-2l3 1m0-1l3 1m-10-4l3 1m0-3l3 1m0-5l3 1m0-1l3 1m-11-2l3 1m1-4l3 1m-1-1l3 1m0-6l3 1m-9 0l3 1m0-4l3 1m-2-3l3 1m1-7l3 1m-10 6l3 1m1-7l3 1m-1-1l3 1m-1-8l3 1m-9 8l3 1m0-7l3 1m-1-6l3 1m-1-8l3 1m-9 11l3 1m0-10l3 1m-1-1l3 1m0-7l3 1m-9 8l3 1m-1-7l3 1m0-8l3 1m0-3l3 1m-10 10l3 1m-1-8l3 1m0-6l3 1m0-8l3 1m-8 15l3 1m-2-10l3 1m-1-5l3 1m0-9l3 1m-8 15l3 1m-1-9l3 1m-1-6l3 1m-1-8l3 1m-9 18l3 1m-1-8l3 1m0-8l3 1m-1-10l3 1m-9 19l3 1m0-9l3 1m-1-8l3 1m-1-10l3 1m-8 22l3 1m-2-10l3 1m1-7l3 1m-1-6l3 1m-9 17l3 1m-1-7l3 1m0-11l3 1m-1-7l3 1m-9 21l3 1m4-25l3 1m39 165l3 1m-4-13l3 1m3 18l3 1m-9-25l3 1m-3 8l3 1m0 8l3 1m0 7l3 1m-6-28l3 1m-3 9l3 1m1 8l3 1m-2 9l3 1m-8-31l3 1m-4 11l3 1m3 5l3 1m-1 2l3 1m-9-21l3 1m-1 6l3 1m1 6l3 1m-1 4l3 1m-4-12l3 1m1 4l3 1m-9-24l3 1m-1 4l3 1m0 12l3 1m-8-26l3 1m-3 9l3 1m0 5l3 1m1 7l3 1m-7-27l3 1m-2 2l3 1m0 5l3 1m-1 12l3 1m-8-24l3 1m-2 6l3 1m0 2l3 1m1 1l3 1m-11-15l3 1m-1 2l3 1m2 1l3 1m0 7l3 1m-9-19l3 1m1 5l3 1m0-2l3 1m-11-11l3 1m0-5l3 1m1 15l3 1m0-18l3 1m-10-6l3 1m-1 0l3 1m0 0l3 1m-1 8l3 1m-9-25l3 1m1 12l3 1m-1 3l3 1m-1-3l3 1m-8-21l3 1m-3 2l3 1m3-16l3 1m-9 3l3 1m1 7l3 1m-1-12l3 1m-1 1l3 1m-7-4l3 1m0-8l3 1m0 9l3 1m-9-7l3 1m0-10l3 1m-1-2l3 1m-3-6l3 1m-7-6l3 1m2 4l3 1m-1-6l3 1m-9 0l3 1m0 14l3 1m-3-22l3 1m-2 3l3 1m-4-3l3 1m3-14l3 1m-4 11l3 1m-2-2l3 1m0-23l3 1m-12 18l3 1m5-9l3 1m-3 1l3 1m-7-5l3 1m3-10l3 1m-11-2l3 1m5-13l3 1m-2 3l3 1m-10 18l3 1m4-20l3 1m-6 13l3 1m-1-6l3 1m0-21l3 1m-7 21l3 1m-1-5l3 1m-1-9l3 1m-6 4l3 1m0-11l3 1m-1-12l3 1m-6 18l3 1m5-15l3 1m34 153l3 1m4 0l3 1m-4-16l3 1m1 15l3 1m3 9l3 1m-9-40l3 1m2-2l3 1m2-8l3 1m8-3l3 1m-1-35l3 1m-3-37l3 1" fill="none" stroke="#ae2c52" stroke-width="2.3" stroke-linecap="round"/></g><defs><linearGradient id="bl1" x1="0" y1="0" x2="0" y2="1"><stop offset="0" stop-color="#8a93a8"/><stop offset="0.6" stop-color="#7585a6"/><stop offset="0.74" stop-color="#3f5fc0"/><stop offset="0.85" stop-color="#d8d0cc"/><stop offset="0.92" stop-color="#c8582f"/><stop offset="1" stop-color="#a02e22"/></linearGradient><linearGradient id="bl2" x1="0" y1="1" x2="0" y2="0"><stop offset="0" stop-color="#8a93a8"/><stop offset="0.6" stop-color="#7585a6"/><stop offset="0.74" stop-color="#3f5fc0"/><stop offset="0.85" stop-color="#d8d0cc"/><stop offset="0.92" stop-color="#c8582f"/><stop offset="1" stop-color="#a02e22"/></linearGradient></defs><path d="M24.6 56.5 C26.6 60 27.6 72 27.4 86 L27.2 98 L22.4 98 L22.4 86 C22.6 72 23.2 61 24.6 56.5Z" fill="url(#bl1)"/><path d="M22.4 112.5 L27.2 112.5 L27.4 126 C27.4 140 26.4 150 24.8 154.5 C23.2 150 22.6 138 22.4 126Z" fill="url(#bl2)"/><path d="M9.6 103.8 C12 101 18 100.5 23.5 102.6 L25 106.8 C19 108 12.5 107.6 9.6 103.8Z" fill="#7283a0"/><path d="M24 102.8 C29 102 34 100.6 38.4 101.6 C36.5 105.8 31 107.6 25.5 107.2Z" fill="#34405e"/><circle cx="24.6" cy="104.6" r="2.3" fill="#5a3030"/></g>
<text x="281.5" y="22.7" class="t" text-anchor="middle">(a)</text>
<text x="280" y="204.6" class="t" text-anchor="middle">(b)</text>
<text x="282" y="598" class="t" text-anchor="middle">(c)</text>
<rect x="81.5" y="220.5" width="402.3" height="320.1" fill="none" stroke="#4a4a4a" stroke-width="1.1"/>
<line x1="154.5" y1="540.6" x2="154.5" y2="544.1" stroke="#4a4a4a" stroke-width="1"/>
<text x="154.5" y="560.4" class="s" font-size="15" text-anchor="middle">0.2</text>
<line x1="229.5" y1="540.6" x2="229.5" y2="544.1" stroke="#4a4a4a" stroke-width="1"/>
<text x="229.5" y="560.4" class="s" font-size="15" text-anchor="middle">0.4</text>
<line x1="304.5" y1="540.6" x2="304.5" y2="544.1" stroke="#4a4a4a" stroke-width="1"/>
<text x="304.5" y="560.4" class="s" font-size="15" text-anchor="middle">0.6</text>
<line x1="379.5" y1="540.6" x2="379.5" y2="544.1" stroke="#4a4a4a" stroke-width="1"/>
<text x="379.5" y="560.4" class="s" font-size="15" text-anchor="middle">0.8</text>
<line x1="454.5" y1="540.6" x2="454.5" y2="544.1" stroke="#4a4a4a" stroke-width="1"/>
<text x="454.5" y="560.4" class="s" font-size="15" text-anchor="middle">1.0</text>
<line x1="78.0" y1="540.3" x2="81.5" y2="540.3" stroke="#4a4a4a" stroke-width="1"/>
<text x="74.8" y="545.7" class="s" font-size="15" text-anchor="end">0.00</text>
<line x1="78.0" y1="476.3" x2="81.5" y2="476.3" stroke="#4a4a4a" stroke-width="1"/>
<text x="74.8" y="481.7" class="s" font-size="15" text-anchor="end">0.05</text>
<line x1="78.0" y1="412.4" x2="81.5" y2="412.4" stroke="#4a4a4a" stroke-width="1"/>
<text x="74.8" y="417.8" class="s" font-size="15" text-anchor="end">0.10</text>
<line x1="78.0" y1="348.4" x2="81.5" y2="348.4" stroke="#4a4a4a" stroke-width="1"/>
<text x="74.8" y="353.8" class="s" font-size="15" text-anchor="end">0.15</text>
<line x1="78.0" y1="284.5" x2="81.5" y2="284.5" stroke="#4a4a4a" stroke-width="1"/>
<text x="74.8" y="289.9" class="s" font-size="15" text-anchor="end">0.20</text>
<polyline points="108.9,244.9 162.9,267.2 208.0,285.6 237.1,299.5 254.7,312.0 273.6,325.1 298.9,348.9 314.9,363.5 335.3,389.6 348.9,401.8 366.4,420.7 378.0,435.3 391.8,450.4 407.8,466.4 422.4,483.8 437.5,500.4 457.2,527.7 464.2,537.9" fill="none" stroke="#808080" stroke-width="1.7" stroke-dasharray="5.3 5.9"/>
<polyline points="100.2,271.1 119.1,269.9 138.0,270.3 151.1,272.1 160.0,273.3 168.5,275.7 177.5,277.6 196.4,280.5 215.3,285.6 232.7,293.6 248.9,301.8 264.9,310.5 280.9,320.0 295.5,331.6 309.1,344.5 329.5,364.9 343.1,381.5 362.0,403.3 379.5,423.6 399.1,446.0 420.2,473.6 437.5,499.1 454.0,523.9 462.0,537.5" fill="none" stroke="#0000ff" stroke-width="2.0" stroke-dasharray="6.3 5.3 1.8 5.5"/>
<polyline points="108.6,260.0 130.7,259.7 155.5,262.6 229.8,284.6 235.6,287.5 240.0,290.4 254.7,297.5 269.3,306.9 277.3,312.7 292.4,330.0 308.4,348.2 316.4,356.3 328.0,369.3 344.0,389.6 385.3,439.6 419.5,489.6 456.5,538.5" fill="none" stroke="#000" stroke-width="2.2" stroke-linejoin="round"/>
<circle cx="269.3" cy="306.2" r="2.6" fill="#ff0000"/>
<circle cx="265.6" cy="329.5" r="2.6" fill="#ff0000"/>
<circle cx="287.0" cy="345.3" r="2.6" fill="#ff0000"/>
<circle cx="308.8" cy="348.6" r="2.6" fill="#ff0000"/>
<circle cx="304.0" cy="361.7" r="2.6" fill="#ff0000"/>
<circle cx="317.1" cy="361.7" r="2.6" fill="#ff0000"/>
<circle cx="320.4" cy="372.2" r="2.6" fill="#ff0000"/>
<circle cx="319.3" cy="379.2" r="2.6" fill="#ff0000"/>
<circle cx="341.0" cy="382.7" r="2.6" fill="#ff0000"/>
<circle cx="345.0" cy="391.9" r="2.6" fill="#ff0000"/>
<circle cx="355.9" cy="397.7" r="2.6" fill="#ff0000"/>
<circle cx="360.3" cy="408.1" r="2.6" fill="#ff0000"/>
<circle cx="373.9" cy="417.5" r="2.6" fill="#ff0000"/>
<circle cx="380.6" cy="417.5" r="2.6" fill="#ff0000"/>
<circle cx="380.6" cy="430.5" r="2.6" fill="#ff0000"/>
<circle cx="390.2" cy="439.2" r="2.6" fill="#ff0000"/>
<circle cx="396.9" cy="444.3" r="2.6" fill="#ff0000"/>
<circle cx="398.7" cy="467.5" r="2.6" fill="#ff0000"/>
<circle cx="412.9" cy="466.1" r="2.6" fill="#ff0000"/>
<circle cx="424.1" cy="479.5" r="2.6" fill="#ff0000"/>
<circle cx="419.1" cy="487.2" r="2.6" fill="#ff0000"/>
<circle cx="424.7" cy="494.4" r="2.6" fill="#ff0000"/>
<circle cx="436.8" cy="508.3" r="2.6" fill="#ff0000"/>
<circle cx="439.1" cy="515.3" r="2.6" fill="#ff0000"/>
<circle cx="456.5" cy="508.3" r="2.6" fill="#ff0000"/>
<circle cx="452.1" cy="521.0" r="2.6" fill="#ff0000"/>
<circle cx="454.9" cy="533.8" r="2.6" fill="#ff0000"/>
<rect x="85.5" y="452.5" width="157.0" height="84.5" fill="#fff" stroke="#4a4a4a" stroke-width="1"/>
<line x1="89.3" y1="465.5" x2="101.5" y2="465.5" stroke="#000" stroke-width="2.2"/>
<line x1="89.3" y1="485.1" x2="101.5" y2="485.1" stroke="#0000ff" stroke-width="2.0" stroke-dasharray="6.3 5.3 1.8 5.5"/>
<line x1="89.3" y1="504.5" x2="101.5" y2="504.5" stroke="#808080" stroke-width="1.7" stroke-dasharray="5.3 5.9"/>
<circle cx="95.4" cy="524.0" r="2.8000000000000003" fill="#ff0000"/>
<text x="105.3" y="470.7" class="s" font-size="15">rVPM/LSM</text>
<text x="105.3" y="490.3" class="s" font-size="15">Alvarez(rVPM/ALM)</text>
<text x="105.3" y="509.7" class="s" font-size="15">BEMT</text>
<text x="105.3" y="529.2" class="s" font-size="15">Experiments</text>
<text x="283.2" y="577.2" class="j" text-anchor="middle">J</text>
<g transform="translate(37.8,388) rotate(-90)"><text x="0" y="0" class="j">C</text><text x="10.6" y="3.3" class="j" style="font-size:10.5px">T</text></g>
<rect x="80.9" y="609.6" width="403.70000000000005" height="313.79999999999995" fill="none" stroke="#4a4a4a" stroke-width="1.1"/>
<line x1="141.5" y1="923.4" x2="141.5" y2="926.6999999999999" stroke="#4a4a4a" stroke-width="1"/>
<text x="141.5" y="942.3" class="s" font-size="14.6" text-anchor="middle">0.2</text>
<line x1="219.4" y1="923.4" x2="219.4" y2="926.6999999999999" stroke="#4a4a4a" stroke-width="1"/>
<text x="219.4" y="942.3" class="s" font-size="14.6" text-anchor="middle">0.4</text>
<line x1="297.4" y1="923.4" x2="297.4" y2="926.6999999999999" stroke="#4a4a4a" stroke-width="1"/>
<text x="297.4" y="942.3" class="s" font-size="14.6" text-anchor="middle">0.6</text>
<line x1="375.4" y1="923.4" x2="375.4" y2="926.6999999999999" stroke="#4a4a4a" stroke-width="1"/>
<text x="375.4" y="942.3" class="s" font-size="14.6" text-anchor="middle">0.8</text>
<line x1="453.3" y1="923.4" x2="453.3" y2="926.6999999999999" stroke="#4a4a4a" stroke-width="1"/>
<text x="453.3" y="942.3" class="s" font-size="14.6" text-anchor="middle">1.0</text>
<line x1="77.30000000000001" y1="923.4" x2="80.9" y2="923.4" stroke="#4a4a4a" stroke-width="1"/>
<text x="74.0" y="928.8" class="s" font-size="14.6" text-anchor="end">0.0</text>
<line x1="77.30000000000001" y1="766.5" x2="80.9" y2="766.5" stroke="#4a4a4a" stroke-width="1"/>
<text x="74.0" y="771.9" class="s" font-size="14.6" text-anchor="end">0.5</text>
<line x1="77.30000000000001" y1="609.6" x2="80.9" y2="609.6" stroke="#4a4a4a" stroke-width="1"/>
<text x="74.0" y="615.0" class="s" font-size="14.6" text-anchor="end">1.0</text>
<polyline points="98.7,882.0 108.2,871.6 132.2,845.5 161.5,812.4 200.0,772.0 209.5,762.2 239.3,731.3 272.9,704.4 282.2,699.4 294.5,692.1 304.7,685.5 311.3,681.9 322.2,680.0 338.2,676.8 358.5,673.2 376.4,669.6 401.1,681.3 418.9,690.0 429.1,697.3 436.4,716.2 445.1,736.5 449.5,751.1 453.8,769.3 457.1,790.5 460.4,825.4 461.2,835.9 462.6,858.3 464.9,891.8 466.3,916.1" fill="none" stroke="#808080" stroke-width="1.7" stroke-dasharray="5.3 5.9"/>
<polyline points="98.7,882.8 115.5,866.3 138.0,839.6 154.0,823.6 162.9,815.3 192.0,787.6 202.9,776.4 219.6,762.9 232.0,750.9 264.0,730.5 271.5,724.7 279.3,720.4 304.9,707.3 312.0,703.7 329.5,697.2 339.6,694.0 348.4,691.1 366.2,687.8 386.5,686.4 401.1,691.5 410.2,696.5 417.5,703.8 421.8,711.8 429.1,727.8 433.5,736.5 439.3,754.0 441.5,764.0 443.4,773.1 446.2,790.5 449.5,809.1 452.7,835.2 454.4,855.5 455.6,874.1 457.0,892.8 457.9,919.8" fill="none" stroke="#0000ff" stroke-width="2.0" stroke-dasharray="6.3 5.3 1.8 5.5"/>
<polyline points="106.7,885.2 142.4,851.3 165.1,829.8 170.0,825.8 193.5,800.7 216.7,779.7 221.8,775.6 234.9,767.6 261.1,745.1 270.0,738.5 278.7,729.8 299.1,717.5 312.2,711.6 323.8,708.7 334.0,703.6 340.0,701.6 350.0,697.1 357.5,694.8 374.9,691.9 389.5,695.1 400.0,699.9 411.3,704.5 414.5,706.7 426.2,716.2 437.8,727.8 443.6,738.0 449.5,756.9 452.7,776.4 456.0,801.4 457.6,814.5 459.8,838.5 461.2,863.0 462.1,890.9 464.0,920.7" fill="none" stroke="#000" stroke-width="2.2" stroke-linejoin="round"/>
<circle cx="259.6" cy="742.2" r="2.6" fill="#ff0000"/>
<circle cx="299.5" cy="721.5" r="2.6" fill="#ff0000"/>
<circle cx="312.7" cy="699.4" r="2.6" fill="#ff0000"/>
<circle cx="319.3" cy="700.1" r="2.6" fill="#ff0000"/>
<circle cx="326.3" cy="689.5" r="2.6" fill="#ff0000"/>
<circle cx="334.7" cy="689.5" r="2.6" fill="#ff0000"/>
<circle cx="334.0" cy="706.5" r="2.6" fill="#ff0000"/>
<circle cx="348.4" cy="688.6" r="2.6" fill="#ff0000"/>
<circle cx="358.7" cy="688.6" r="2.6" fill="#ff0000"/>
<circle cx="374.5" cy="690.0" r="2.6" fill="#ff0000"/>
<circle cx="377.5" cy="695.8" r="2.6" fill="#ff0000"/>
<circle cx="388.3" cy="690.0" r="2.6" fill="#ff0000"/>
<circle cx="396.7" cy="697.3" r="2.6" fill="#ff0000"/>
<circle cx="404.0" cy="703.2" r="2.6" fill="#ff0000"/>
<circle cx="411.0" cy="709.6" r="2.6" fill="#ff0000"/>
<circle cx="425.5" cy="722.3" r="2.6" fill="#ff0000"/>
<circle cx="434.6" cy="745.0" r="2.6" fill="#ff0000"/>
<circle cx="453.8" cy="759.8" r="2.6" fill="#ff0000"/>
<circle cx="443.7" cy="766.4" r="2.6" fill="#ff0000"/>
<circle cx="441.3" cy="776.9" r="2.6" fill="#ff0000"/>
<circle cx="456.0" cy="810.7" r="2.6" fill="#ff0000"/>
<circle cx="461.8" cy="870.7" r="2.6" fill="#ff0000"/>
<circle cx="463.3" cy="877.4" r="2.6" fill="#ff0000"/>
<rect x="84.7" y="613.3" width="153.8" height="82.20000000000005" fill="#fff" stroke="#4a4a4a" stroke-width="1"/>
<line x1="87.8" y1="625.9" x2="100.5" y2="625.9" stroke="#000" stroke-width="2.2"/>
<line x1="87.8" y1="644.7" x2="100.5" y2="644.7" stroke="#0000ff" stroke-width="2.0" stroke-dasharray="6.3 5.3 1.8 5.5"/>
<line x1="87.8" y1="664.0" x2="100.5" y2="664.0" stroke="#808080" stroke-width="1.7" stroke-dasharray="5.3 5.9"/>
<circle cx="94.2" cy="683.5" r="2.8000000000000003" fill="#ff0000"/>
<text x="104.0" y="631.1" class="s" font-size="14.6">rVPM/LSM</text>
<text x="104.0" y="649.9" class="s" font-size="14.6">Alvarez(rVPM/ALM)</text>
<text x="104.0" y="669.2" class="s" font-size="14.6">BEMT</text>
<text x="104.0" y="688.7" class="s" font-size="14.6">Experiments</text>
<text x="283.2" y="959.2" class="j" text-anchor="middle">J</text>
<g transform="translate(47.3,765.8) rotate(-90)"><text x="0" y="0" class="j" text-anchor="middle" style="font-size:17px">η</text></g>
</svg>
</body></html>
